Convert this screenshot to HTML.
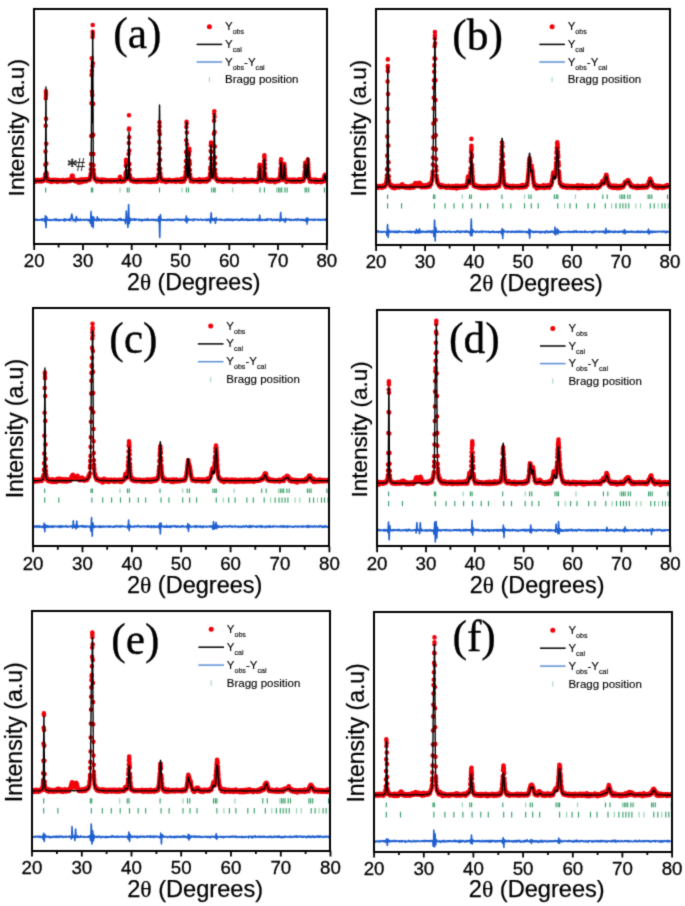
<!DOCTYPE html>
<html><head><meta charset="utf-8"><title>Rietveld refinement XRD patterns</title>
<style>
html,body{margin:0;padding:0;background:#fff;}
body{width:685px;height:906px;overflow:hidden;}
svg{display:block;}
text{font-family:"Liberation Sans",Arial,sans-serif;fill:#111;}
.pl{font-family:"Liberation Serif","Times New Roman",serif;fill:#000;}
.ast{font-family:"Liberation Serif","Times New Roman",serif;fill:#222;}
.th{font-family:"Liberation Serif","Times New Roman",serif;}
.tl,.xt,.yt{fill:#000;}
.tl{stroke:#000;stroke-width:0.3px;}
.xt,.yt{stroke:#000;stroke-width:0.25px;}
.pl{stroke:#000;stroke-width:0.3px;}
.lg{stroke:#000;stroke-width:0.12px;}
.lg{fill:#000;}
</style></head><body>
<svg width="685" height="906" viewBox="0 0 685 906">
<defs><filter id="sb" x="0" y="0" width="1" height="1" color-interpolation-filters="sRGB"><feConvolveMatrix order="3" kernelMatrix="0.025 0.1 0.025 0.1 0.5 0.1 0.025 0.1 0.025" edgeMode="duplicate" preserveAlpha="true"/></filter></defs>
<g filter="url(#sb)">
<rect width="685" height="906" fill="#fff"/>
<clipPath id="clipa"><rect x="34.2" y="8.9" width="292.6" height="235.2"/></clipPath>
<g clip-path="url(#clipa)">
<path d="M34.3 180.9h0m.1.6h0m.3-.9h0m.4.5h0m.5-1.1h0m.1 1.6h0m.2-.8h0m.5.3h0m.8-.7h0m.3.6h0m.3-1.1h0m.3.7h0m.5.7h0m.3-.8h0m.3.7h0m.6-.5h0m.6.6h0m.1-1.2h0m.6.7h0m.5.6h0m.4-.5h0m.3-1h0m.1 1h0m.3-1.3h0m.2 1.1h0m.4-.6h0m.5-.4h0m.1.7h0m.4-1.2h0m.2.7h0m.1-.7h0m.2-1.1h0m.3-1.1h0m.1-2.4h0m.2-9.9h0m.1-13.1h0m.2-25.9h0m.1-27.5h0m.2-5.2h0m.1 25.8h0m.2 24.9h0m.1 19.9h0m.1 9.3h0m.2 1.5h0m.1 2.6h0m.3 1.8h0m.2 1.2h0m.1.6h0m.2-2h0m.1.9h0m.2.9h0m.1.6h0m.3-1.1h0m.1.6h0m.6.2h0m.6-.7h0m.3 1.3h0m.2-.7h0m.1-.6h0m.1 1.4h0m.5-.6h0m.3-.8h0m.1 1.4h0m.2.6h0m.1-1.6h0m.3.7h0m.2-.7h0m.4.5h0m.6-.3h0m.3-.8h0m.3 1.4h0m.1-.7h0m.3.6h0m.6-.3h0m.6-.5h0m.4.7h0m.3-1.1h0m.2.9h0m.2.6h0m.3-.9h0m.3 1.3h0m.2-.6h0m.3.7h0m.1-1.4h0m.3.6h0m.6-.2h0m.1-.8h0m.2.7h0m.6.3h0m.6-.2h0m.5.1h0m.5-.8h0m.1 1.1h0m.2-.8h0m.6.5h0m.3-.7h0m.2 1.2h0m.2-.6h0m.4-.8h0m.2 1.6h0m.1-1.6h0m.2 1h0m.3-.9h0m.1.8h0m.6.3h0m.4-.5h0m.5.4h0m.1-.6h0m.5 1h0m.2-1h0m.2.6h0m.6-1.5h0m.1 1.2h0m.2-.6h0m.7.9h0m.6-.6h0m.1-.8h0m.2 1h0m.6.2h0m.1-.8h0m.7.8h0m.3-1h0m.6-.2h0m.2-1.4h0m.4-1h0m.2-1.6h0m.2.6h0m.2-.7h0m.3 1.5h0m.1-1.4h0m.2 1.9h0m.4 2.1h0m.3-.7h0m.2 1.2h0m.2-1h0m.2.8h0m.3.8h0m.6-.4h0m.1.8h0m.6-1.1h0m.3 1.3h0m.1-.6h0m.8-.5h0m.4 1h0m.2-.9h0m.5.3h0m.2-.6h0m.1.8h0m.2 1.6h0m.1-2.5h0m.2.8h0m.4-1h0m.3 1.1h0m.3.6h0m.1-1.2h0m.3 1.8h0m.2-1.8h0m.6.8h0m.3-.8h0m.3 1.7h0m.1-.7h0m.1-2h0m.2 1.3h0m.6 1h0m.3-.5h0m.6.1h0m.2-.8h0m.2.8h0m.3-.7h0m.6-1.4h0m.1 1.9h0m.3-.6h0m.2.6h0m.4-1.9h0m.1 1.2h0m.3.9h0m.5-1.5h0m.1-.6h0m.2 1.4h0m.4-.4h0m.3-.9h0m.1 1h0m.6-.6h0m.8-.8h0m.3 1h0m.1-1.5h0m.4-1.5h0m.2-.7h0m.3-1.2h0m.1-1.3h0m.2-4.3h0m.1-5h0m.2-10.4h0m.1-18h0m.2-32.8h0m.1-28.2h0m.2-16.6h0m.1 12.5h0m.1 20.9h0m.2 11.8h0m.1-8.6h0m.2-29h0m.1-28.9h0m.2-2.7h0m.1 28.8h0m.2 40.7h0m.1 31h0m.2 19.2h0m.1 11.1h0m.2 4.9h0m.1 3.4h0m.1 1h0m.2.8h0m.1 2.2h0m.3 1h0m.6.3h0m.2.9h0m.3-1.1h0m.1 1h0m.1-.7h0m.2 1h0m.1-.7h0m.3.9h0m.3-.9h0m.2 1.4h0m.1.8h0m.2-2h0m.1 1.9h0m.2-1.3h0m.5 1.1h0m.3-1h0m.6.9h0m.2-1.3h0m.1.7h0m.3.7h0m.3-.7h0m.7.8h0m.5-.6h0m.3-.8h0m.1.9h0m.3 1.2h0m.1-.8h0m.5-1.6h0m.1 1.6h0m.3-.7h0m.2.7h0m.3-1.1h0m.1 1.2h0m.4-.5h0m.3-.7h0m.2.8h0m.3-.6h0m.1 1.1h0m.2-.7h0m.1-.8h0m.2.9h0m.4-.5h0m.1 1.1h0m.2-.9h0m.6 1h0m.3-.8h0m.3.8h0m.3-.7h0m.5-.3h0m.3.6h0m.8.3h0m.1-.6h0m.6.5h0m.1-1h0m.2 1.3h0m.1-1h0m.5.6h0m.6-1h0m.3.5h0m.2.8h0m.3-.6h0m.5-.4h0m.3.7h0m.6-.9h0m.2.7h0m.2-.7h0m.3 1.1h0m.4-.5h0m.6.2h0m.5-.5h0m.2.6h0m.6-1.1h0m.3.9h0m.3-.7h0m.5.5h0m.4.9h0m.1-.9h0m.2.7h0m.3-1.2h0m.4.9h0m.2-1h0m.1 1.2h0m.3-2.2h0m.1 1.1h0m.3-2.3h0m.2.7h0m.1-1.7h0m.2 1.9h0m.3 1.4h0m.1-.9h0m.3 1.5h0m.2 1h0m.1-1.5h0m.1.8h0m.3-.6h0m.3 1h0m.2-1.5h0m.1.9h0m.3-1h0m.2 1.6h0m.3-1.4h0m.1 1.4h0m.2-.9h0m.2.7h0m.2-.7h0m.3.6h0m.4-1.8h0m.3 1.1h0m.2-1.4h0m.3-1.2h0m.1-.7h0m.1-3.1h0m.2-1.4h0m.1-7h0m.2-3.9h0m.1-2.1h0m.2 3.6h0m.1 2.2h0m.2 5.9h0m.1 3.3h0m.2 2.6h0m.1 1.1h0m.6.4h0m.1-.7h0m.2-.9h0m.1-.6h0m.2-1.7h0m.1-2.3h0m.2-9.2h0m.1-9.3h0m.2-11.1h0m.1-13.5h0m.2-1h0m.1 8.9h0m.1 13.2h0m.2 13.5h0m.1 5.7h0m.2 5.2h0m.1 1.4h0m.3.6h0m.2 2.6h0m.3-.8h0m.1 1.6h0m.2-1.4h0m.1 1.6h0m.3-.8h0m.3 1h0m.1-1h0m.2 1.1h0m.1-1.1h0m.2 1.1h0m.3-.6h0m.4-.7h0m.2.9h0m.4-.5h0m.1 1.6h0m.2-1.1h0m.3.9h0m.3-.8h0m.7.9h0m.3-.7h0m.6.4h0m.1-.6h0m.3 1.4h0m.2-1h0m.3.8h0m.1-1h0m.4-.4h0m.3.6h0m.3-.6h0m.5 1h0m.1-.9h0m.3 1.3h0m.2-1.2h0m.1.9h0m.3-.7h0m.1-.7h0m.2 1h0m.6.3h0m.3-1.1h0m.1 1.2h0m.2-.6h0m.4.8h0m.3-1.7h0m.1.9h0m.6-.8h0m.2 1.2h0m.1-.9h0m.6.8h0m.3-.7h0m.4.8h0m.5-.6h0m.4-.7h0m.1 1.6h0m.2-1.1h0m.3 1h0m.3-.6h0m.3-.8h0m.1.8h0m.5.6h0m.1-1.2h0m.3.8h0m.4-.6h0m.3-.6h0m.6 1.1h0m.3-1.1h0m.2 2.1h0m.1-1.6h0m.3 1h0m.3-1.1h0m.4 1.1h0m.2-.7h0m.4.7h0m.2-1.3h0m.4 1.8h0m.3-.6h0m.4-1.5h0m.2 1.1h0m.1-.8h0m.5.5h0m.5-.3h0m.2.8h0m.4-.8h0m.2-1h0m.1 1.2h0m.2 1.3h0m.1-.9h0m.7-.6h0m.6-.4h0m.2.7h0m.7 1.1h0m.2-1.4h0m.2.8h0m.2-1.2h0m.4.5h0m.2-1.1h0m.3-.9h0m.1-1.5h0m.3-2.6h0m.2-4.9h0m.1-5h0m.1-10.9h0m.2-11.4h0m.1-11.3h0m.2-8.4h0m.1 4.1h0m.2 7.6h0m.1 14.4h0m.2 11.5h0m.1 8.8h0m.2 4.5h0m.1 2.4h0m.2 1.5h0m.1.8h0m.1 1.3h0m.2-.7h0m.1 1h0m.6 1.6h0m.2-1.5h0m.1.6h0m.6.3h0m.3-.9h0m.1.8h0m.2-.6h0m.1.8h0m.2-.7h0m.3.6h0m.1.7h0m.3-.5h0m.3-.6h0m.6 1.1h0m.3-1.2h0m.1 1.9h0m.3-.8h0m.3.8h0m.2-1.2h0m.4-.7h0m.1.9h0m.6-.7h0m.2 1.1h0m.1-1.1h0m.2.9h0m.1-1.2h0m.2 1h0m.4-.5h0m.2-.8h0m.2 1.1h0m.3-.7h0m.5.6h0m.4.5h0m.5-.8h0m.5.8h0m.3-.6h0m.2.9h0m.6-.3h0m.1-1h0m.3 1.1h0m.1-.9h0m.3.6h0m.6-.3h0m.6.8h0m.3-1.1h0m.1 1h0m.2-.7h0m.3-.6h0m.1.7h0m.5-.9h0m.1 1.9h0m.2-1.1h0m.3.6h0m.1-.6h0m.3-.6h0m.1.8h0m.6-.8h0m.5 1h0m.4-1.3h0m.3.6h0m.4.5h0m.3-.8h0m.3.7h0m.5 1h0m.1-1.3h0m.6.4h0m.6-.3h0m.1-1h0m.2-.8h0m.1 2.9h0m.2-.8h0m.3-1.4h0m.2 1.6h0m.2-2.2h0m.1 1.2h0m.2.7h0m.4-.8h0m.2 1.4h0m.1-2h0m.3.5h0m.6-1.2h0m.1-.8h0m.2 1.3h0m.3-1.3h0m.1-2.9h0m.2-3.2h0m.1-4.6h0m.2-6.1h0m.1-9h0m.2-11.8h0m.1-13.4h0m.2-5.1h0m.1 1.6h0m.1 9.2h0m.2 11.8h0m.1 10.9h0m.2 9.2h0m.1 5.3h0m.2 3.5h0m.1 1.2h0m.2 1.7h0m.3-1.6h0m.1 1h0m.2-2.2h0m.1-2h0m.1-5.4h0m.2-5.7h0m.1-5.8h0m.2-4.7h0m.1-1h0m.2 2.5h0m.1 9.7h0m.2 2.9h0m.1 6.2h0m.2 4.4h0m.1 2.1h0m.2 1.4h0m.1.9h0m.1.8h0m.3 1.5h0m.2-2.1h0m.1.8h0m.6 1.1h0m.2-1.2h0m.3.9h0m.3.7h0m.2-.8h0m.6-.8h0m.2.8h0m.6.9h0m.4-1.2h0m.4.5h0m.8-.6h0m.4.6h0m.2-.7h0m.2 1h0m.3-.8h0m.5.7h0m.4-.9h0m.2 1.4h0m.4-.6h0m.1-.7h0m.3.7h0m.5-1.7h0m.1 1.4h0m.3.8h0m.3.6h0m.3-.6h0m.3-1.3h0m.1 1.1h0m.3-.7h0m.6.2h0m.6.3h0m.2-1.2h0m.1.8h0m.1-.7h0m.2.6h0m.6.2h0m.1.8h0m.2-1.3h0m.1.9h0m.2-1.2h0m.3.9h0m.5-.7h0m.5-.5h0m.1.9h0m.3.8h0m.2-1.2h0m.1 1.4h0m.2-1.2h0m.1 1.3h0m.1-.8h0m.6.4h0m.3-1h0m.3-1.3h0m.2 1.2h0m.6-.2h0m.5-1.3h0m.2 1.3h0m.1-1.5h0m.5-.4h0m.1-1.3h0m.2-1.5h0m.1-1.6h0m.2-4.3h0m.1-1.8h0m.1-9.1h0m.2-7.3h0m.1-5.7h0m.2-2.8h0m.1 1.1h0m.2 8.1h0m.1 7.4h0m.2 4.5h0m.1 6.2h0m.2 2.3h0m.1 2.9h0m.2 1.3h0m.1.6h0m.3-.7h0m.1.9h0m.2-1.5h0m.3-1.8h0m.1-3.8h0m.2-5.9h0m.1-5.8h0m.2-12.2h0m.1-12.4h0m.2-13.1h0m.1-7.2h0m.1-2.2h0m.2 5.4h0m.1 15.4h0m.2 14.4h0m.1 10.9h0m.2 6.1h0m.1 6.3h0m.2 3.9h0m.1 2.3h0m.2.7h0m.3 1.8h0m.3-.6h0m.1.9h0m.1.6h0m.5.7h0m.4-.9h0m.2 1.2h0m.3.9h0m.1-1.1h0m.3.9h0m.3-.5h0m.3-.6h0m.1.8h0m.2-.8h0m.6-.5h0m.1.6h0m.2.7h0m.5.2h0m.3-.8h0m.6-.3h0m.2.7h0m.3 1.2h0m.1-1.1h0m.4 1h0m.2-1.4h0m.4.4h0m.3.6h0m.2-1.2h0m.1.6h0m.2.9h0m.1-1.1h0m.4-1h0m.2 1.2h0m.1.7h0m.2-.8h0m.1-.7h0m.2 1h0m.6-.2h0m.3-.8h0m.1 1.4h0m.6-.6h0m.4-.9h0m.2.9h0m.4.5h0m.4-.8h0m.3.8h0m.5-.6h0m.6-.7h0m.1 1.3h0m.2-1.1h0m.2.6h0m.3-.6h0m.2 1.3h0m.6-.9h0m.1-1.2h0m.2 1.7h0m.4-.4h0m.4-.6h0m.3.5h0m.2 1.1h0m.1-1.1h0m.2 1.1h0m.1-.7h0m.2-.8h0m.1 1.8h0m.2-1.5h0m.1.7h0m.3-.5h0m.3.7h0m.3-1h0m.4 1h0m.2-.6h0m.3.9h0m.5-1.5h0m.2 1.3h0m.3-.6h0m.3-.7h0m.3.7h0m.6.4h0m.5-.5h0m.6.2h0m.5-.5h0m.4 1h0m.3-1.1h0m.1.9h0m.5-.6h0m.3.7h0m.3-1h0m.6.4h0m.2.9h0m.2-.9h0m.1.8h0m.3-.8h0m.2-.6h0m.1 1.2h0m.3.7h0m.3-.8h0m.3-.8h0m.1.6h0m.3.7h0m.3-2.3h0m.2 2.1h0m.1-1.1h0m.2.8h0m.1-.6h0m.3.6h0m.3-.8h0m.2 1.1h0m.2-.6h0m.5.9h0m.1-.8h0m.5-.6h0m.3.6h0m.3.5h0m.2-1.2h0m.2.8h0m.6-.8h0m.1 1.1h0m.2-.9h0m.1.6h0m.2-1h0m.1 1.1h0m.2-.7h0m.1.9h0m.4-1.1h0m.5.9h0m.7-.1h0m.6-1.2h0m.3.6h0m.4.8h0m.2-.7h0m.7.4h0m.6-.2h0m.3.8h0m.1-.9h0m.6-.2h0m.7.8h0m.2-.7h0m.1.6h0m.5-.9h0m.3 1.6h0m.1-1h0m.6-1.3h0m.3.7h0m.3-.9h0m.3-1.1h0m.1-.9h0m.2-2.2h0m.1-2.2h0m.2-1.4h0m.1-4.1h0m.2-1.6h0m.1-1h0m.3 2.9h0m.1 1.9h0m.2 2.8h0m.1 1.6h0m.2 2h0m.1 2.1h0m.2.7h0m.3.8h0m.4 1h0m.2-1.1h0m.5-.5h0m.2.9h0m.3-.7h0m.3-.8h0m.1-1.4h0m.3-3.8h0m.2-1.4h0m.1-4.7h0m.1-3.1h0m.2-3.1h0m.1-4.2h0m.2-1.4h0m.1 2.4h0m.2 2.5h0m.1 4.1h0m.2 4.1h0m.1 4.9h0m.2 1.9h0m.1 1.7h0m.3 2.1h0m.1-.7h0m.2 1.4h0m.1-.8h0m.2 2h0m.1-2h0m.2 1.8h0m.3-1.5h0m.1.9h0m.2.9h0m.3-1.6h0m.1.7h0m.6 1.3h0m.1-.9h0m.6.4h0m.2-.8h0m.1 1.2h0m.2-1.3h0m.3.8h0m.1.6h0m.1-1h0m.3.8h0m.6-.5h0m.6.7h0m.2-1.8h0m.2 1.7h0m.3-1h0m.3.9h0m.2-.9h0m.1.7h0m.5-.4h0m.1.6h0m.2-1.1h0m.2.8h0m.2-.9h0m.3.9h0m.6-.8h0m.1 2h0m.2-2h0m.5 1.2h0m.2-.7h0m.4.9h0m.2-.9h0m.1-.7h0m.2 1h0m.1-.6h0m.6.2h0m.3-.9h0m.1 1.3h0m.2-.6h0m.4-1.2h0m.3 1.7h0m.2-1.2h0m.3-.6h0m.5-.4h0m.2-1.1h0m.1-1.2h0m.2-1.2h0m.1-2.1h0m.2-3.2h0m.1-1.7h0m.2-4.6h0m.1-2.6h0m.2-1.8h0m.1 2.7h0m.2.6h0m.1 2.8h0m.1 3.9h0m.2 4.1h0m.1.9h0m.2 3.3h0m.4 1h0m.2 1.4h0m.1-1.6h0m.6-.9h0m.1-2.4h0m.2-1.5h0m.1-2.3h0m.2-1.9h0m.1-1.5h0m.2-3.8h0m.1 1.2h0m.3 3h0m.2 1.4h0m.1 2.8h0m.2 3h0m.1.7h0m.2 2.4h0m.2.8h0m.5.7h0m.1.7h0m.2 1.2h0m.1-2.3h0m.2.9h0m.3-.6h0m.1.7h0m.4.6h0m.2-1.7h0m.1 1.2h0m.3-.6h0m.2.8h0m.6-.9h0m.1 1h0m.3-.9h0m.4 1h0m.2-1.1h0m.1.6h0m.3.9h0m.2-1.3h0m.1 1h0m.2-1.3h0m.1 1h0m.4-.5h0m.2-.6h0m.3 1.6h0m.3-1.1h0m.1.9h0m.2-.8h0m.4.9h0m.3-1h0m.2.6h0m.2.9h0m.2-2.2h0m.1 1.2h0m.3-.8h0m.2 1h0m.4-.5h0m.5.5h0m.4-.9h0m.1 1.5h0m.5-1.2h0m.3 1.2h0m.3-1.3h0m.7 1h0m.3-.7h0m.1-.7h0m.3.8h0m.5.6h0m.3-1h0m.1-1h0m.1.8h0m.5.7h0m.4-.7h0m.2 1.7h0m.1-1h0m.5-.9h0m.1 1h0m.7.3h0m.2-.9h0m.4-.6h0m.5.9h0m.3-1.6h0m.1 1h0m.1.7h0m.2-2h0m.3.5h0m.1-1.3h0m.3-1h0m.2-2.5h0m.1-.7h0m.2-2.4h0m.1-4.1h0m.2-1.5h0m.1-1h0m.1-2h0m.2 1.3h0m.1 2.2h0m.2 1.7h0m.1 3.6h0m.2 1.7h0m.1.6h0m.2 2.2h0m.1.8h0m.3-1.9h0m.3-1.8h0m.1-3.6h0m.2-2.2h0m.1-3h0m.2-4h0m.1-.7h0m.3 2.9h0m.2 2h0m.1 3h0m.2 3.5h0m.1 2.6h0m.2 2.3h0m.1 1.5h0m.3 1h0m.1 1h0m.5 2h0m.1-.8h0m.8-1.2h0m.1 1h0m.3 1.2h0m.1-2.1h0m.2 1.8h0m.1-.8h0m.2.5h0m.1-.6h0m.3.8h0m.5-.6h0m.7.8h0m.1-1.3h0m.3.6h0m.2.9h0m.6-1.2h0m.3-.9h0m.1 1h0m.2.6h0m.1-1.1h0m.4.9h0m.3 1.2h0m.3-2h0m.3.8h0m.3-.9h0m.3.6h0m.4.5h0m.6.7h0m.2-1.5h0m.3.8h0m.1.6h0m.2-.8h0m.5-.4h0m.2.7h0m.6.2h0m.1-.9h0m.2.8h0m.1-1.3h0m.2 1.3h0m.1.9h0m.1-1.1h0m.6-.5h0m.6.2h0m.3-1h0m.2 2h0m.1-1.1h0m.2-1h0m.1 1.4h0m.1-.7h0m.5-1.2h0m.1-1.7h0m.2 1.1h0m.3-.9h0m.1-2.1h0m.5-.7h0m.1.6h0m.1 1.1h0m.3 2.6h0m.2-.9h0m.1 1.2h0m.5 1.2h0m.3.6h0m-280.7-89.9h0m.1 4h0m46.7-70.4h0m0 6.9h0m36.3 83.3h0" stroke="#f2000a" stroke-width="4.6" stroke-linecap="round" fill="none"/>
<path d="M34.2 180.9l.5 0 .6 0 .5 0 .5 0 .6 0 .5 0 .6 0 .5-.1.5 0 .6 0 .5 0 .5 0 .6 0 .5-.1.5 0 .6-.1.5-.1.6-.3.4-.4.2-.3.2-.4.1-.5.1-.4.1-.7.1-.3 0-.5.1-.6 0-.8.1-1.1 0-1.5.1-2.2 0-3 .1-4.2 0-5.6.1-7.2 0-9 .1-10.5 0-11.5.1-11.7 0-10.6.1-7.5 0-2.7.1 2.7 0 7.5.1 10.6 0 11.7 0 11.5.1 10.5 0 9 .1 7.2 0 5.6.1 4.2 0 3 .1 2.2 0 1.5.1 1.1 0 .8.1.6 0 .5.1.3.1.7.1.4.1.5.2.4.2.3.4.4.5.3.6.1.5.1.5 0 .6.1.5 0 .6 0 .5 0 .5 0 .6 0 .5 0 .5.1.6 0 .5 0 .5 0 .6 0 .5 0 .6 0 .5 0 .5 0 .6 0 .5 0 .5 0 .6 0 .5 0 .6 0 .5 0 .5 0 .6 0 .5 0 .5 0 .6 0 .5 0 .5 0 .6 0 .5 0 .6 0 .5 0 .5 0 .6 0 .5 0 .5-.1.6 0 .5-.2.5-.2.6.1.5.2.6.1.5 0 .5 0 .6 0 .5 0 .5 0 .6 0 .5 0 .5 0 .6 0 .5 0 .6 0 .5 0 .5 0 .6 0 .5 0 .5 0 .6 0 .5 0 .5-.1.6 0 .5 0 .6 0 .5-.1.5 0 .6-.1.5-.1.5-.2.6-.2.5-.3.4-.4.2-.4.2-.3.1-.4.2-.5.1-.4.1-.5.1-.5.1-.7 0-.5.1-.5 0-.6.1-.7 0-.8.1-1.2 0-1.4.1-1.9 0-2.4.1-3.3 0-4.2.1-5.5 0-6.7.1-8.3 0-9.7.1-11 0-11.9 0-12.3.1-11.8 0-10.1.1-7 0-2.9.1 1.7 0 5.8.1 8.7 0 10.1.1 10.3 0 9.4.1 7.7 0 5.5.1 2.8.1-3.3 0-6.1.1-8.9 0-11.2.1-13.1 0-13.8.1-13.4 0-11.5.1-7.6 0-2.5.1 3.4 0 8.7.1 12.5 0 14.7.1 15.4 0 15 .1 13.8 0 12.2.1 10.4 0 8.5.1 6.9 0 5.3.1 4.1 0 3.1.1 2.4 0 1.7 0 1.4.1 1.1 0 .9.1.7 0 .6.1.5 0 .4.1.4 0 .4.1.6.1.5.1.4.1.4.2.4.2.4.2.5.3.3.4.4.6.2.5.2.6.1.5.1.5.1.6 0 .5.1.5 0 .6 0 .5 0 .5.1.6 0 .5 0 .6 0 .5 0 .5 0 .6 0 .5 0 .5 0 .6 0 .5 0 .5 0 .6 0 .5 0 .6 0 .5 0 .5 0 .6 0 .5.1.5 0 .6 0 .5 0 .5 0 .6 0 .5-.1.6 0 .5 0 .5 0 .6 0 .5 0 .5 0 .6 0 .5 0 .5-.1.3-.4.2-.4.1-.4.1-.3.4.5.2.5.2.3.5.2.5.1.6-.1.5 0 .5 0 .6-.1.5-.1.6-.4.2-.4.1-.5.1-.7.1-.4 0-.6.1-.8 0-.8.1-1.1 0-1.2.1-1.4 0-1.5.1-1.6 0-1.5.1-1.5 0-1.1.1-.8.1.7.1 1.2 0 1.4.1 1.5 0 1.6.1 1.4 0 1.4.1 1.2 0 1 .1.9 0 .7.1.6 0 .4.1.6.2.4.5 0 .2-.4.2-.5.1-.5 0-.4.1-.5 0-.7.1-.8 0-1.1.1-1.3 0-1.8.1-2.1 0-2.6.1-3.1 0-3.5.1-4 0-4.3.1-4.5 0-4.5.1-4.1 0-3.3.1-2.2 0-.8.1.8 0 2.2 0 3.4.1 4.1 0 4.4.1 4.5 0 4.3.1 4 0 3.6.1 3.1 0 2.6.1 2.1 0 1.8.1 1.3 0 1.1.1.9 0 .6.1.5 0 .4.1.6.1.4.2.4.2.4.3.3.5.4.5.1.6.1.5.1.5 0 .6.1.5 0 .5 0 .6 0 .5 0 .6 0 .5 0 .5 0 .6 0 .5 0 .5 0 .6 0 .5.1.6 0 .5 0 .5 0 .6 0 .5 0 .5 0 .6 0 .5 0 .5 0 .6 0 .5-.1.6 0 .5 0 .5 0 .6 0 .5 0 .5 0 .6 0 .5 0 .5 0 .6 0 .5 0 .6 0 .5 0 .5-.1.6 0 .5 0 .5-.1.6-.1.5-.2.5-.2.5-.4.3-.4.2-.3.1-.4.2-.6.1-.5.1-.6 0-.5.1-.5 0-.7.1-.8 0-1.1.1-1.3 0-1.7 0-2.1.1-2.6 0-3.1.1-3.7 0-4.4.1-4.9 0-5.5.1-6.1 0-6.3.1-6.4 0-6.2.1-5.6 0-4.5.1-2.9 0-1 .1 1 0 2.9.1 4.5 0 5.6.1 6.2 0 6.4.1 6.3 0 6.1.1 5.5 0 4.9.1 4.4 0 3.7.1 3.1 0 2.6.1 2.1 0 1.7.1 1.3 0 1.1.1.8 0 .7.1.5 0 .5.1.3 0 .6.1.4.2.5.1.4.2.3.3.4.5.4.6.2.5.1.5.1.6.1.5 0 .5 0 .6.1.5 0 .5 0 .6 0 .5 0 .6 0 .5 0 .5 0 .6 0 .5 0 .5 0 .6 0 .5 0 .5 0 .6 0 .5 0 .6 0 .5 0 .5 0 .6 0 .5 0 .5 0 .6 0 .5 0 .5 0 .6 0 .5 0 .6-.1.5 0 .5 0 .6-.1.5 0 .5-.1.6-.2.5-.2.5-.4.3-.4.2-.4.1-.4.1-.3.1-.5.1-.6.1-.5 0-.5.1-.6 0-.9.1-1 0-1.2.1-1.6 0-1.8.1-2.2 0-2.6.1-3.1 0-3.4.1-3.8 0-4.1.1-4.5 0-4.5.1-4.6 0-4.3 0-3.8.1-3 0-1.9.1-.7 0 .7.1 1.9 0 3 .1 3.8 0 4.2.1 4.5 0 4.6.1 4.4 0 4.1.1 3.8 0 3.4.1 3 0 2.5.1 2.2 0 1.9.1 1.4 0 1.3.1.9 0 .8.1.6 0 .5.1.4.1.6.1.4.5-.6 0-.3 0-.5.1-.6 0-.7.1-.9 0-1.1.1-1.3 0-1.4.1-1.7 0-1.9.1-2.1 0-2.2.1-2.2 0-2.3.1-2.1 0-1.9.1-1.4 0-1 .2 1 0 1.6.1 1.9 0 2.1.1 2.3 0 2.3.1 2.3 0 2.1.1 1.9 0 1.8.1 1.5 0 1.3.1 1.2 0 .9.1.8 0 .7.1.5 0 .4.1.7.1.4.1.4.3.4.4.4.5.2.6.2.5.1.5 0 .6.1.5 0 .5 0 .6 0 .5.1.5 0 .6 0 .5 0 .6 0 .5 0 .5 0 .6 0 .5 0 .5 0 .6 0 .5 0 .5 0 .6 0 .5 0 .6-.1.5 0 .5 0 .6 0 .5 0 .5-.1.6-.1.5-.1.5-.1.6-.3.4-.3.2-.4.2-.5.1-.3.1-.5.1-.7.1-.5 0-.6.1-.8 0-.9 0-1 .1-1.3 0-1.4.1-1.7 0-1.9.1-2.1 0-2.3.1-2.5 0-2.6.1-2.6 0-2.6.1-2.4 0-2.1.1-1.7 0-1 .1-.4.1 1.4 0 1.6.1 2.1 0 2.4.1 2.5 0 2.6.1 2.5 0 2.5.1 2.3 0 2 .1 1.9 0 1.7.1 1.4 0 1.2.1 1 0 .8.1.7 0 .6.1.4 0 .4.1.5.1.4.6-.2.1-.4.1-.4.1-.6.1-.4 0-.5.1-.6 0-.7.1-.9 0-1.2.1-1.3 0-1.7.1-2 0-2.3.1-2.8 0-3.1.1-3.6 0-3.9.1-4.3 0-4.6.1-4.8 0-4.9.1-4.8 0-4.4 0-3.9.1-3 0-1.9.1-.7 0 .7.1 1.9 0 3.1.1 3.9 0 4.4.1 4.8 0 4.9.1 4.8 0 4.6.1 4.4 0 3.9.1 3.6 0 3.2.1 2.7 0 2.4.1 2 0 1.7.1 1.4 0 1.1.1 1 0 .7.1.7 0 .5.1.4 0 .4.1.5.1.4.2.5.1.4.2.3.3.4.4.4.6.2.5.2.5.1.6.1.5 0 .5.1.6 0 .5 0 .6.1.5 0 .5 0 .6 0 .5 0 .5 0 .6 0 .5 0 .5 0 .6 0 .5 0 .6 0 .5 0 .5.1.6 0 .5 0 .5 0 .6 0 .5 0 .5 0 .6 0 .5 0 .6 0 .5 0 .5 0 .6 0 .5 0 .5 0 .6 0 .5 0 .5 0 .6 0 .5 0 .6 0 .5 0 .5 0 .6 0 .5 0 .5 0 .6 0 .5 0 .6 0 .5 0 .5 0 .6 0 .5 0 .5 0 .6 0 .5 0 .5 0 .6 0 .5 0 .6 0 .5 0 .5 0 .6-.1.5 0 .5 0 .6 0 .5 0 .5 0 .6 0 .5 0 .6 0 .5-.1.5 0 .6-.1.5-.1.5-.3.3-.4.2-.5.1-.4.1-.6 0-.4.1-.4 0-.6.1-.5 0-.7.1-.7 0-.9.1-.8 0-.9.1-1 0-1 .1-1 0-.9.1-.8 0-.8 0-.5.1-.4.2.9 0 .7.1.9 0 .9.1 1 0 1 .1.9 0 .9.1.9 0 .8.1.7 0 .7.1.6 0 .5.1.4 0 .4.1.6.1.4.2.4.3.4.5.2.5-.1.6-.4.2-.4.2-.5.1-.6.1-.7 0-.5 0-.6.1-.7 0-.7.1-.9 0-1 .1-1.1 0-1.1.1-1.3 0-1.4.1-1.4 0-1.4.1-1.4 0-1.3.1-1.3 0-1 .1-.8 0-.5.2.5 0 .8.1 1 0 1.3.1 1.3 0 1.4.1 1.5 0 1.4.1 1.3 0 1.3.1 1.2 0 1.1.1.9 0 .9.1.8 0 .7.1.5 0 .5.1.5 0 .3.1.6.1.3.1.4.3.4.5.3.6.2.5.1.5.1.6 0 .5 0 .5.1.6 0 .5 0 .6 0 .5 0 .5 0 .6 0 .5 0 .5 0 .6 0 .5 0 .5 0 .6-.1.5 0 .6 0 .5-.1.5-.1.6-.1.5-.4.3-.3.1-.4.1-.4.1-.5.1-.7.1-.5 0-.5.1-.6 0-.7.1-.8 0-.8.1-1 0-1 .1-1.1 0-1.1.1-1.2 0-1.2.1-1.1 0-1.1.1-1 0-.9.1-.6 0-.5.2.4 0 .7.1.8 0 1 0 1.1.1 1.2 0 1.1.1 1.2 0 1.1.1 1.1 0 1 .1.9 0 .9.1.7 0 .7.1.6 0 .5.1.5 0 .3.1.6.1.4.2.4.5.2.3-.4.1-.6.1-.5.1-.4 0-.5.1-.4 0-.6.1-.7 0-.7.1-.7 0-.9.1-.9 0-.9.1-1 0-1 .1-.9 0-.9.1-.8 0-.7.1-.6.1-.4.1.5 0 .5.1.7 0 .8.1 1 0 .9.1 1 0 1 .1.9 0 1 .1.8 0 .8.1.7 0 .7.1.6 0 .5.1.4 0 .4.1.6.1.5.1.4.3.4.5.4.6.1.5.1.5.1.6 0 .5.1.5 0 .6 0 .5 0 .5 0 .6 0 .5 0 .6 0 .5 0 .5 0 .6 0 .5 0 .5 0 .6 0 .5 0 .5 0 .6 0 .5 0 .6 0 .5 0 .5 0 .6-.1.5 0 .5 0 .6-.1.5-.1.6-.1.5-.3.3-.4.2-.5.1-.4.1-.5.1-.8.1-.4 0-.5.1-.6 0-.6.1-.7 0-.8.1-.8 0-.9.1-.9 0-1 .1-1 0-1 .1-1 0-.9 0-.8.1-.7 0-.5.1-.5.1.4.1.5 0 .7.1.7 0 .9.1 1 0 .9.1 1 0 .9.1.9 0 .9.1.7 0 .8.1.6 0 .6.1.5 0 .4.1.4.1.6.1.4.3-.5.1-.5 0-.4.1-.5 0-.5 0-.7.1-.7 0-.8.1-1 0-1 .1-1.1 0-1.2.1-1.2 0-1.3.1-1.3 0-1.4.1-1.2 0-1.3.1-1 0-.9.1-.7 0-.5.2.5 0 .7.1 1 0 1.1.1 1.2 0 1.3.1 1.4 0 1.3.1 1.3 0 1.3.1 1.2 0 1.2.1 1 0 1 .1.8 0 .8.1.7 0 .6.1.5 0 .5.1.4 0 .6.1.5.2.4.2.4.3.3.6.3.5.2.5.1.6.1.5 0 .5 0 .6.1.5 0 .6 0 .5 0 .5 0 .6 0 .5 0 .5 0 .6 0 .5 0 .5 0 .6 0 .5 0 .6 0 .5 0 .5 0 .6 0 .5-.1.5-.1.5-.4.2-.4.1-.5.1-.4.1-.6.1-.6.1-.7.1-.6.1-.7.1-.5.4.5.1.7.1.6.1.7.1.6.1.6.1.4.1.3.1.4.3.4.5.3.1 0" stroke="#000" stroke-width="1.35" fill="none" stroke-linejoin="round"/>
<path d="M45.7 187.6V192.4M91.4 187.6V192.4M92.7 187.6V192.4M127.3 187.6V192.4M129.1 187.6V192.4M159.5 187.6V192.4M186.4 187.6V192.4M188.5 187.6V192.4M211.7 187.6V192.4M213.7 187.6V192.4M215.1 187.6V192.4M260 187.6V192.4M264.4 187.6V192.4M278.3 187.6V192.4M280 187.6V192.4M281.7 187.6V192.4M284.9 187.6V192.4M287.1 187.6V192.4M305.1 187.6V192.4M306.8 187.6V192.4M308.8 187.6V192.4M324.4 187.6V192.4" stroke="#2f9a62" stroke-width="1.1" fill="none"/>
<path d="M120 187.6V192.4M182 187.6V192.4M232.7 187.6V192.4M276.6 187.6V192.4" stroke="#8fd0ac" stroke-width="1.1" fill="none"/>
<path d="M34.2 219.7l.2.5.3-.9.2.6.3.2.2 0 .3-.7.2-.2.3 1.3.2-.9.2-.4.3.1.2.5.3.5.2-.5.3.5.2-.4.2.1.3.2.2-.5.3.3.2-.3.3-.1.2.5.3-.6.2.4.2-.4.3.3.2-.2.3.7.2-.4.3 0 .2.6.2-1.8.3.7.2-.7.3 1.1.2.2.3.1.2-.2.3-.4 0 1.1.1-.6 0-.2 0-.3.1.7 0-.2.1.1 0 .5.1.2 0-.2.1 1 0-.7.1.1 0 .7.1-.1 0-.1.1-.4 0-.1.1-.6 0-.9.1.4 0-1.3.1-.3 0-.2.1-.9 0 .6.1-2 0 .1.1.4 0 .8.1 0 0 .3.1 2.1 0 .5.1 1.6 0 1.9.1.7 0 1.3.1 1.3 0 .4.1.5 0-.6.1-.2 0-1.1 0-1.2.1.2 0-1.7.1-.9 0-1.9.1-.5 0-.9.1-1.1 0 .3.1-.9 0 .1.1-.5 0 1.1.1.1 0 .1.1-.2 0 .5.1.9 0-.3.1.4 0 .1.1-.4 0 1.2.1-1.4 0 .9.1-.1.2-.5.3.7.2.1.2-.2.3-.3.2.5.3.2.2-.3.3.6.2-.4.2 0 .3.3.2-.9.3.1.2.4.3 0 .2.4.3-.1.2-.4.2 0 .3-.2.2 0 .3-.1.2.6.3-.6.2.1.3.2.2-.3.2.1.3-.8.2 1.1.3-.3.2.2.3.1.2-.9.2 1.7.3-.9.2 0 .3-.8.2 1 .3-.1.2-.3.3.2.2.5.2-.7.3-.2.2.9.3-.4.2-.2.3 1 .2-.9.2-.1.3.2.2-.3.3.2.2 0 .3-.3.2.2.3.2.2 0 .2.1.3.1.2-.2.3.1.2-.4.3 0 .2.6.2-1.2.3.9.2 1.1.3-2 .2 1.3.3-1.3.2.9.3.5.2-.1.2-.9.3-.2.2 0 .3.8.2-.4.3.1.2.1.2.1.3 0 .2-.1.3-.7.2 1.2.3-1.7.2 1.6.3-.7.2.2.2 0 .3.3 0 .1.1-.1 0-.3.1.8 0-.6.1.8 0-.7.1-.3 0 .4.1.1 0-.9.1 0 0 .5.1-1.3 0-.2.1.1 0-.9.1-.9 0-.1.1.5 0-.3.1-.4 0-.5.1-.9 0 .4.1 0 0-1 .1.5 0-.6.1.1 0 .1 0-.6.1 1.3 0-.8.1.5 0 .1.1.7 0 .2.1.2 0 .9.1-.2 0 .1.1-.7 0 1.3.1.3 0 0 .1.3 0 .8.1.3 0 .5.1-.1 0-.6.1.5 0-.6.1.9 0-.1.1-.3 0 .2.1 0 0-.1.1.8 0 .7.1-.9 0 .1.1-.3 0-.2.1 1 0-1 .1.3 0-.2.2.3.3-.3.2.3.3-.8.2.5.1.6 0-.9.1.1 0 .9.1-.3 0 .3.1-1.2 0 1.1.1-.4 0 .1.1.9 0 .5.1-.9 0 .2.1.2 0 .1 0-.6.1 1.2 0-1 .1-.7 0-.5.1.7 0-.5.1-1.6 0-.1.1-.1 0-1.2.1 0 0 .7.1-.8 0 .3.1-.1 0 .5.1 1 0-.3.1.2 0 .5.1 1.2 0-.4.1-.2 0 .4.1.2 0-.1.1-.8 0 .9.1-.2 0 .4.1-.8 0 .9.1-.6 0-.5.1 1.2 0-.7.1.4 0-.3.1.5 0 0 0 .1.1-.2 0-.9.1-.1 0 .8.1-.5 0 .6.1-.1 0-.7.1.2 0-.1.1.1 0 .3.3.4.2.2.3-.9.2.2.3.8.2-.2.2-.3.3-1 .2.5.3.5.2-.3.3 1 .2-.8.2.1.3-.5.2 0 .3.1.2 0 .3.2.2.2.3 0 .2.3.2-.9.3.6.2 0 .3.5.2-.7.3.2.2-.4.2.5.3 0 .2-.5.3.1.2.2.3.2.2-.7.3.9.2-.5.2.9.3-.2.2-.8.3-.1.2 1.3.3-.7.2-.1.3-.4 0 .2.1.4 0 0 .1-.5 0 .9.1-.2 0-.3.1 1.1 0-.1.1.7 0-.1.1.8 0-.4.1 1.1 0-.6.1.7 0-1.2.1.6 0-.3.1-.8 0-.7.1-2 0-.1.1-1.2 0-2.4.1-1 0-.9.1-.6 0-.3.1-1.2 0 1.6.1.5 0 .8.1 2.2 0 1.1.1 2.4 0 1.5.1 1.2 0 2.1 0 .9.1.2 0 0 .1.4 0 .1.1-1 0-.1.1-1.6 0-1.1.1-1 0-1.5.1-.6 0-1 .1-1.4 0-.2.1.7 0-.6.1.1 0-.3.1.7 0 1.1.1.3 0 .5.1 1.6 0 .3.1.9 0 1.7.1-.1 0 2 .1.3 0 .9.1.5 0 .5.1-.2 0-.4.1-.9 0-.5.1-.9 0-1.6.1-1.1 0-1.5 0-1.1.1-.1 0-.9.1-.1 0-1.4.1 1.7 0-1.6.1.6 0 .6.1-.8 0 .6.1-.3 0 .5.1 0 0 1 .1.2 0-.1.1.7 0 .1.1-.5.2-.1.2 0 .3-.1.2.7.2-.4.3-.2 0 0 .1.3 0-.3.1.3 0-.1.1.6 0 0 .1-1 0 .6.1.5 0-.4.1.6 0-.1.1.1 0-.3.1.1 0 0 .1-1 0 0 .1-.3 0 .7.1-.9 0-.4.1-.5 0-.7.1-.4 0 .3.1-.7 0 .8.1-.6 0 .2.1.1 0 .4 0 .4.1 1 0 .6.1-1.1 0 .8.1.4 0-.5.1.2 0 .1.1-.7 0 1.2.1-.2 0 0 .1 0 0 .1.1.8 0-.8.1.2 0-.5.1.3 0-.2.1 0 0-.3.1.1 0 .5.1.1 0-.1.1-.5 0 .4.1-1.1 0 1.4.1-.4 0 .1.1.4 0-.7.1.6 0-.6.2.4.3-.4.2.3.3.5.2-.9.3.1.2.1.3.2.2 1 .2-1.3.3-.6.2.5.3-.3.2.4.3.2.2-.4.2.1.3-.4.2.8.3-.4.2.7.3 0 .2-.7.3.2.2.1.2.3.3-1 .2.7.3.8.2-.8.3.1.2-.1.3-.5.2.9.2-.3.3 0 .2.2.3 0 .2-1 .3.9.2-.4.2.3.3-.4.2 0 .3.7.2-.4.3-.1.2 0 .3.2.2-.1.2-.9.3.6.2.2.3.4.2.3.3-1 .2 1.2.2-.7.3.1.2-.4.3 0 .2.8.3-.7.2.1.3.5.2.2.2-1.3.3.6.2 0 .3.8.2.2.3-1 .2.2.2.2.3.1.2-.6.3.5.2-.6.3-.8.2.5.3.6.2.3.2-1.3.3.2.2.7.3-1.3.2 1.6.3.2.2-1.7.2 1.6.3-.4.2.6.3-.4.2-.2.3.1.2.3.3-.3.2 0 .2-.6.3.7.2-.1.3.7.2-.8.3 0 .2-.2.1.6 0-.3.1-.1 0 1 0 .2.1-.6 0 0 .1 1.2 0-.4.1 1.9 0-.7.1.8 0-.6.1.7 0 .4.1-.4 0-.8.1.6 0-1.5.1-1.4 0-1.3.1-1.1 0-.7.1-2.3 0-1 .1-1.5 0 0 .1-1.2 0 .2.1 0 0 .1.1 1.3 0 1.1.1.2 0 1.8.1 2.2 0-.7.1 1.1 0-.2.1 1.1 0-.2.1.8 0-.2.1-.4 0 1 0-.5.1-.3 0 .5.1-.3 0 .7.1.1 0 .2.1.9 0-.2.1 1.7 0-.4.1 2.4 0 .3.1.6 0 .5.1.9 0-.3.1-.4 0-.2.1-1.8 0-1.5.1-1.6 0-1.9.1-2.8 0-2.4.1-2.5 0-2.1.1-1.7 0-2.6.1-.7 0-.3.1.6 0 1.5.1 1 0 2.1.1 2.6 0 1.4.1 2.4 0 2.1.1 1.9 0 1.4 0 .6.1 1.5 0-.7.1.1 0 .3.1-.6 0-.8.1-.5 0-.3.1-.9 0-.2.1-1.1 0 .1.1-.9 0 .1.1-.2 0 1 .1-.7 0 .5.1-.4 0 .5.1.1 0-.1.1.8 0-.9.1 1 0 .9.1-1.4 0 .4.1-.6.2.6.2-.7.2 1 .3-.5.2-.5.3.2.2-.1.3.5.2.5.3-.5.2-.3.2.1.3.4.2-1.1.3 1.3.2-.1.3-1.2.2 1.5.2-1.1.3.5.2.6.3-1.1.2-.1.3.3.2 0 .3.4.2-.2.2 0 .3 0 .2.1.3-.2.2.4.3-.1.2-.4.2 1.2.3-1.3.2.8.3-.6.2.5.3 0 .2.2.3.2.2-.9.2 1.5.3-1 .2-.5.3-.2.2 1.5.3-.3.2-.7.2.3.3.3.2-.5.3-.2.2.1.3.4.2-.4.3-.5.2.8.2-1 .3.4.2.8.3-.4.2 0 .3 0 .2.4.3-.5.2-.8.2.9.3-1.3.2.4.3 1.5.2-.2.3-.7.2.2.2.1.3.3.2-.7.3 0 .2.1.3.3.2 0 .3-.2.2.4.2-.7.3.4.2-.3.3-.1.2.9.3-.6.2-.3.2.4.3-.4.2.7.3.1.2 0 .3-.8.2.4.3.8.2-.9.2.6.3.2.2-1.2.3 1 .2-.2.3.1.2.3.2-.5.3-.1.2.2.3-.4.1.3.1-1 0 1.6.1-.9 0 .4.1 0 0 0 .1.1 0 .1.1-.6 0 .6.1.8 0-.8.1.1 0 1.4.1-.4 0 0 .1-.7 0-.2.1-.1 0-.4.1-.7 0-1.1 0-.3.1-.8 0 .7.1-1.2 0-.1.1.1 0 .2.1.9 0 .5.1 1.1 0 3.2.1 1.3 0 2.5.1 2.5 0 2.7.1 2.5 0 2.2.1.4 0 1 .1-.7 0-.4.1-2.7 0-1.7.1-2.3 0-3.4.1-2 0-2.3.1-2.5 0-1.6.1-.9 0-1.4.1-1 0-.2.1.2 0 .6.1.2 0 .6.1 1 0-.6 0 .7.1.2 0 1.7.1-.9 0 1.1.1.5 0-.7.1.3.1.3.3.4.2-.9.3.7.2.2.3-.2.2 0 .2.4.3-.4.2-.1.3-.1.2.4.3-.4.2.4.3-.3.2.5.2-.8.3.3.2.1.3.1.2.3.3-.3.2.2.2.4.3-.5.2-.7.3-.2.2.9.3-.4.2.2.3-.2.2.6.2 0 .3-1 .2.6.3-.2.2-.4.3.8.2-.4.2.3.3.8.2-.5.3-.1.2-.6.3-.3.2 1 .3-.6.2.1.2-.1.3.1.2 1 .3-1.1.2 0 .3.2.2 0 .2-.6.3-.2.2.5.3.1.2-.2.3-.1.2 0 .3.2.2.1.2-.6.3.5.2.3.3-.2.2-.5.3.4.2.2.2.3.3-1 .2 1 .3-.5.2.3.3.2.2-.7.3.1.2.2.2.4.3-.5.2-.4.3.3.2.4.3.3.2-.6.3.1.2 0 .2 0 .3-.3.2.2.3.3.2-.1.3 0 .2-.4.2.2.3-.1 0 .7.1.2 0-.4.1.6 0-.7.1.1 0-.3.1.8 0-.1.1.4 0 .4.1-.1 0-.2.1.5 0 0 .1-.1 0 .1.1-.6 0-.4.1.3 0-.8.1-1 0-.9.1-.5 0-.2.1-.3 0 .2.1-1.3 0 .1.1 0 0 .5 0 .4.1.4 0 1.6.1.5 0 1.2.1.1 0 .9.1.7 0-.7.1.4 0 .9.1-.4 0-1 .1 0 0-.5.1-.2 0 .4.1-1.2 0 .7.1-1.2 0-.4.1.8 0-.4.1.1 0 .2.1-.3 0 .1.1-1 0 .4.1.6 0 0 .1.3 0-.4.1.7 0 .3.1-.5 0 .1.1-.1 0 .2.2-.3.3-.3.2.3.3 0 .2-.7.3.7.2-.1.3.1.2-.3.2.4.3.1.2-.6.3.4.2.2.3 0 .2-.6.2-.1.3.4.2-.4.3 1.4.2-1.3.3 0 .2.6.3-.5.2-.7.2.8.3-.3.2.2.3-.4.2.2.3.3.2.1.2-.4.3.1.2 0 .3.3.2-.1.3-.4.2.7.3-.5.2.4.2-.5.3.5.2-.2.3.1.2.2.3 0 .2-.2.3 0 .2-.5.2.4.3-.8.2 0 .3.8.2 0 .3.7.2-.4.2.2.3-.5.2.3.3.2.2-.2.3-.1.2-.1.3-.4.2 0 .2-.2.3.7.2-.2.3-.2.2.4.3-.3.2.6.2.3.3-.5.2-.5.3-.3.2 1.4.3-.6.2-.7.3.9.2-1.1.2.5.3.1.2-.1.3-.3.2 1.4.3-1 0 .3.1-.1 0-.6.1.6 0 .4.1.5 0-.2.1.6 0 .1 0 .7.1-.8 0 1.6.1-.2 0 .2.1-.9 0 .5.1.3 0 .2.1-1.9 0-.9.1-.5 0-1.2.1-1.5 0-1 .1-1.2 0-.6.1-.7 0-.1.1-.6 0 0 .1.3 0 .9.1.1 0 2.2.1.1 0 1.3.1-.1 0 1.3.1.2 0 .1.1 0 0 .1.1 1.2 0-.2.1-.4 0 .1.1-.4 0-.4 0 0 .1.5 0 .1.1-.4 0 .8.1-.1 0-.1.1-.8 0 .6.1.1 0-.5.1-.4 0 1.7.1-.6 0-.4.1.8 0-.2.1-.2 0-.1.1.2 0 .3.1-.6.2-.1.1.3 0-1.3.1 1.1 0-.2.1.2 0-.1.1.2 0-.1.1 0 0-.1.1.3 0-.4.1.6 0-1.1 0 .8.1.1 0-.7.1.3 0 .7.1-.6 0-.3.1-.8 0 1.3.1-.1 0 .3.1.6 0-.8.1 0 0-.2.1.3 0 .2.1.5 0 .1.1-.2 0 .4.1 1.2 0-.6.1 1 0 .6.1-.2 0-.1.1.3 0-.6.1-.4 0-.5.1.1 0-.6.1-.1 0-1.2.1-.3 0-.4.1 0 0-.6.1.5 0-.3 0-.5.1-.7 0 .5.1 1.4 0-.4.1.2 0-.1.1.4 0-.8.1 0 0 .2.1.8 0 .2.1 0 0-.3.3-.4.2.8.3-.4.2.1.3 0 .2-.2.2-.1.3.1.2-.3.3.6.2-.2.3.5.2-1.1.2 1.2.3-.5.2-.1.3-.2.2 0 .3-.3.2 1 .3-.5.2.4.2 0 .3-.5.2.1.3 0 .2.5.3-.3.2 0 .2.2.3-.3.2.8.3-1.2.2.9.3.1.2-1.1.3.8.2-.2.2.2.3-.8.2.6.3-.5.2.3.3.7.2-.7.2-.8.3.3.2.1.3.9.2-.7.3-.3.2 1 .3-.3.2 0 .2-.4.3.9.2-.6.3-.8.2.3.3.2.2.2.2.4.3-.6.2.1.3 1.1.2-.9.3-.2.2.2.3-.5.2.7.2.2.3-.6.2.6.3-.5.2.2.3-.4.2 0 .3-.3.2.7.2-.2.3 0 .2-.4.3 0 .2.2.3.5.2-.1.2-.4.3.4.2.6.3-.7.2.8.3-.6.2.3.3-.7.2.7.2-1 .3.6.2-.2.3-.7.2.3.3 1 .2-.3.2.3.3-.4.2-1.3.3 1.3.2-.3.3 0 .2 0 .3-.1.2-.1.2.9.3-.3.2-.5.3.1.2.6.3-.2.2-.1.2-.6.3.3.2-.3.3-.3.2 1.2.3-.5.2-.1.3-.2.2.7.2.5.3-.6.2.2.3-.9.2.6.3 0 .2.5.2-.6.3-.4.2.4.3-.2.2.8.3-.3.2-.2.3 0 .2.2.2-.5.3-.2.2-.4.3 1.3.2-.3.3.1.2-.3.3.7.2-1.1.2.9.3-.8.2.1.3-.3.2.5.3-.1.2.3.2-.4.3-.4.2.8.3.3.2-.2.3-.3.2.2.3-.9.2.6.2.6.3-.3 0-.5.1.7 0-.4.1.4 0-.8.1.4 0 .4.1.1 0 .2.1-.1 0 0 .1.4 0 .2.1-.9 0 .5.1 0 0 0 .1.1 0-1.2.1.3 0-1.3.1-.1 0-.5.1-.4 0-.7.1-.5 0-.3 0-.2.1-.7 0 .2.1.6 0 .8.1.6 0 1.2.1-.6 0 .1.1.8 0 .5.1 0 0-.3.1.5 0 .1.1-.4 0 .1.1.9 0-1.3.1 1 0-.2.1.6 0-.3.1-.6 0 .9.1-.7 0 1 .1-.1 0-.7.1.3 0-.2.1-.5 0 .8.1-.2 0 .1.1.1 0 .2.1-.2 0-.4.1 0 0 .2 0-.3.1 0 .2.8.3-.5.2.5.3-1 .2.3.3-.2.2 0 .2.1.3 0 .2-.1.3.9.2-.4.3-.6.2.1.3.5.2-.1.2-.4.3.6.2-1 .3.4.2.9.3-1.7.2.9.2.5.3-.5.2-.2.3-.1.2-.4.3.3.2.5.3-.2.2.2.2-.1.3.2.2-.8.3.6.2 0 .3 0 .2-.3.2-.5.3 1.1.2.1.3.6.2-.6.3.3.2-.4.3-.4.2.4.2-.7.3.6.2-.1.3-.4.2.9.3-.1.2-.2.3.1.2.4.2-.8.3-.4.2.1.3.7.2-.2.3-.7.2 1.1.2-.4.3.5.2-.2.3-.6.2.2.3-.3.2 0 .3.2 0 .3.1.4 0-.9 0 .7.1-.2 0 0 .1.7 0-.5.1.9 0-.5.1 0 0 .8.1-.8 0 .2.1.4 0-.1.1-.4 0-1 .1-.3 0 .1.1-.8 0-1.5.1-.5 0-1 .1-.7 0-1.6.1.2 0-1.2.1.5 0-.1.1-.3 0 1 .1 1 0 1.2.1 0 0 1.2.1 1.1 0 .6.1-.2 0 .4.1.8 0-.4 0 .6.1.3 0-.3.1-1.1 0 1.6.1 0 0 .1.1-.2 0-1.1.1 1.3 0-.4.1.2 0-.4.1-.1 0 0 .1.7 0-.5.1-.2 0-.4.1.7 0-.2.1.1 0 .3.1-.1 0-.3.1.1 0 0 .1.2.2 0 .3-.2 0-.4.1.7 0 0 0-.8.1.6 0-.3.1-.8 0 .9.1.4 0-.7.1 0 0 .7.1-.8 0 0 .1.3 0 .4.1 0 0-.5.1.1 0 .1.1-.1 0-.2.1-.1 0 .7.1-.4 0 1.3.1-.9 0-.5.1.3 0 .2.1.1 0 .2.1.1 0 0 .1.5 0 .9.1-.8 0 .2.1.6 0 .4.1-.2 0 .1.1-.6 0-.3 0 .1.1-.3 0 .1.1-.3 0-1.7.1.8 0-.8.1-.7 0 .8.1-.3 0-.1.1-.4 0 .2.1.3 0-.4.1.7 0 .2.1-.1 0 .3.1-.1 0-.4.1.1 0 .5.1.4 0-.4.1-.2.2.3.3-.8.2.3.2.3.3.1.2-.1.3 0 .2-.4.3.3.2.3.2-.8.3.2.2.4.3.7.2-.3.3.3.2-.1.3-.7.2.2.2-.5.3 1 .2-.2.3-.1.2.1.3-.1.2-.1.3 0 .2.4.2-.8.3-.1.2.4.3.5.2-.4.3-.2.2.4.2-.3.3-.8.2.4.3-.4.2.7.3-.1.2.4.3.6.2-1 .2.2.3-.2.2-.9.3.8.2 0 .3.4.2-.4.2-.2.3.7.2-.2.3-.4.2.1.3.2.2.4.3.3.2-1.1.2 1 .3-.5.2.1.3.3.2-.8.3.7.2-.8.2.3.3-.1.2 1 .3 0 .2-.4.3-.1.2-.4.3.9.2-.1 0-.2.1-.4 0-.1.1.2 0 .6.1-.9 0 .5.1.7 0-.2.1.5 0-.4.1.1 0 .4.1-.2 0-.1.1-.4 0-.5.1 1 0-.9.1-.4 0 .4.1-1 0-.5.1 0 0-.1.1-.1 0-.1.1.1 0-.4.1.4 0 .1.1.2 0 .9.1.6 0 1.3.1.2 0 .2.1 1.1 0 .1 0 1.1.1-1.2 0 .4.1-.3 0 0 .1-.6 0-1.2.1-.7 0 .2.1 0 0-.5.1-1.2 0 0 .1-.8 0-.4.1 1 0-.2.1-.3 0 .1.1.6 0 0 .1-.1 0 .4.1 0 0 0 .1-.1 0 .8.1-.5 0-.3.1 1.2 0-.2.3-.3.2-.2.2.1.3-.6.2.5.3.1.2-.2.3.3.2-.5.3.4.2-.7.2.6.3-.2.2-.3.3.4.2.1.3-.2.2.6.2-.7.3.7.2-.1.3-.5.2.8.3-1.1.2.7.3-.2.2.3.2-.9.3.1.2.2.3.3.2 0 .3 0 .2-.1.2-.2.3-.2.2.3.3.4.2.2.3-.6.2.6.3-.9.2.8.2-.7.3.5.2-.5.3 0 .2.2.3.8.2-.9.2.5.3-.1.2 0 .3 0 .2.2.3-.8.2.5.3.1.2-.3.2.3.3-.5.2.7.3-.6.2.2.3.4.2.1.2-.6.3 0 .2.6.3-1.5.2 1.6.3 0 .2-.9.3.9.2-.4" stroke="#1f5fcf" stroke-width="1.5" fill="none" stroke-linejoin="round"/>
</g>
<rect x="34" y="9" width="293" height="235" fill="none" stroke="#000" stroke-width="2"/>
<path d="M34.2 244.1V249.9M58.6 244.1V247.4M83 244.1V249.9M107.4 244.1V247.4M131.7 244.1V249.9M156.1 244.1V247.4M180.5 244.1V249.9M204.9 244.1V247.4M229.3 244.1V249.9M253.7 244.1V247.4M278 244.1V249.9M302.4 244.1V247.4M326.8 244.1V249.9" stroke="#000" stroke-width="1.8" fill="none"/>
<text x="34.2" y="267.1" text-anchor="middle" class="tl" style="font-size:18.7px">20</text>
<text x="83" y="267.1" text-anchor="middle" class="tl" style="font-size:18.7px">30</text>
<text x="131.7" y="267.1" text-anchor="middle" class="tl" style="font-size:18.7px">40</text>
<text x="180.5" y="267.1" text-anchor="middle" class="tl" style="font-size:18.7px">50</text>
<text x="229.3" y="267.1" text-anchor="middle" class="tl" style="font-size:18.7px">60</text>
<text x="278" y="267.1" text-anchor="middle" class="tl" style="font-size:18.7px">70</text>
<text x="326.8" y="267.1" text-anchor="middle" class="tl" style="font-size:18.7px">80</text>
<text x="127" y="290" class="xt" style="font-size:23.2px">2<tspan class="th">θ</tspan> (Degrees)</text>
<text transform="translate(24.3 127.7) rotate(-90)" text-anchor="middle" class="yt" style="font-size:22.7px">Intensity (a.u)</text>
<text x="113.3" y="48.3" class="pl" style="font-size:43.5px">(a)</text>
<circle cx="209.4" cy="26.8" r="2.5" fill="#f2000a"/>
<path d="M196.6 44.4H222.2" stroke="#000" stroke-width="1.5"/>
<path d="M196.6 62H222.2" stroke="#5b8fd6" stroke-width="1.5"/>
<path d="M209.4 77V82.2" stroke="#8fd0ac" stroke-width="0.9"/>
<text x="225" y="30.3" class="lg" style="font-size:11.5px">Y<tspan style="font-size:7.1px" dy="4">obs</tspan></text>
<text x="225" y="47.9" class="lg" style="font-size:11.5px">Y<tspan style="font-size:7.1px" dy="4">cal</tspan></text>
<text x="225" y="65.5" class="lg" style="font-size:11.5px">Y<tspan style="font-size:7.1px" dy="4">obs</tspan><tspan dy="-4">-Y</tspan><tspan style="font-size:7.1px" dy="4">cal</tspan></text>
<text x="225" y="83.1" class="lg" style="font-size:11.5px">Bragg position</text>
<text x="66.9" y="172.8" class="ast" style="font-size:21px;stroke:#222;stroke-width:0.5px">*</text><text x="76.1" y="171" class="ast" style="font-size:18.3px">#</text>
<clipPath id="clipb"><rect x="376.1" y="8.9" width="293.8" height="236.2"/></clipPath>
<g clip-path="url(#clipb)">
<path d="M376.2 187h0m.5.8h0m.2-1.4h0m.4.5h0m.6-.9h0m.2 1h0m.3.8h0m.4-.9h0m.6-.2h0m.7-.2h0m.2.8h0m.1-1.2h0m.2 1.2h0m.1-.7h0m.6.1h0m.6 1h0m.1-.7h0m.8 0h0m.3-1.4h0m.1.8h0m.6.6h0m.1-.9h0m.2.9h0m.6-.3h0m.3-.7h0m.4-1.2h0m.2-.6h0m.2.6h0m.3-2.1h0m.2-.9h0m.3-1h0m.1-2h0m.2-3.2h0m.1-6.4h0m.2-13.5h0m.1-19.1h0m.2-27.7h0m.1-27.3h0m.2-15.6h0m.1 5.2h0m.2 22.9h0m.1 27.6h0m.1 23.9h0m.2 16.6h0m.1 7.6h0m.2 6.5h0m.1 3.9h0m.2 1.7h0m.3 2.2h0m.4.8h0m.2.6h0m.1-1.1h0m.2 1.7h0m.3-.8h0m.2-.5h0m.2.9h0m.6.6h0m.3.7h0m.3-.6h0m.3 1.3h0m.1-1.3h0m.3-.6h0m.1 1.6h0m.5-.7h0m.4.5h0m.2-.9h0m.3.7h0m.3 1.2h0m.1-1.7h0m.5-.5h0m.2 1.7h0m.2-.9h0m.3-.6h0m.1 1h0m.5-.5h0m.6.5h0m.1-1.4h0m.3.9h0m.6.7h0m.6-.4h0m.1-.8h0m.3 1.2h0m.2-1.2h0m.1.5h0m.3-.5h0m.4.4h0m.3-1.1h0m.3.8h0m.8-.1h0m.1-1h0m.5-1h0m.2 2.7h0m.2-1.8h0m.4 1.8h0m.2-.8h0m.6 1h0m.3-.6h0m.3.7h0m.1-.6h0m.6.8h0m.1-.6h0m.3-.8h0m.3 1.7h0m.2-1.4h0m.1.8h0m.6-.6h0m.5.5h0m.5.6h0m.3-1.1h0m.5.6h0m.1.7h0m.2-1h0m.6-.2h0m.1 1.1h0m.1-.6h0m.3.8h0m.2-1.7h0m.1 1.1h0m.5-.6h0m.4.6h0m.2-1.6h0m.1.9h0m.5-.7h0m.1.8h0m.4.8h0m.2-.7h0m.1-1.1h0m.2.9h0m.4.8h0m.2-.8h0m.1.9h0m.3-1h0m.2-1.1h0m.2-.6h0m.2 1.2h0m.1-.8h0m.5-2h0m.1 1.4h0m.5-1.5h0m.3.7h0m.1-.6h0m.5 2.9h0m.1-1.9h0m.4.9h0m.2.9h0m.4-.7h0m.3-.6h0m.2-.7h0m.1 2.1h0m.2-1.8h0m.1.8h0m.2-1.1h0m.4-1.2h0m.1.8h0m.3.7h0m.6.2h0m.2-1h0m.1 1.1h0m.2 1.6h0m.1-.7h0m.2.6h0m.3-.5h0m.1 1.7h0m.1-.9h0m.2.7h0m.3-.8h0m.1-1.1h0m.2 1.4h0m.1-.9h0m.3 1.6h0m.5-.7h0m.7.4h0m.1-1.7h0m.2 1.8h0m.1-.8h0m.2.8h0m.3-1h0m.1.9h0m.3-.8h0m.5-.9h0m.1.9h0m.4-.6h0m.2.6h0m.1 1h0m.3-.9h0m.6-.4h0m.3.6h0m.3-1.8h0m.2 1.9h0m.4-.7h0m.3.9h0m.1-2.8h0m.2 2.6h0m.1-.9h0m.2-1.3h0m.1-.6h0m.2 1.7h0m.1-.9h0m.2 1.1h0m.1-.6h0m.5-.6h0m.4-.6h0m.4-2.3h0m.5-1.1h0m.1-1.9h0m.3-1.6h0m.2-2.6h0m.1-2.5h0m.2-7.3h0m.1-7h0m.2-9.4h0m.1-11.2h0m.1-13.4h0m.2-15.1h0m.1-10.8h0m.2-9.9h0m.1-7.6h0m.2-8.5h0m.1-6.3h0m.2-7h0m.1-12.1h0m.2-7.9h0m.1-2.9h0m.2 7.9h0m.1 15.3h0m.2 21.7h0m.1 19.7h0m.1 19.9h0m.2 15.3h0m.1 14.1h0m.2 9.7h0m.1 7.4h0m.2 3.9h0m.1 5.5h0m.3 2.9h0m.3 2.1h0m.2 1.7h0m.1-1.3h0m.2 1.4h0m.3.7h0m.4.6h0m.6 1.5h0m.1-.9h0m.2 1h0m.3-.8h0m.1 1.3h0m.2-1.1h0m.1 1h0m.3-.6h0m.4 1.9h0m.2-1.5h0m.3.8h0m.4-.9h0m.2-.7h0m.1.9h0m.8 1h0m.4-.7h0m.4.6h0m.8-.7h0m.3.9h0m.1-1h0m.2.6h0m.5-.5h0m.5.9h0m.4.7h0m.2-.6h0m.3-.6h0m.4 1.1h0m.3-.9h0m.6.8h0m.3-.7h0m.3-.9h0m.1 1.3h0m.5-.4h0m.6.8h0m.4-.5h0m.6.7h0m.1-.9h0m.6-.1h0m.2.8h0m.1-.6h0m.6-1h0m.1 1.4h0m.2.6h0m.1-1.2h0m.2.9h0m.3-1.1h0m.1.7h0m.2-.8h0m.3 1.1h0m.3-1.2h0m.1 1.3h0m.2-1.3h0m.4.5h0m.3-.7h0m.1 1.7h0m.2-1.4h0m.3-.7h0m.1 1.2h0m.2.6h0m.3.8h0m.1-.7h0m.3-.7h0m.1.7h0m.2-.7h0m.6 1h0m.1-1.1h0m.3-1.1h0m.2 1.8h0m.4-.5h0m.3-.8h0m.2.9h0m.2-.8h0m.5.9h0m.3-1h0m.4 1.3h0m.2-1h0m.6.4h0m.3-.7h0m.5.2h0m.3-.6h0m.3.6h0m.5-.5h0m.1.8h0m.3.7h0m.2-1.1h0m.2-.6h0m.2 1.1h0m.3-.7h0m.1.6h0m.5-.6h0m.4-.4h0m.2.6h0m.3-.9h0m.1.7h0m.2.8h0m.1-2.3h0m.1 1h0m.3-1.4h0m.3-1.6h0m.3-2.5h0m.3-2.9h0m.2 1h0m.3-2h0m.1 1h0m.2 1.8h0m.5 2.7h0m.2 1.5h0m.1-1.7h0m.5-1.8h0m.1-1.5h0m.2-2.2h0m.1-3.7h0m.3-4h0m.2-6.8h0m.1-3h0m.2-6.7h0m.1-2.5h0m.3-2h0m.1 2.1h0m.2 5.3h0m.1 2h0m.2 8.3h0m.1 3.3h0m.2 3.4h0m.1 3.6h0m.2 1.4h0m.1 2.2h0m.2 2.9h0m.1 1.3h0m.3.8h0m.3 1.7h0m.1-1.5h0m.2.6h0m.6.5h0m.1 1.2h0m.5-1.2h0m.1.6h0m.6.8h0m.1-1.3h0m.2.8h0m.3.7h0m.6-.6h0m.6 1h0m.3-.8h0m.2.9h0m.3-.5h0m.3-.9h0m.3 1.1h0m.5-.5h0m.1.8h0m.5-.9h0m.3.5h0m.2-.6h0m.5 1.7h0m.1-1.2h0m.6.4h0m.5.7h0m.1-.6h0m.3-.7h0m.7-.1h0m.5.4h0m.1 1.2h0m.2-1.6h0m.3.8h0m.7-.9h0m.4.7h0m.2-.7h0m.6.2h0m.3 1.4h0m.1-1.2h0m.3-.6h0m.2 1h0m.1-1.2h0m.2 1.5h0m.1-.7h0m.1-.8h0m.2.9h0m.4-.9h0m.2.9h0m.4-.7h0m.3 1.6h0m.2-.8h0m.1-1h0m.2.9h0m.4-.8h0m.1 1.1h0m.2-.7h0m.4-.5h0m.3 1.1h0m.2-1.2h0m.1.9h0m.6.3h0m.4-.8h0m.3.8h0m.2-.8h0m.1.9h0m.3-1h0m.2.7h0m.1-.7h0m.2.6h0m.1-.6h0m.6 1.4h0m.1-.6h0m.2-1.3h0m.1 1h0m.3.9h0m.2-1.2h0m.6-.3h0m.6.5h0m.3-.7h0m.5-1.1h0m.2 1h0m.1.7h0m.2-.9h0m.4-.6h0m.3.7h0m.2-1h0m.1 1.4h0m.2-1.1h0m.1-.6h0m.2-.7h0m.2-2.2h0m.2 1h0m.3-2h0m.1-2.5h0m.2-1.2h0m.1-2.5h0m.2-3.7h0m.1-3.1h0m.2-3.3h0m.1-4.8h0m.2-5.2h0m.1-3.8h0m.2-3.6h0m.1-4.4h0m.3.6h0m.3 3.4h0m.1 7.4h0m.2 2.6h0m.1 5.6h0m.2 2.5h0m.1 5.6h0m.2 2.4h0m.1 1.8h0m.2 3.1h0m.1 2.9h0m.2 2.1h0m.5 1.9h0m.2.7h0m.4.5h0m.5-1h0m.1.9h0m.2 1.4h0m.1-1.1h0m.2 1.5h0m.1-1.1h0m.6-.4h0m.1.6h0m.3.7h0m.2-1h0m.6.3h0m.6.5h0m.1-1.1h0m.2.7h0m.4-.5h0m.3 1.5h0m.1-.8h0m.2.8h0m.1-1h0m.2.8h0m.1-1.3h0m.2.6h0m.3 1.1h0m.1-.7h0m.4-.4h0m.2.8h0m.6-.9h0m.1 1.4h0m.2-1h0m.4-1h0m.5.9h0m.1.6h0m.2-.7h0m.5-.3h0m.5.4h0m.6-.2h0m.4.7h0m.3-1.2h0m.2.6h0m.2.6h0m.5-.5h0m.4.6h0m.6-1h0m.6.7h0m.1-1h0m.3.6h0m.5 1h0m.1-.9h0m.5-.7h0m.3 1.3h0m.4-.5h0m.4-1.2h0m.2 1.3h0m.6-1.3h0m.1 1.4h0m.3-2h0m.2 1.2h0m.3 1.2h0m.1-1.4h0m.3 1.2h0m.3-1h0m.6.6h0m.1-1h0m.2.7h0m.6-.4h0m.4.4h0m.2-.7h0m.1 1.1h0m.3-1.7h0m.3-.5h0m.1 1h0m.3-1.1h0m.2-.8h0m.3 1.2h0m.1-.8h0m.2-1.5h0m.1-1.7h0m.2-.6h0m.1-1.9h0m.1-2h0m.2-1.5h0m.1-.7h0m.2-2.4h0m.1-2.5h0m.2-3.6h0m.1-2.7h0m.3-2.8h0m.3-2.2h0m.2 1.8h0m.3.6h0m.1 1.5h0m.2 4h0m.2.6h0m.2 1.5h0m.1-1h0m.2 3.6h0m.3-2.1h0m.3-3h0m.1 3.3h0m.2-.6h0m.3 1.1h0m.4 2.1h0m.1 2h0m.2 2.5h0m.1.7h0m.2.9h0m.1 2.1h0m.3 3.3h0m.3-.6h0m.2 1.3h0m.1 1.1h0m.3 1.3h0m.2-2h0m.1 2.1h0m.2-.8h0m.1.6h0m.1.6h0m.2-1.6h0m.3.6h0m.1-.6h0m.3 1.1h0m.2.6h0m.1-.9h0m.2.6h0m.1 1.9h0m.2-1.9h0m.6-.2h0m.4.7h0m.4-1h0m.6.7h0m.5 1.1h0m.1-1h0m.3-.7h0m.1 1.1h0m.5-1h0m.1 1.1h0m.2-1h0m.4.4h0m.6.7h0m.3-.6h0m.4-.5h0m.3.5h0m.5.5h0m.1-1.9h0m.2.8h0m.7 1.7h0m.2-2h0m.1.7h0m.4-.6h0m.2 1.2h0m.1-1.6h0m.3.9h0m.3.7h0m.2-.8h0m.1 1.2h0m.2-1.1h0m.1.9h0m.2-.7h0m.5-.6h0m.5-.8h0m.1 1.4h0m.3-1h0m.2.9h0m.3-1.4h0m.3 1.4h0m.4 1.1h0m.1-1.5h0m.2-.6h0m.3 1.2h0m.1-1.3h0m.5-.4h0m.7.2h0m.2-1.2h0m.1-.8h0m.3-1.7h0m.1 1.4h0m.2-.9h0m.1-.8h0m.2-2.1h0m.3-1.2h0m.1-1.9h0m.2-1.2h0m.3-.9h0m.1-1.5h0m.2 1h0m.1.8h0m.2-1.5h0m.4 2.1h0m.1-.6h0m.2.8h0m.4 1.6h0m.2-1.8h0m.3-3.1h0m.1 2.6h0m.2-2.9h0m.1-2.8h0m.2-3.2h0m.1-2.5h0m.2-4.2h0m.1-1h0m.1-4.7h0m.2-1.9h0m.1-3h0m.2-1.2h0m.1-3.6h0m.2-1h0m.4 2.1h0m.2 3.1h0m.1 3.9h0m.2 3h0m.1 2.4h0m.2 5h0m.1 1.7h0m.2 2h0m.1 5.8h0m.1 1.1h0m.2 1.8h0m.1 1.3h0m.2 2.3h0m.1 3h0m.3 2.4h0m.2-.9h0m.1 1.4h0m.6.5h0m.4 1h0m.2.6h0m.4-.9h0m.2 1.3h0m.3-1.2h0m.1.8h0m.3-.8h0m.2 1.9h0m.3-.7h0m.1.7h0m.2-1.1h0m.2 1.1h0m.2-.9h0m.4.7h0m.3-.9h0m.3.6h0m.2.8h0m.1-1h0m.5.9h0m.1-1.4h0m.1.7h0m.2.8h0m.1-.7h0m.5-.6h0m.1 1.8h0m.2-.8h0m.6-.4h0m.4-.7h0m.2 1.6h0m.1-1.3h0m.4 1h0m.5-.6h0m.6.8h0m.4-1.3h0m.2.9h0m.1-.7h0m.6.9h0m.3.6h0m.1-1.4h0m.3.6h0m.5-1h0m.1.8h0m.6-.3h0m.3 1.2h0m.6-1.3h0m.1.9h0m.5-.5h0m.7.1h0m.6-.2h0m.4.9h0m.2-.8h0m.1-1.1h0m.2 1.5h0m.3-.7h0m.3 1.4h0m.1-1.7h0m.3.7h0m.1-1.5h0m.2 1.3h0m.1.7h0m.5-.6h0m.3 1.5h0m.1-1.2h0m.3-.8h0m.2.8h0m.4-1.2h0m.2.9h0m.1.9h0m.3-1.1h0m.1.8h0m.2-1.4h0m.1 1.2h0m.3-.5h0m.6 1.1h0m.3-.6h0m.6-1.7h0m.1 1.2h0m.6.6h0m.2-.6h0m.1.7h0m.8-.2h0m.4-.9h0m.1.7h0m.6.4h0m.5-.7h0m.3.6h0m.3-1.2h0m.1 1.8h0m.3-1.6h0m.1 1.2h0m.2-.7h0m.7.2h0m.2-.6h0m.7.2h0m.2 1.1h0m.1-1.5h0m.3.7h0m.6-.5h0m.3 1h0m.3-.6h0m.4.4h0m.2-.7h0m.1 1.1h0m.6-.2h0m.1-1.9h0m.2 1.2h0m.1 1.1h0m.2-.7h0m.7-.6h0m.2.7h0m.6-.7h0m.1.6h0m.3-.9h0m.3.6h0m.3.5h0m.1-.5h0m.8-.1h0m.4.9h0m.3-.9h0m.1-.7h0m.3 1.1h0m.2-1.4h0m.1 2.3h0m.2-1.3h0m.4-.8h0m.2.8h0m.4-.7h0m.2.9h0m.4-.8h0m.3-.9h0m.3 1.1h0m.6-1.2h0m.3-1.1h0m.6.3h0m.1-.8h0m.4.5h0m.3-2.6h0m.2 2.4h0m.1-1.6h0m.2-.7h0m.1.9h0m.2 1h0m.1-2.5h0m.2 2.8h0m.1-.7h0m.3-1.1h0m.4 1.2h0m.2-1.7h0m.3-.8h0m.1-1.3h0m.2 1.3h0m.3-.8h0m.1-2.4h0m.5-1.1h0m.3 1h0m.1-2.5h0m.1 1.2h0m.2-1h0m.1 2.1h0m.2-.9h0m.3 2.2h0m.3.6h0m.1.9h0m.3 1.9h0m.3 2.1h0m.2-1.1h0m.1 1.9h0m.3-1.1h0m.1 2.2h0m.2-1.8h0m.1 1.7h0m.2-1.2h0m.1 1.4h0m.5-.9h0m.1.8h0m.2 1.1h0m.3-.6h0m.4 1h0m.1-.8h0m.2.6h0m.1-1.3h0m.3 1.6h0m.2-1.2h0m.3.7h0m.6.7h0m.1-.7h0m.6.9h0m.1-1.1h0m.2-1.2h0m.1 1.4h0m.3.9h0m.2-1.2h0m.4 1.2h0m.2-1.1h0m.1.8h0m.5-1.1h0m.4.5h0m.3.5h0m.1-.8h0m.3-.9h0m.2.6h0m.1 1.8h0m.2-1.5h0m.1-.6h0m.2.8h0m.6-.2h0m.1.7h0m.1-1.1h0m.2.7h0m.3-.5h0m.1 1.6h0m.2-1.2h0m.6-.8h0m.1 1.1h0m.2.8h0m.1-.9h0m.3-.7h0m.1.9h0m.2-.8h0m.4 1.3h0m.2-1.3h0m.1-.7h0m.2 1.1h0m.6.5h0m.4-1.1h0m.2-.6h0m.1 1.6h0m.1-1.4h0m.2 1.1h0m.3-1.6h0m.3.6h0m.3-1.2h0m.4-.9h0m.2.6h0m.1-.7h0m.2-1.3h0m.1 1.3h0m.1-.8h0m.3-1.2h0m.2 1.2h0m.3-.6h0m.4.6h0m.2-1.1h0m.3-.6h0m.1.7h0m.2-.7h0m.3.9h0m.1-1.1h0m.1-.6h0m.6 1.8h0m.3-1.8h0m.2 2.1h0m.1-.8h0m.2.7h0m.3.8h0m.3.9h0m.3-1.6h0m.1 1.7h0m.3.7h0m.4.6h0m.2-.9h0m.1.8h0m.2 1.1h0m.1-.8h0m.3.6h0m.3.5h0m.6-.3h0m.4.6h0m.3-1.1h0m.3 1h0m.3-1h0m.2 1.3h0m.3-1.1h0m.5.6h0m.6.6h0m.6-.3h0m.6.9h0m.3-1.1h0m.4.5h0m.2-1.5h0m.1 1.1h0m.2-.8h0m.1 1.4h0m.2-1.4h0m.1 1.2h0m.2-.6h0m.3.9h0m.1-.8h0m.5-.6h0m.2 1.1h0m.5-.9h0m.1 1.2h0m.2-1.1h0m.1 1.2h0m.2-.8h0m.3-.8h0m.1.8h0m.5.5h0m.5-1.2h0m.2.6h0m.4-.4h0m.2 1.2h0m.3-1.9h0m.1 1h0m.2-.7h0m.1 1.4h0m.2-1.1h0m.1.8h0m.3-.8h0m.3 1h0m.1-.9h0m.3 1h0m.2-.7h0m.3-.6h0m.1.8h0m.2-.7h0m.6-.6h0m.1.7h0m.4 1.1h0m.2-.6h0m.1-.6h0m.2-1.5h0m.1 1.2h0m.3-.6h0m.2.8h0m.1-1.7h0m.3.6h0m.3-1.2h0m.2 1.1h0m.1-2h0m.1-1.4h0m.2.8h0m.1.7h0m.2-1.6h0m.1 1.2h0m.2-1.8h0m.1 1.4h0m.2-3.4h0m.1 3.4h0m.2-3.5h0m.1 1.6h0m.2-.8h0m.1 1.3h0m.5 1.1h0m.1.6h0m.1-.6h0m.2 1.6h0m.1-1.8h0m.2.9h0m.3 1.7h0m.1.6h0m.2-.6h0m.4 1.5h0m.7.3h0m.3-1.1h0m.2 1h0m.1.8h0m.2-.9h0m.1 1.3h0m.3-1.2h0m.3 1.3h0m.2-1.6h0m.4 1h0m.6-.7h0m.1 1.4h0m.2-.7h0m.3 1h0m.1-.9h0m.5 1h0m.1-1h0m.3-1.2h0m.2.7h0m.1 1.6h0m.3-1.2h0m.3-.6h0m.6.7h0m.3-.6h0m.6.5h0m.3-.7h0m.1.7h0m.4.6h0m.2-.6h0m.1.8h0m.6-.1h0m.3-.6h0m.3 1.1h0m.2-1h0m.5-.4h0m.2.8h0m.6-1.2h0m.3.6h0m.3-.7h0m.3 1.4h0m.1-1h0m.2.7h0m.1-.7h0m.4.7h0m.2-.8h0m.1-.8h0m.8.7h0m.1-1.1h0m.2 1.2h0m.1-1.3h0m.3 1.2h0m.3-.9h0m.6.4h0m.6.2h0m.1-.8h0m.2 1.6h0m.3-.5h0m.1-.9h0m-282-126h0m.1 8.1h0m-.1 3.4h0m47.1-38.9h0m0 3.5h0m36.5 103.4h0m0 7h0" stroke="#f2000a" stroke-width="4.6" stroke-linecap="round" fill="none"/>
<path d="M376.1 187l.5 0 .6 0 .5 0 .6 0 .5 0 .5 0 .6 0 .5 0 .5-.1.6 0 .5 0 .6-.1.5 0 .5-.1.6-.2.5-.2.6-.3.3-.4.2-.4.2-.4.2-.4.1-.5.1-.5.1-.5.1-.7.1-.5 0-.5.1-.6 0-.7.1-.9 0-1.2.1-1.5 0-1.9.1-2.4 0-3 .1-3.8 0-4.7.1-5.7 0-6.7.1-7.8 0-8.9.1-9.7 0-10.3.1-10.7 0-10.3.1-9.4 0-7.6.1-5 0-1.8.1 1.8 0 5 0 7.6.1 9.4 0 10.3.1 10.7 0 10.3.1 9.7 0 8.9.1 7.8 0 6.7.1 5.7 0 4.7.1 3.8 0 3 .1 2.4 0 1.9.1 1.5 0 1.2.1.9 0 .7.1.6 0 .5.1.5 0 .4.1.6.1.5.1.4.2.5.1.3.2.4.3.4.3.3.6.4.5.2.6.1.5.1.5 0 .6.1.5 0 .6 0 .5 0 .5.1.6 0 .5 0 .5 0 .6 0 .5 0 .6 0 .5 0 .5 0 .6 0 .5 0 .6 0 .5 0 .5 0 .6 0 .5 0 .6 0 .5 0 .5 0 .6 0 .5 0 .5 0 .6 0 .5 0 .6 0 .5 0 .5 0 .6 0 .5 0 .6 0 .5 0 .5 0 .6 0 .5 0 .5 0 .6-.1.5-.1.6 0 .5 0 .5.1.6 0 .5 0 .6 0 .5-.1.5 0 .6 0 .5.1.5 0 .6 0 .5 0 .6-.1.5 0 .5 0 .6 0 .5-.1.6 0 .5-.1.5 0 .6-.1.5-.1.6-.1.5-.1.5-.2.6-.3.5-.4.4-.4.3-.4.2-.4.2-.4.2-.4.1-.4.2-.5.1-.4.1-.5.1-.5.1-.6 0-.4.1-.4 0-.5.1-.5 0-.6.1-.7 0-.9.1-.9 0-1.1.1-1.2 0-1.4.1-1.7 0-1.9.1-2.1 0-2.4 0-2.8.1-3 0-3.4.1-3.7 0-4.1.1-4.4 0-4.6.1-4.9 0-5.2.1-5.2 0-5.4.1-5.3 0-5.1.1-4.9 0-4.5.1-4 0-3.4.1-2.7 0-2.1.1-1.5 0-1 .1-.7 0-.6.1-.7 0-1 .1-1.2 0-1.8.1-2.3 0-2.8.1-3.3 0-3.8.1-4.2 0-4.4.1-4.4 0-4.3.1-3.7 0-3.1.1-2 0-.8.1.6 0 2.1.1 3.6 0 4.9.1 6 0 7 .1 7.6 0 8 0 8.3.1 8.2 0 8.1.1 7.9 0 7.4.1 7.1 0 6.6.1 6 0 5.5.1 5 0 4.5.1 3.9 0 3.5.1 3.1 0 2.7.1 2.3 0 2 .1 1.7 0 1.5.1 1.2 0 1.1.1 1 0 .8.1.7 0 .6.1.6 0 .4.1.5 0 .4.1.3.1.7.1.5.1.5.1.4.1.3.1.5.2.4.1.5.2.3.3.4.3.4.4.3.5.4.6.3.5.2.5.1.6.1.5.1.5.1.6 0 .5.1.6 0 .5.1.5 0 .6 0 .5 0 .6.1.5 0 .5 0 .6 0 .5 0 .5 0 .6 0 .5 0 .6 0 .5.1.5 0 .6 0 .5 0 .6 0 .5 0 .5 0 .6 0 .5 0 .6 0 .5 0 .5 0 .6 0 .5 0 .5 0 .6-.1.5 0 .6 0 .5 0 .5 0 .6 0 .5 0 .6-.1.5 0 .5-.1.6-.1.5-.1.5-.3.4-.3.2-.4.1-.5.1-.4.1-.4.1-.5.1-.6.1-.6.1-.7.1-.7.1-.7.1-.5.1-.5.5.5 0 .5.1.6.1.5.1.6.1.5.1.4.2.5.5-.2.1-.4.1-.7.1-.3 0-.5.1-.5 0-.5.1-.6 0-.7.1-.8 0-.9.1-.9 0-1 .1-1.1 0-1.2.1-1.3 0-1.3.1-1.5 0-1.4.1-1.6 0-1.6.1-1.6 0-1.6 0-1.6.1-1.5 0-1.5.1-1.4 0-1.2.1-1.1 0-.9.1-.7 0-.4.2.4 0 .7.1.9 0 1.1.1 1.3 0 1.4.1 1.4 0 1.6.1 1.6 0 1.6.1 1.7 0 1.5.1 1.6 0 1.5.1 1.4 0 1.4.1 1.3 0 1.2.1 1.1 0 1 .1 1 0 .8.1.8 0 .8.1.6 0 .6.1.5 0 .5.1.4 0 .3.1.7.1.4.1.4.1.4.2.4.3.4.5.3.5.3.6.2.5.1.5.1.6.1.5 0 .5 0 .6.1.5 0 .6 0 .5 0 .5 0 .6 0 .5 0 .6.1.5 0 .5 0 .6 0 .5 0 .6 0 .5 0 .5 0 .6 0 .5 0 .5 0 .6 0 .5-.1.6 0 .5 0 .5 0 .6 0 .5 0 .6 0 .5 0 .5-.1.6 0 .5 0 .5 0 .6-.1.5-.1.6 0 .5-.1.5-.2.6-.2.5-.2.5-.4.3-.4.3-.4.2-.5.1-.5.1-.4.1-.5.1-.6.1-.3 0-.4.1-.5 0-.5.1-.5 0-.6.1-.7 0-.7.1-.8 0-.8.1-.9 0-1 .1-1.1 0-1.2.1-1.2 0-1.4.1-1.4 0-1.5.1-1.5 0-1.7.1-1.7 0-1.7.1-1.8 0-1.9.1-1.8 0-1.9.1-1.8 0-1.9.1-1.7 0-1.7 0-1.6.1-1.4 0-1.3.1-1.1 0-.9.1-.7 0-.4.2.4 0 .7.1.9 0 1.1.1 1.3 0 1.4.1 1.6 0 1.7.1 1.7 0 1.9.1 1.8 0 1.9.1 1.8 0 1.9.1 1.8 0 1.7.1 1.7 0 1.7.1 1.5 0 1.5.1 1.4 0 1.3.1 1.3 0 1.2.1 1 0 1.1.1.9 0 .8.1.8 0 .7.1.7 0 .6.1.5 0 .5.1.5 0 .4.1.3 0 .6.1.5.1.4.2.5.1.4.2.3.3.4.4.4.6.3.5.2.5.2.6.1.5.1.6.1.5 0 .5.1.6 0 .5 0 .5 0 .6 0 .5.1.6 0 .5 0 .5 0 .6 0 .5 0 .6 0 .5 0 .5 0 .6 0 .5 0 .5 0 .6 0 .5-.1.6 0 .5 0 .5 0 .6-.1.5 0 .6 0 .5-.1.5-.1.6-.1.5-.1.6-.2.5-.2.5-.4.4-.4.2-.4.2-.4.1-.5.1-.3.1-.5.1-.6.1-.6 0-.4.1-.4 0-.4.1-.5 0-.5.1-.6 0-.6.1-.6 0-.7.1-.7 0-.7.1-.8 0-.9.1-.9 0-.9.1-1 0-.9.1-1.1 0-1 .1-1.1 0-1.1.1-1.1 0-1.2.1-1.1 0-1.1.1-1.1 0-1 .1-1.1 0-.9.1-.9 0-.8.1-.7 0-.7.1-.5 0-.3.1-.4.2.5 0 .4.1.5 0 .6.1.7 0 .8.1.8 0 .9.1.9 0 .9 0 1 .1.9 0 1 .1.9 0 .9.1.8 0 .9.1.7 0 .8.1.6 0 .6.1.6 0 .5.1.4 0 .4.1.6.2.4.3-.4.1-.4.1-.4.1-.4.1-.4.4.5.1.6 0 .4.1.4 0 .5.1.4 0 .5 0 .5.1.5 0 .6.1.5 0 .5.1.5 0 .5.1.6 0 .5.1.4 0 .5.1.5 0 .4.1.4 0 .4.1.4 0 .3.1.7.1.6.1.5.1.5.1.3.2.5.1.4.2.3.3.4.5.4.5.2.6.2.5.1.5.1.6 0 .5.1.6 0 .5 0 .5.1.6 0 .5 0 .6 0 .5 0 .5 0 .6 0 .5 0 .6 0 .5 0 .5 0 .6 0 .5-.1.5 0 .6 0 .5-.1.6-.1.5 0 .5-.1.6-.2.5-.2.5-.4.2-.4.2-.5.2-.4.1-.4.1-.4.1-.4.1-.5.1-.5.1-.6.1-.6.1-.6.1-.7.1-.6.1-.7.1-.7.1-.6.1-.6.1-.5.1-.4.2-.4.3.6.1.4.1.4.1.5.1.5.1.5.1.4.1.4.2.5.5-.3.1-.4.1-.7.1-.4 0-.4.1-.5 0-.5.1-.5 0-.6.1-.7 0-.7.1-.7 0-.8.1-.9 0-.8.1-1 0-.9 0-1 .1-1 0-1.1.1-1.1 0-1.1.1-1.1 0-1.2.1-1.1 0-1.2.1-1.1 0-1.1.1-1.1 0-1.1.1-1 0-1 .1-.9 0-.9.1-.7 0-.7.1-.5 0-.5.1-.5.2.6.1.5 0 .5.1.7 0 .8.1.8 0 1 .1 1 0 1 .1 1.1 0 1.1.1 1.2 0 1.1.1 1.2 0 1.2.1 1.2 0 1.1.1 1.2 0 1.1.1 1.1 0 1 0 1.1.1 1 0 .9.1 1 0 .9.1.8 0 .8.1.8 0 .7.1.7 0 .6.1.6 0 .6.1.5 0 .5.1.5 0 .4.1.4 0 .4.1.7.1.6.1.4.1.5.1.3.2.4.2.5.2.4.4.4.4.3.6.3.5.2.6.2.5.1.5.1.6 0 .5.1.5 0 .6.1.5 0 .6 0 .5.1.5 0 .6 0 .5 0 .6 0 .5 0 .5 0 .6 0 .5.1.6 0 .5 0 .5 0 .6 0 .5 0 .5 0 .6 0 .5 0 .6 0 .5 0 .5 0 .6 0 .5 0 .6 0 .5 0 .5 0 .6 0 .5 0 .5 0 .6 0 .5 0 .6 0 .5 0 .5 0 .6 0 .5 0 .6 0 .5 0 .5 0 .6 0 .5 0 .5 0 .6 0 .5 0 .6 0 .5 0 .5 0 .6 0 .5 0 .6 0 .5 0 .5 0 .6-.1.5 0 .6 0 .5 0 .5-.1.6 0 .5-.1.5 0 .6-.2.5-.4.4-.3.2-.4.3-.4.2-.4.1-.4.2-.5.2-.4.2-.3.4-.4.5.3.3.4.3.3.5.2.4-.4.2-.5.1-.4.1-.4.1-.4.1-.4.1-.4.1-.5.1-.5.1-.5.1-.5.1-.5.1-.5.1-.5.1-.4.1-.5.2-.4.4.5.2.5.1.4.1.5.1.5.1.5.1.6.1.5.1.6.1.5.1.5.1.5.1.4.1.4.1.4.1.4.1.5.1.4.2.3.2.4.2.4.4.4.6.2.5.2.5.1.6 0 .5.1.6 0 .5 0 .5.1.6 0 .5 0 .6 0 .5 0 .5 0 .6 0 .5 0 .5 0 .6 0 .5 0 .6 0 .5 0 .5-.1.6 0 .5-.1.6 0 .5-.2.5-.3.4-.3.3-.4.3-.4.2-.4.2-.4.2-.4.1-.4.2-.5.2-.3.3-.4.5-.4.5-.1.6-.2.4-.4.5-.1.4.4.2.4.1.3.2.4.1.4.2.4.1.4.1.4.2.4.2.4.3.4.3.4.4.4.5.3.5.2.6.1.5 0 .6 0 .5.1.5 0 .6 0 .5 0 .6 0 .5.1.5 0 .6 0 .5 0 .6 0 .5 0 .5 0 .6 0 .5 0 .5 0 .6-.1.5 0 .6 0 .5 0 .5 0 .6-.1.5 0 .6-.1.5-.1.5-.3.5-.3.3-.4.2-.3.2-.4.2-.5.1-.3.2-.4.1-.4.2-.5.1-.4.2-.5.1-.4.2-.5.1-.3.2-.4.6 0 .2.4.1.3.2.5.1.4.2.5.1.4.2.5.1.4.2.4.1.3.2.5.2.4.3.3.3.4.4.4.5.2.6.1.5.1.6 0 .5.1.5 0 .6 0 .5.1.5 0 .6 0 .5 0 .6 0 .5 0 .5 0 .6 0 .5 0 .6 0 .5 0 .5 0 .6 0 .5-.1.5 0 .6-.2.5-.1.6-.3.5-.1.5-.1.6.1.5.2.6.2.2.1" stroke="#000" stroke-width="1.35" fill="none" stroke-linejoin="round"/>
<path d="M387.6 194.4V198.9M433.5 194.4V198.9M434.9 194.4V198.9M469.6 194.4V198.9M471.3 194.4V198.9M501.9 194.4V198.9M528.9 194.4V198.9M531.1 194.4V198.9M554.3 194.4V198.9M556.3 194.4V198.9M557.8 194.4V198.9M602.8 194.4V198.9M607.2 194.4V198.9M621.2 194.4V198.9M622.9 194.4V198.9M624.6 194.4V198.9M627.8 194.4V198.9M630 194.4V198.9M648.1 194.4V198.9M649.8 194.4V198.9M651.8 194.4V198.9M667.5 194.4V198.9" stroke="#2f9a62" stroke-width="1.1" fill="none"/>
<path d="M462.3 194.4V198.9M524.5 194.4V198.9M575.4 194.4V198.9M619.5 194.4V198.9" stroke="#8fd0ac" stroke-width="1.1" fill="none"/>
<path d="M387.6 203.3V208.4M401.6 203.3V208.4M434.4 203.3V208.4M445.1 203.3V208.4M454 203.3V208.4M462.8 203.3V208.4M471.8 203.3V208.4M480.4 203.3V208.4M487.7 203.3V208.4M502.9 203.3V208.4M510.8 203.3V208.4M524.5 203.3V208.4M531.3 203.3V208.4M538.2 203.3V208.4M557.8 203.3V208.4M570 203.3V208.4M576.4 203.3V208.4M588.1 203.3V208.4M594.5 203.3V208.4M605.3 203.3V208.4M616 203.3V208.4M620 203.3V208.4M622.9 203.3V208.4M625.8 203.3V208.4M628.8 203.3V208.4M650.3 203.3V208.4M654.2 203.3V208.4M662.1 203.3V208.4M665 203.3V208.4" stroke="#2f9a62" stroke-width="1.1" fill="none"/>
<path d="M564.6 203.3V208.4M611.6 203.3V208.4M635.9 203.3V208.4M640.5 203.3V208.4M658.1 203.3V208.4M668.2 203.3V208.4" stroke="#8fd0ac" stroke-width="1.1" fill="none"/>
<path d="M376.1 231.5l.2.7.3-1.2.2 0 .3.6.2.4.3.1.2.1.3-1.4.2.7.2-.1.3 0 .2.7.3-.1.2-.5.3.4.2 0 .3.4.2-.7.3.4.2-.5.2.5.3-.2.2.1.3-.1.2.6.3-.9.2-.1.3.2.2.4.2.1.3-.3.2-.3.3.2.2-.2.3.5.2-.2.3.1.2-.1.2.1.3.4.2-.6.1.3 0 .1.1-.4 0 1.1.1-.4 0-.4.1 1.1 0 .2.1.4 0 .1.1.4 0 .5.1-.3 0 .8.1 0 0 .1.1-.8 0-.2.1-1.5 0-.7.1-.4 0-.8.1-1.4 0-2.1.1-.9 0-.8.1 0 0-1.2.1.3 0 .4.1.7 0 .8.1 1.4 0 1.7.1 1.3 0 1.5 0 1.8.1 1.5 0 1.4.1-.7 0 .9.1-.1 0-.7.1-.2 0-.8.1-.9 0-.7.1-.3 0-1.4.1-.4 0-.4.1-.7 0-.4.1-.4 0 .3.1.8 0-1.2.1 1.1 0-.6.1.2 0 .8.1 0 0 .2.1-.2 0 .5.1-.6 0 .5.1.2 0-.4.1-.3.2 1 .3-.7.2-.3.2.6.3.3.2-.3.3-.7.2.5.3.1.2.1.3-.8.2.1.2.6.3-.1.2.2.3.2.2-.9.3 0 .2.3.3.8.2-.7.3.5.2-1.3.2 1 .3.3.2.1.3-.8.2 1.1.3-1.1.2.9.3.1.2-.7.2-.5.3 1.4.2-.7.3-.7.2.7.3-.6.2.5.3-.5.2-.5.2 1.2.3-.6.2.2.3.1.2-.1.3-.2.2.4.3.1.2-.1.3-.2.2.1.2.6.3-.1.2-.6.3.4.2 0 .3 0 .2-.3.3.2.2-.3.2.4.3-.1.2.1.3 0 .2 0 .3-.6.2-.1.3.5.2-.2.2.4.3-.5.2.1.3-.4.2.5.3-.1.2.6.3-.4.2.5.3-.9.2-.3.2 1.1.3-.3.2.5.3-.9.2-.4.3 1.3.2-.5.3-.4.2 1.1.2-.8.3-.4.2.5.3-.3.2-.2.3.5.2-.1.3-.1.2 0 .2-.5.3.8.2.5.3-.6.2.4.1.3 0-.9.1-.1 0-.1.1.2 0 .6.1-.3 0 .6.1-.6 0 1.1.1-.7 0 .2.1.2 0-.1.1.1 0 .2.1-.4 0 0 .1-.7 0-.3.1-.6 0 .5.1-1.1 0 .1.1-.5 0-.4.1-.4 0 .2 0-.1.1.5 0-.6.1.2 0-.1.1 1.7 0-.8.1.9 0 .2.1-.5 0 .4.1.6 0-.2.1-.4 0 .6.1.5 0-.4.1.1 0 .2.1.4 0-.8.1-.3 0 .2.1-.1 0-.4.1.5 0-.3.1.8 0-.5.1-1 0 .6.1.6 0-.4.1-.1 0 .1.1 0 0 .6.1-.4 0-.1.1.8 0-.7.1.7 0-.4.1.3 0 .1.1-.2 0 .2 0 .8.1-1.2 0 1.1.1-.7 0 0 .1-1.2 0 .3.1-.8 0 .4.1-1.4 0 .3.1-1 0 .6.1-.7 0-.3.1.1 0 .5.1 1.1 0-.8.1.6 0 .5.1.4 0 .3.1.7 0-.6.1-.4 0 .9.1-.4 0 .1.1.1 0 .6.1-.1 0-.5.1-.2 0 .4.1-.5 0-.4.1.4 0 .7.1-.7 0 .1.1.8 0 0 .1 0 0-.9.1.5 0 .3.1-.1 0-.6 0 .1.1-.2 0 .1.1.3 0 0 .1-.5.2.7.3-.2.2.4.3-.7.2.3.3-1 .2 1.2.3-.1.2.1.2-.3.3 0 .2 0 .3.5.2-.9.3.4.2.2.3-.3.2-.3.2.3.3.2.2.5.3-.8.2-.7.3 1.3.2-.4.3.2.2-.2.2 0 .3-.8.2 1 .3-.6.2.7.3-1.1.2 1.3.3-.6.2-.8.3.9.2 0 .2 0 .3-.5.2 1.4.3-1.1.2.6.3-1.4.2 1.2.3 0 .2-.2.2.5.1-.7 0 .5.1-.1 0 .3.1-.3 0 .9.1.3 0 .3.1.5 0 .3.1.4 0 .7.1.6 0-.5.1.5 0 .4.1-.9 0-1.4.1-.2 0-2.5.1-.9 0-1.2.1-2 0-2 .1-2.3 0-1.8.1-.3 0-.8.1.4 0-.3.1.9 0 1.9.1 1.6 0 3 .1 2.7 0 2.5.1 3.1 0 2 .1.8 0 1 .1 1.2 0 0 .1-1.4 0-.7 0-1.2.1-1.5 0-1.2.1-1.7 0-.6.1-1.3 0-2 .1-.4 0-.7.1.4 0-1.1.1.6 0 .5.1-.6 0 1 .1.3 0 .9.1-.5 0 .8.1-.2 0 1.2.1-.8 0 .9.1-.6 0 .4.1 0 .2.4.3.2.2.3.3 0 .2-.5.2-.4.3.9.2-1 .3.5.2-.3.3.1.2.3.3-.5.2.4.2 0 .3.4.2.1.3-.2.2-.3.3.7.2-.3.3-.9.2.6.2.1.3-.5.2.4.3-.2.2-.2.3.3.2-.2.3-.3.2.5.3-.7.2 1.2.2-.6.3.1.2.4.3 0 .2-.5.3.2.2.3.3.2.2-.9.2.4.3-.5.2.1.3.3.2-.1.3-.3.2 0 .3.4.2-.6.3.7.2-.6.2 1.1.3-.5.2.2.3-.5.2.6.3-.2.2.1.3-.3.2.2.2-.2.3.2.2-.3.3 0 .2.2.3-.1.2 0 .3-.3.2.2.2.5.3-.4.2.1.3-.3.2.8.3-.7.2.3.3-.2.2.5.3-1.1.2-.2.2.7.3-.9.2.7.3 0 .2.2.3.3.2-.8.3.8.2.3.2.1.3-1.1.2.3.3 1 .2-1.2.3.9.2-.4.3.1.2-.9.2.1.3.2.2.6.3.1.2-.6.3.4.2 0 .3-.5.2 0 .3-.4.2.3.2.1.3.9.2-.2.3-.4.2.2.3-.5.2-.6.3 1.1.2.1.2-.6.3.8.2 0 .3-.1.2-1.1.3.8.2.2.3-.6.2.1.2.6.3.5.2-.5.3-.2.2-.3.3-.2 0 .1.1.5 0-.2.1.9 0-.9.1.3 0 .7.1.5 0 .4.1 0 0 .6.1 1.1 0-.2.1.2 0 .4.1-.3 0-.7.1-.1 0-2.2.1-.6 0-1.9 0-1.1.1-2.6 0-1.2.1-2.2 0-.4.1-2.2 0 0 .1-1.4 0 .4.1 1.3 0 .5.1 2.1 0 2.9.1 1.8 0 1.4.1 2.3 0 1.2.1 1.1 0 .2.1 1.3 0-.5.1.8 0-1.4.1 1 0-1.8.1-.9 0-.5.1 0 0-.6.1-.8 0 .2.1.2 0-.9.1.1 0 .1.1.1 0-.9.1 1.5 0-.4.1.3 0 .6.1-1.3 0 1.5.1-.1 0 .6.1-.4 0 .4 0-.1.1-.9.2.5.3-.3.2.3.3-.3.2-.3.3.6.2-.1.3.3.2.5.2-.8.3 0 .2.6.3-.1.2-1 .3.6.2-.6.3.3.2.1.3.1.2 0 .2.2.3 0 .2.5.3-.3.2-.7.3.9.2-.4.3-.6.2.1.2.4.3 0 .2.1.3-.7.2.5.3.9.2-1.5.3.1.2.6.2.1.3-.4.2.3.3-.1.2-.3.3.4.2-.2.3.3.2.1.3-.6.2.3.2-.3.3.2.2.2.3.3.2-.6.3.5.2-.3.3 0 .2 0 .2-.2.3.4.2-.6.3.7.2-.4.3.8.2-.8.3.3.2.2.2 0 .3.3.2 0 .3-.7.2-.1.3.8.2-.4.3-.2.2 0 .3.3.2 0 .2-1.1.3.5.2.1.3-.2.2.9.3 0 .2-.5.3.6.2-.7.2.7.3-.3.2-.2.3.2.2-.4.3.6.2-.6.3.4.2-.6.2.1.3.3.2 0 .3.5.2-.6.3.2.2 0 .3.7.2-.8.3-.5.2-.1.2.4.3.2.2-.5.3 0 .2.1.1.3 0 .3.1-.5 0 0 .1.9 0 .3.1-.4 0-.3.1.1 0 .7.1-.8 0 .2.1 1.1 0-.8.1.2 0 1.1.1-1.2 0 .5.1-.9 0-.7 0 .1.1-.7 0-.1.1-1.4 0 .3.1-.5 0 0 .1-.4 0-.4.1 1.2 0 .3.1.7 0 .8.1.9 0 .8.1.7 0 1.2.1 1.6 0-.1.1 1.2 0 .8.1-.8 0 .8.1-2.1 0 .1.1-1.9 0 0 .1-.4 0-1.6.1-1.2 0-.5.1.2 0-.3.1-.4 0-.5.1-.2 0 .1.1.1 0-.1.1 1.3 0 .3.1.2 0 .3.1-.8 0-.4.1.9 0-.1 0-.4.1.7 0-.3.3.4.2-.1.3-.5.2.3.3-.2.2.4.3-.2.2-.3.3.5.2-.3.2.1.3.1.2.8.3-.7.2-.2.3-.2.2-.4.3.6.2 0 .2-.2.3.5.2-.1.3.1.2-.4.3.7.2-.3.3-.5.2.3.2.4.3-.7.2.8.3-.7.2-.6.3 1 .2-.4.3.2.2-.1.3.5.2-.4.2.3.3-.7.2.4.3-.3.2.2.3.9.2-1.2.3.5.2-.3.2.3.3-.5.2.1.3-.4.2 1.1.3-.4.2 0 .3-.6.2 1.1.2-.1.3-.6.2.3.3-.3.2.5.3-1.2.2.9.3 0 .2.3.3-.8.2.2.2-.2.3.8.2-.2.3.3.2-.1.3-.1.2-.7.3.4.2.6.2-.4.3-.5.2.1.3.1.2.1.3.1.2 0 .3.2.2.2.2-.2.3-.6.2 1.2.3-.9.2-.2.3.7.2.1.3-.3.2.3.3-.5 0 0 0-.4.1.9 0-.3.1.6 0-.6.1.6 0-.2.1.7 0-.5.1.8 0-.8.1.3 0 0 .1.6 0-1.2.1.2 0 .3.1-.4 0-.3.1-.2 0-.7.1 0 0-.2.1-1.3 0 .5.1-1 0-.3.1.5 0 .2.1.6 0 .1.1 1.1 0 .8.1 1.6 0 .6.1.7 0 .8.1 1.1 0 1.2.1-1.3 0 .4.1.4 0-.7.1-1.1 0-.8.1-1 0-.9.1-.5 0-.3 0-.6.1-1.2 0 .2.1-.3 0 .6.1-1 0 .1.1 0 0 2.1.1-.6 0-.6.1.6 0-.9.1.7 0 1 .1-.9 0-.4.1.3 0 0 .1.2.2 0 .3-.1.2-.4.3.6.2 0 .2-.6.3.8.2-.3.3.8.2-.5.3-.5.2 0 .3 1 .2-.2.3-.3.2.1.2-.8.3 1 .2-.5.3 0 .2.4.3-.2.2-.8.3.9.2-.3.2.5.3-.4.2.2.3-.6.2 0 .3-.1.2.6.3-.5.2.2.2 1 .3-.4.2.6.3-1.3.2 0 .3.2.2.4.3-.6.2 1.1.3-1.1.2.9.2-1 .3.1.2.5.3-.2.2-.1.3-.1.2.3.3-.3.2.9.2-.4.3-.1.2-.6.3 1.5.2-1 .3-.4.2-.1.3-.6.2.7.2-.6.3.3.2 1.1.3-.7.2-.2.3 1 .2-.9.3 1 .2-.9.3.3.2-.3.2-.1.3.3.2.5.3-.5.2-.5.3-.3.2 1.2.3-.8.2-.1.2.6.3 0 .2.1.3-.5.2-.5.3.9.2-.2.3 0 .2-.3.1.6 0-.2.1.1 0 .5 0-.5.1 0 0 .2.1-.3 0 .7.1.7 0 .2.1-.4 0-.1.1.8 0-.2.1 0 0 .3.1-1 0 .2.1-.8 0-.4.1-1.2 0-.3.1-.5 0-.8.1-.4 0-.6.1.6 0-1.6.1 1.4 0 0 .1.1 0 .9.1.4 0 1.7.1.8 0 .6.1 1.2 0-.8.1.5 0 .5.1.5 0-.3.1-.8 0 .1.1-.1 0-1.3.1.4 0-.1.1-.2 0-.2.1-.7 0-.8 0 .4.1.2 0 .4.1.6 0-.1.1.2 0 .5.1-1.2 0 .7.1 0 0 .1.1 0 0-.8.1-1.2 0 .2.1-1 0 .1.1-.8 0-.3.1.2 0-.4.1.4 0 .2.1.6 0 0 .1.4 0 .3.1 1.5 0 .6.1-.2 0 0 .1 1.3 0-.2.1.3 0-.4.1.4 0-.6.1-.5 0 .1.1-1.1 0 .1.1-.2 0-.4.1.1 0-.5.1-.6 0 1.4 0-.7.1-.1 0-.4.1.7 0 0 .1-.4 0 1.1.1 0 0-1 .1 1.1 0-.6.1.7 0-.1.1.2 0-.2.3.4.2-.7.3 0 .2 0 .3-.1.2 1.1.2-.8.3.4.2-.4.3-.1.2.4.3-.6.2.5.3.2.2-.4.3 0 .2-.2.2.4.3.1.2 0 .3-.5.2.1.3-.3.2.5.3.1.2-.2.2-.1.3.2.2-.1.3.1.2-.5.3 0 .2.1.3-.1.2.4.2.7.3-.8.2-.6.3.3.2-.1.3.6.2-.1.3.6.2-.7.3-.1.2.6.2-.9.3.4.2.5.3-.4.2.1.3-.6.2-.2.3.5.2.5.2-.6.3-.2.2-.2.3 1.3.2-1.3.3.4.2-.3.3.8.2-1 .2.1.3.7.2-.7.3.8.2.3.3-.5.2-1 .3.7.2.2.3.6.2.1.2-.2.3-.4.2-.1.3.1.2-.2.3 0 .2 0 .3.2.2.5.2-1 .3 1.2.2-.4.3.1.2-.4.3 0 .2.5.3-.7.2-.2.2.4.3-.2.2.7.3-.4.2.1.3-.2.2 0 .3.5.2-.4.3.5.2-1.3.2.9.3.2.2-.4.3-.7.2.7.3-.1.2.6.3 0 .2 0 .2-.4.3.1.2-.1.3.4.2-.4.3.2.2.1.3-.3.2.1.2-.4.3-.2.2.2.3 0 .2-.3.3.6.2.3.3 0 .2.3.3-.7.2 1 .2-1.1.3.3.2.4.3-1.2.2.8.3 0 .2.7.3-1.1.2.3.2-1 .3 1 .2-.7.3.2.2.7.3-.5.2-.3.3.8.2-.2.3-.2.2-.5.2.3.3-.2.2.4.3 0 .2.1.3-.3.2.2.3.5.2-.6.2.6.3-.1.2 0 .3-1 .2 1 .3-.2.2.1.3-.3.2 0 .2-.3.3-.1.2.6.3-.5.2.2.3.6.2.1.3-.6.2-.7.3.9.2.3.2-.4.3-.1.2-.3.1.5 0 1 .1-.8 0-.3.1-.2 0 .6.1-.6 0 .5.1.2 0 .2.1.4 0-.1.1-.3 0-.3.1.9 0-1.2.1.3 0 1.2.1-1.4 0 .6.1-1.3 0 0 .1-.3 0-.3.1-1 0-.7.1.1 0-.8 0-.1.1 1.1 0-.6.1 1.1 0 .3.1-.4 0 .5.1.4 0 .8.1-.1 0 .6.1-.3 0 .5.1-.4 0 .6.1-.1 0 .2.1-.2 0-1 .1 1.4 0-.7.1-.6 0 .3.1-.1 0 .6.1-.4 0 .2.1.3 0-1 .1.1 0 .6.1-.7 0 1 .1-.8 0 0 .1.7 0 .4.1-.7 0-.2.1-.3 0 .4.1-.1.2-.2.2.2.3.6.2-.3.3-1.1.2 1.7.3-.2.2-1 .3 1 .2-1 .3.7.2-.1.2-.5.3.6.2-.1.3 0 .2-.6.3.8.2-.4.3.7.2-.2.2-.1.3-.7.2 1.2.3-.6.2-.2.3-.2.2.2.3.5.2-1.3.2 1 .3-.7.2.2.3.5.2 0 .3-.3.2.3.3.4.2-.5.3-.5.2.3.2 0 .3.7.2-.7.3-.5.2.1.3 1 .2-.3.3-.6.2-.1.2.8.3-.8.2.4.3.4.2 0 .3-.7.2.6.3-.8.2.7.2-.3.3-.6.2 1.3.1-.6 0 .3.1-.3 0 1.3.1-.5 0-.6.1.9 0-.3.1.4 0-1.4.1 1.1 0-.5.1.5 0-.1.1.3 0-1 .1.6 0-.6.1.8 0-.5.1-.2 0-.1.1-.4 0-.9.1 0 0-1 .1.3 0 0 .1 0 0 .3.1.1 0 1 .1.1 0 .1.1.3 0 .4 0 1.1.1-.4 0 1 .1-.6 0 .5.1-.5 0 .6.1-.3 0-.5.1-.7 0-.7.1.6 0 .3.1-1 0 .3.1-.6 0 .6.1-.7 0 .8.1-.9 0 .3.1.8 0-.5.1 0 0-.1.1.3 0-.5.1 0 0 1 .1-.5 0 .1.1-.1 0 0 .1.5.2-.4.3-.1.2-.2.2.3.3.4.2-.7.3 0 .2.7.3-.4.2.4.3-.9.2.1.2-.1.3.6.2-.8.3.8.2-.2.3.2.2.2.3 0 .2-1.3.3 1.2.2.2.2-.6.3.4.2 0 .3 0 .2-.7.3 1 .2-1.1.3.8.2 0 .2 0 .3-.1.2.5.3-.3.2-.1.3.3.2-1.1.3.4.2-.3.2 0 .3.9.2-.4.3.6.2-.4.3-1.4.2 1 .3 0 .2-.1.3.9.2-.9.2.7.3-.5.2 0 .3-.2.2.9.3-.7.2-.4.3.5.2-.7.2 1.1.3-1 .2.2.3.4.2-.5.3 1 .2-.6.3.1.2-.1.2 0 .3.1.2.7.3-.9.2-.3.3.9.2-.1.3-.6.2 0 .3.7.2-.4.2-.1.3 0 .2-.2.1.5 0-.8.1.1 0-.2.1.5 0-.2.1.6 0-.3.1.3 0 .5.1-.2 0-.2.1.1 0 0 .1.3 0 0 .1.4 0-.4.1-.3 0-.6.1.1 0-.8.1-.7 0 .7.1-.2 0-1.9.1 1.5 0-1.1.1.2 0 .7 0-.1.1.4 0-.1.1 1.4 0-.1.1.5 0 1.1.1-.2 0 .5.1.3 0-.2.1-.6 0 .7.1-.7 0 .6.1-.4 0-1.9.1 1.7 0-1.5.1.4 0-.2.1-.3 0 0 .1.4 0-.5.1-.2 0 .2.1-.1 0 .1.1.1 0 0 .1.5 0-.6.1-.1 0 1 .1-.6 0 .7.1-.5 0-.4.1.5.2.6.2-1 .3.1.2-.4.3.7.2-.2.3 1 .2-1.8.3 1.1.2-.2.3.2.2-.3.2.2.3-.3.2 0 .3.5.2-1.3.3 1.4.2-.7.3.2.2.5.2 0 .3-.3.2-.2.3-.5.2.6.3-.2.2-.1.3-.2.2.4.2.2.3-.4.2-.4.3.8.2-.6.3.1.2.1.3 0 .2-.3.3.1.2.3.2-.1.3.2.2.3.3.1.2-.9.3.2.2.1.3 0 .2.3.2-.1.3-.8.2.1.3.7.2.4.3 0 .2-.3.3 0 .2-.7.2-.1.3.6.2 1.2.3-.7.2-.6.3-.1.2 0 .3 0 .2.8.3-1 .2.7.2-.5.3.4.2.3.3-.4.2 0 .3-.3.2 0 .3.9.2-.9" stroke="#1f5fcf" stroke-width="1.5" fill="none" stroke-linejoin="round"/>
</g>
<rect x="376" y="9" width="294" height="236" fill="none" stroke="#000" stroke-width="2"/>
<path d="M376.1 245.1V250.9M400.6 245.1V248.4M425.1 245.1V250.9M449.6 245.1V248.4M474 245.1V250.9M498.5 245.1V248.4M523 245.1V250.9M547.5 245.1V248.4M572 245.1V250.9M596.5 245.1V248.4M620.9 245.1V250.9M645.4 245.1V248.4M669.9 245.1V250.9" stroke="#000" stroke-width="1.8" fill="none"/>
<text x="376.1" y="268.2" text-anchor="middle" class="tl" style="font-size:18.7px">20</text>
<text x="425.1" y="268.2" text-anchor="middle" class="tl" style="font-size:18.7px">30</text>
<text x="474" y="268.2" text-anchor="middle" class="tl" style="font-size:18.7px">40</text>
<text x="523" y="268.2" text-anchor="middle" class="tl" style="font-size:18.7px">50</text>
<text x="572" y="268.2" text-anchor="middle" class="tl" style="font-size:18.7px">60</text>
<text x="620.9" y="268.2" text-anchor="middle" class="tl" style="font-size:18.7px">70</text>
<text x="669.9" y="268.2" text-anchor="middle" class="tl" style="font-size:18.7px">80</text>
<text x="469.3" y="290.8" class="xt" style="font-size:23.2px">2<tspan class="th">θ</tspan> (Degrees)</text>
<text transform="translate(365.7 128.1) rotate(-90)" text-anchor="middle" class="yt" style="font-size:22.6px">Intensity (a.u)</text>
<text x="452.3" y="50.1" class="pl" style="font-size:43.5px">(b)</text>
<circle cx="552.1" cy="26.8" r="2.5" fill="#f2000a"/>
<path d="M539.3 44.4H564.9" stroke="#000" stroke-width="1.5"/>
<path d="M539.3 62H564.9" stroke="#5b8fd6" stroke-width="1.5"/>
<path d="M552.1 77V82.2" stroke="#8fd0ac" stroke-width="0.9"/>
<text x="567.7" y="30.3" class="lg" style="font-size:11.5px">Y<tspan style="font-size:7.1px" dy="4">obs</tspan></text>
<text x="567.7" y="47.9" class="lg" style="font-size:11.5px">Y<tspan style="font-size:7.1px" dy="4">cal</tspan></text>
<text x="567.7" y="65.5" class="lg" style="font-size:11.5px">Y<tspan style="font-size:7.1px" dy="4">obs</tspan><tspan dy="-4">-Y</tspan><tspan style="font-size:7.1px" dy="4">cal</tspan></text>
<text x="567.7" y="83.1" class="lg" style="font-size:11.5px">Bragg position</text>
<clipPath id="clipc"><rect x="33.1" y="308" width="296.3" height="238.5"/></clipPath>
<g clip-path="url(#clipc)">
<path d="M33.2 481.6h0m.1-2.4h0m.2 2h0m.5.4h0m.2-.9h0m.6-.2h0m.3.5h0m.3-.6h0m.3-.6h0m.1 1.7h0m.2-.9h0m.1.7h0m.6-.5h0m.3-.6h0m.2 1.1h0m.1-1.4h0m.2.9h0m.5-.6h0m.3.9h0m.3-.7h0m.5-.6h0m.4 1.1h0m.6-.9h0m.2.6h0m.6-.4h0m.1.6h0m.5-.6h0m.1.7h0m.1-1.2h0m.6-.6h0m.5.5h0m.1-.7h0m.2-2.4h0m.1.7h0m.2-.7h0m.1-.9h0m.3-.7h0m.2-5h0m.1-6.7h0m.2-9.6h0m.1-17.9h0m.2-22.9h0m.1-24.8h0m.2-14.3h0m.1 4.6h0m.2 17.8h0m.1 24.8h0m.2 23.6h0m.1 14.4h0m.1 7.6h0m.2 4.4h0m.1 3.3h0m.2.8h0m.1 1.6h0m.2 2h0m.3.5h0m.4.9h0m.2-1.4h0m.1.7h0m.3.6h0m.2.8h0m.3-1.6h0m.1.8h0m.5 1.4h0m.1-1.6h0m.2.7h0m.7 0h0m.1.6h0m.2-1.1h0m.4 1.3h0m.2-.9h0m.4 1.5h0m.2-1.3h0m.6-.3h0m.4-.8h0m.2 2.5h0m.1-.9h0m.3-.5h0m.3.6h0m.4-1.2h0m.2.9h0m.1.8h0m.2-1.1h0m.4.7h0m.3-.6h0m.6-.3h0m.6.2h0m.2 1.5h0m.1-1.1h0m.3.8h0m.2-1.6h0m.1-1.1h0m.5 1.3h0m.2-1.5h0m.2 1.8h0m.1-1.5h0m.2.8h0m.6-.4h0m.1-.8h0m.2.8h0m.4 1.4h0m.2-.9h0m.6-1.1h0m.3 1.7h0m.4-.7h0m.3 1.4h0m.2-.8h0m.1-.7h0m.3 1.4h0m.1-1.3h0m.2-.7h0m.3.6h0m.1 1.2h0m.3-.8h0m.6.1h0m.5 1.2h0m.1-2.1h0m.2 1.3h0m.6.1h0m.6-.9h0m.1 1.2h0m.1-.6h0m.3.9h0m.5-2h0m.1.7h0m.2 1h0m.1-1.1h0m.3 1.4h0m.3-1.3h0m.2.7h0m.6-.2h0m.1-.9h0m.2.9h0m.6-.6h0m.1.7h0m.6-.6h0m.6.5h0m.1-2.1h0m.2 1.1h0m.1-1.2h0m.2.7h0m.6-.6h0m.1-2.4h0m.2.7h0m.1 1.5h0m.3-1.6h0m.2-1.4h0m.1 2.5h0m.2-3.1h0m.1 1.7h0m.5-.4h0m.1.8h0m.1 1.3h0m.2-.8h0m.3.9h0m.6.8h0m.3-1.2h0m.1.8h0m.5-1.8h0m.3.9h0m.3-.6h0m.6.5h0m.1-.8h0m.5-1h0m.1 1.6h0m.3.6h0m.1.6h0m.3-.7h0m.2.9h0m.3.5h0m.4.8h0m.6-1.2h0m.3 1.4h0m.2-1.6h0m.1.7h0m.3.9h0m.3-1.2h0m.3-1.2h0m.2 2h0m.4-2h0m.1 1.6h0m.3-1.7h0m.2 1.1h0m.3 1h0m.3-.7h0m.1.6h0m.3-.6h0m.3.5h0m.3 1h0m.2-1.3h0m.1 1.2h0m.2-.7h0m.3-.7h0m.4 1h0m.4-.4h0m.5-.6h0m.4 1.1h0m.2-1.2h0m.4.6h0m.3-.6h0m.2-1.3h0m.3.6h0m.4-1.9h0m.2.8h0m.1-1.4h0m.5.7h0m.1-1.6h0m.2-.9h0m.4-.9h0m.1-5.5h0m.2-2.1h0m.1-4.7h0m.2-4.8h0m.1-9.2h0m.2-9.7h0m.1-15.5h0m.2-13.3h0m.1-14.8h0m.2-12.9h0m.1-7.8h0m.2-6.5h0m.1-1.1h0m.2-7.6h0m.1-9.8h0m.2-9.4h0m.1-6h0m.2-4.6h0m.1 7.9h0m.2 15.2h0m.1 20.9h0m.2 21.2h0m.1 19.2h0m.2 16.7h0m.1 12.2h0m.1 11.8h0m.2 7.3h0m.1 4.4h0m.2 3.5h0m.1 1.3h0m.2 4.4h0m.1-1h0m.3 1.6h0m.2.9h0m.1 1.2h0m.2-1.8h0m.1 2.4h0m.5 1.2h0m.3-.7h0m.3 2h0m.4-.8h0m.2.7h0m.3-.7h0m.2.8h0m.3.5h0m.2-.9h0m.1 1.1h0m.2-.9h0m.1 1h0m.3-1h0m.6 1h0m.2-.9h0m.4 1.5h0m.3-1.3h0m.3.5h0m.6-.6h0m.4.7h0m.2-.7h0m.1.7h0m.5-.6h0m.1 2.7h0m.2-1.5h0m.4-.7h0m.6.5h0m.3-1.9h0m.2 1.3h0m.1.6h0m.5.5h0m.1-.7h0m.2.8h0m.1-.9h0m.4-1h0m.2.8h0m.4-.5h0m.2 1.1h0m.4-.7h0m.2 1.2h0m.3-.7h0m.4.7h0m.3-.8h0m.3-.9h0m.2 2.3h0m.1-2h0m.2 1h0m.4-.8h0m.4.6h0m.3-1h0m.2.6h0m.6.6h0m.3-1.1h0m.1.9h0m.6-1h0m.2 1.1h0m.6-.7h0m.1 1h0m.2-.7h0m.6.5h0m.1-.8h0m.3.6h0m.1.9h0m.2-.8h0m.1-1h0m.2.8h0m.3-1h0m.1.6h0m.3.5h0m.6-.4h0m.5.9h0m.1-1h0m.3 1.1h0m.3-1h0m.6.6h0m.4-.7h0m.2-.6h0m.1.7h0m.2.8h0m.3-1h0m.4.5h0m.2.9h0m.4-.7h0m.3-1h0m.2.6h0m.6-.3h0m.3 1.8h0m.1-2h0m.2 1h0m.2-.7h0m.6.4h0m.5-.8h0m.6.7h0m.1-1h0m.5-1.1h0m.1.9h0m.3-.9h0m.3.7h0m.2-1.1h0m.1-1h0m.2-1h0m.1-1.5h0m.3-.9h0m.6 2.4h0m.1-1.4h0m.2 1.5h0m.1.9h0m.3-.8h0m.3 1.3h0m.2-1.7h0m.1-1.8h0m.2-.8h0m.1-2.8h0m.2-4.2h0m.1-1.5h0m.2-3.2h0m.1-4.3h0m.2-5.8h0m.1-5.8h0m.2-.9h0m.1-3.5h0m.2.6h0m.1 2.1h0m.2 2.5h0m.1 3.9h0m.1 4h0m.2 4.8h0m.1 4.6h0m.2 3.1h0m.1 3.7h0m.3 3.1h0m.2 2.1h0m.3 1.4h0m.3 1.6h0m.1.9h0m.2-1.4h0m.1 1.5h0m.2-1.4h0m.1 1.1h0m.2-1.2h0m.1 1.6h0m.5.6h0m.3-.5h0m.7 1h0m.3-.6h0m.3-.9h0m.1.9h0m.2-1h0m.3 1.2h0m.6-.2h0m.3.8h0m.3-1.5h0m.1.8h0m.2.6h0m.1-.8h0m.5-.4h0m.1.7h0m.4-.8h0m.3.7h0m.5-.5h0m.1.9h0m.6-.4h0m.5-.6h0m.1.6h0m.3-.8h0m.2 1.2h0m.1-.7h0m.5.5h0m.4.7h0m.2-.8h0m.5-.6h0m.2.6h0m.6.9h0m.1-1h0m.3.7h0m.3-1.1h0m.2.9h0m.1-1h0m.2.6h0m.1 1.2h0m.3-.8h0m.3-.8h0m.3.7h0m.2-.8h0m.1.7h0m.6-.3h0m.4-.8h0m.2.6h0m.1.9h0m.5-1.7h0m.1 1.8h0m.3-.7h0m.5-.5h0m.3 1.1h0m.1-1.7h0m.2 1.4h0m.4.6h0m.5-.4h0m.4-.5h0m.4-.8h0m.3 1.9h0m.2-.8h0m.3-.6h0m.1-.6h0m.2.6h0m.6.2h0m.1-.9h0m.2 1.7h0m.3-.8h0m.4.6h0m.3-1.2h0m.3-.7h0m.1 1.3h0m.3.5h0m.2-.6h0m.3-.6h0m.1.8h0m.3-.7h0m.3.9h0m.2-1.9h0m.1 1.6h0m.2-.9h0m.1.8h0m.2-.7h0m.1.7h0m.2-.6h0m.4-1.1h0m.2 1h0m.4-.4h0m.3-1.2h0m.1.8h0m.2-.7h0m.1-.7h0m.3-1.9h0m.3-1.2h0m.2-2.7h0m.1-1.3h0m.2-1.6h0m.1-2.3h0m.2-4.9h0m.1-1.4h0m.2-4.6h0m.1-2.8h0m.2-3.5h0m.1-.7h0m.2-2.4h0m.1 1.2h0m.2 1.5h0m.1 2.8h0m.2 1.2h0m.1 5.1h0m.2 2.6h0m.1 4.6h0m.2 1.2h0m.1 2.4h0m.1 2.6h0m.2 1.6h0m.1 1.6h0m.3.7h0m.2 1.2h0m.1 1.1h0m.2 1.1h0m.6.6h0m.1 1.7h0m.2-.7h0m.3-1.4h0m.1.8h0m.3.5h0m.2.9h0m.1-1.1h0m.2-1.1h0m.1 1.1h0m.2-.8h0m.1 1.4h0m.4-1.2h0m.2.8h0m.1.7h0m.2-1.1h0m.3.7h0m.7-.4h0m.6.5h0m.6-.6h0m.3.6h0m.6-.7h0m.2.8h0m.4.4h0m.4-1h0m.6-.2h0m.2 1h0m.1-1.1h0m.2 1.2h0m.3.9h0m.1-.8h0m.3-.8h0m.3.8h0m.2-1.2h0m.1 1.3h0m.2-.7h0m.1-.9h0m.2 1.9h0m.1-1.5h0m.2 1.9h0m.1-2h0m.3.8h0m.3-.9h0m.1.9h0m.5-.9h0m.3.8h0m.6-.2h0m.1.9h0m.2-1.1h0m.3-.7h0m.1 2h0m.2-.7h0m.1-1.1h0m.2 1.2h0m.6.1h0m.1-.8h0m.4.4h0m.3.7h0m.2-.8h0m.7.6h0m.2-.7h0m.4.8h0m.2-1.2h0m.4.5h0m.5-.5h0m.1.9h0m.2-1.1h0m.3.7h0m.4-.5h0m.3.6h0m.3-.8h0m.3.7h0m.6-.2h0m.1-.6h0m.3 1h0m.2-.8h0m.3.5h0m.1-.7h0m.5.4h0m.1-1.1h0m.6-1.8h0m.1 1.4h0m.2-1.5h0m.3-.8h0m.1-.6h0m.2-1.4h0m.1-1.4h0m.3-1.7h0m.2-.9h0m.1-2h0m.2-2.7h0m.4-2.7h0m.2-1.6h0m.1-1h0m.2 1.1h0m.1-1h0m.2 2.8h0m.4 1.7h0m.2-.8h0m.3 1.7h0m.1 2h0m.1-1.4h0m.2 2.2h0m.1-1.7h0m.2 2.5h0m.1 1.4h0m.2 2.1h0m.1-1.9h0m.2 2.4h0m.3 2.1h0m.3 1.3h0m.3.7h0m.1 1h0m.2 1.1h0m.4-.5h0m.2 1.3h0m.1-1.9h0m.3.8h0m.2.8h0m.7-.3h0m.3.6h0m.1-.7h0m.2.7h0m.6-.4h0m.1.7h0m.3-.7h0m.3 1.2h0m.2-.7h0m.4-.6h0m.3.6h0m.3.5h0m.2-.7h0m.4.4h0m.1-1.2h0m.2 1.1h0m.3-.7h0m.1.8h0m.3-.7h0m.2.6h0m.3-1.2h0m.1.8h0m.2.7h0m.1-.7h0m.6.7h0m.2-.8h0m.3.6h0m.6-.5h0m.5-.6h0m.2.7h0m.4 1.2h0m.2-.6h0m.1-1h0m.5.9h0m.3-.6h0m.3.7h0m.3-1.3h0m.6 1.3h0m.1-.8h0m.5.4h0m.4.5h0m.1-1.2h0m.2 1.4h0m.3-1.2h0m.3.6h0m.4-.8h0m.2 1.5h0m.1-1.4h0m.2-1.3h0m.1 1.8h0m.3.6h0m.3.7h0m.2-2.1h0m.3-.6h0m.1 1.8h0m.2-1.3h0m.1-.8h0m.3.8h0m.4-1h0m.5-.4h0m.3-.8h0m.1-.6h0m.3-1.4h0m.3-.9h0m.2-1.6h0m.3-1.3h0m.3-1.4h0m.3-.8h0m.1-.8h0m.2.6h0m.1-.7h0m.3 1.7h0m.2-1.6h0m.1 1.9h0m.2 1.6h0m.1-.6h0m.1-1.6h0m.2 1.1h0m.1-1.1h0m.2-1.9h0m.1-.7h0m.2-2h0m.1-1.6h0m.2-1.5h0m.1-4.2h0m.3-1.5h0m.2-4.6h0m.1-3h0m.2-1.3h0m.3-1.9h0m.1 1.2h0m.2 2.7h0m.1-1.4h0m.2 3h0m.1 1.7h0m.2 2.9h0m.1 3.1h0m.2 1.8h0m.1 3.7h0m.2 2h0m.1 3h0m.1 1.4h0m.2 1.3h0m.1 2.3h0m.3 1.4h0m.3 2h0m.2-.9h0m.1 1.6h0m.2-.8h0m.1.9h0m.6.9h0m.8.6h0m.4-.6h0m.2.8h0m.1.8h0m.2-1.1h0m.5-.3h0m.3 1.1h0m.5-.4h0m.6.4h0m.4 1.4h0m.2-1.7h0m.6.1h0m.4-.6h0m.2.8h0m.5-.2h0m.3-1h0m.2 1.7h0m.1-1.1h0m.2.7h0m.4-.9h0m.2 1h0m.1-.8h0m.3.8h0m.3-1.1h0m.3 1.1h0m.2-.7h0m.1.9h0m.2-1.2h0m.6 1.5h0m.3-.9h0m.2.7h0m.2-.6h0m.3.8h0m.1-1.4h0m.2.8h0m.4.8h0m.3-1.3h0m.2.9h0m.3-1.1h0m.4-.5h0m.2 1.3h0m.4-.6h0m.3 1h0m.3-.7h0m.4.7h0m.2-.6h0m.1 1.1h0m.3-.8h0m.2-1.1h0m.1.7h0m.2.7h0m.1-.9h0m.5 1.6h0m.1-1.5h0m.2-.7h0m.1 1h0m.8-.3h0m.1.7h0m.5-.8h0m.1 1h0m.3-.9h0m.6.6h0m.6-.5h0m.3 1h0m.1-.9h0m.2-.7h0m.1.7h0m.6-.5h0m.2.7h0m.4-.5h0m.5 1.1h0m.1-1.7h0m.2 1.4h0m.4-.7h0m.4 1.2h0m.2-1.1h0m.6-.3h0m.3.6h0m.3-.6h0m.3 1h0m.1-.9h0m.5-.5h0m.1.7h0m.3 1h0m.2-1.8h0m.1.6h0m.5-.7h0m.1 1.3h0m.3-.7h0m.4.5h0m.6.4h0m.2-.8h0m.1 1h0m.2-.7h0m.6.1h0m.1-1.2h0m.2.6h0m.1.9h0m.2-.9h0m.6 1.2h0m.1-.6h0m.4-.9h0m.2 1h0m.6-.4h0m.6.2h0m.1.6h0m.2-1.1h0m.1.7h0m.2-.8h0m.3.9h0m.3-.6h0m.3.8h0m.1-.7h0m.5 1.3h0m.3-.9h0m.1.8h0m.1-.8h0m.5.4h0m.1-1.2h0m.2 1.1h0m.7-1.4h0m.2.8h0m.6-.6h0m.4.5h0m.8.5h0m.1-.6h0m.2-.7h0m.4.7h0m.6-.5h0m.1.7h0m.2-1.2h0m.1 1.3h0m.3-1h0m.5-.4h0m.1.6h0m.2.6h0m.1-1.1h0m.5-.7h0m.1 1.4h0m.2-1.4h0m.6 1h0m.1-.6h0m.1-.6h0m.3-.8h0m.3 1.6h0m.3-1.3h0m.2.8h0m.6-2.7h0m.1 1.1h0m.2-1.1h0m.1.7h0m.2-1.4h0m.4-1.7h0m.5.7h0m.1-1.1h0m.2 1.8h0m.1 1.1h0m.2-1.3h0m.1.9h0m.1-1.9h0m.2 1.4h0m.1 1.8h0m.3.8h0m.2.8h0m.6.4h0m.1-1.1h0m.2 2.3h0m.1-1.9h0m.3 1.5h0m.2.6h0m.4-.5h0m.3.6h0m.2-.8h0m.1.7h0m.5-1.1h0m.1 1h0m.1-1h0m.2 1.5h0m.1-.6h0m.2.7h0m.3-1.1h0m.1 1.1h0m.5-1.1h0m.6.8h0m.6.3h0m.1-1h0m.2 1h0m.3-.9h0m.4 1.1h0m.3-1h0m.3.6h0m.4.7h0m.2-1.3h0m.1.9h0m.5-.8h0m.4.6h0m.2-.7h0m.7.4h0m.5.5h0m.4-.9h0m.3.9h0m.4-.9h0m.6-.3h0m.2.6h0m.7 1.1h0m.5-.9h0m.4-.8h0m.2 1h0m.4-.8h0m.6.5h0m.3-.8h0m.6-.5h0m.1.7h0m.2-.6h0m.1 1.1h0m.5.5h0m.1-2.5h0m.5-.7h0m.1 1h0m.6-.7h0m.6.4h0m.2-.9h0m.4.7h0m.1-.7h0m.3-.5h0m.2-1h0m.1.9h0m.2-1.2h0m.1 1.4h0m.2-.8h0m.1 1.8h0m.2-1.2h0m.7-.3h0m.2 1.4h0m.1-.7h0m.2 2.2h0m.1-1.3h0m.2.6h0m.3.6h0m.1.9h0m.2-.6h0m.4 1.1h0m.3-1.7h0m.1 1h0m.5.5h0m.4.7h0m.2-1.8h0m.1.9h0m.6.5h0m.5-1.2h0m.1.9h0m.2-.7h0m.1.9h0m.2.6h0m.1-.9h0m.4.7h0m.5-.9h0m.4 1.4h0m.2-1.7h0m.1 1h0m.5-1h0m.3.6h0m.6-.5h0m.1 1.1h0m.2-.9h0m.1 2.1h0m.2-1.9h0m.6.6h0m.2-.8h0m.5.5h0m.6-.2h0m.3.6h0m.1-.6h0m.2.6h0m.1-.7h0m.3.7h0m.2-1h0m.7.3h0m.2.8h0m.1-.9h0m.2.9h0m.3-1.2h0m.1 1h0m.6-.4h0m.3-.6h0m.3.8h0m.1-.6h0m.2 1.1h0m.1-1.1h0m.5 1h0m.4-1.4h0m.2 1.3h0m.3-1h0m.6.7h0m.1-1h0m.2.6h0m.1-.8h0m.1-.9h0m.2 1.3h0m.1.8h0m.3-1.3h0m.2.9h0m.3-.7h0m.4-.8h0m.5-1h0m.1.6h0m.3-1.4h0m.5-1.5h0m.1.7h0m.5-.7h0m.1 1.4h0m.2-1.5h0m.1.6h0m.1.6h0m.2.9h0m.1-2h0m.3.8h0m.2.8h0m.1 1h0m.5 1.1h0m.1-.9h0m.3 1.8h0m.3-1.2h0m.3 1.3h0m.2-1.2h0m.3 1.3h0m.3.6h0m.1-1.4h0m.2.8h0m.1-1.9h0m.2 1.3h0m.1 2h0m.1-.7h0m.3-1.2h0m.3 1.1h0m.2-.7h0m.4.5h0m.2-.7h0m.3 1.5h0m.1-1.6h0m.2 1h0m.1-.9h0m.6.4h0m.6-.3h0m.3.6h0m.3-1h0m.1.8h0m.2-1h0m.3 1.7h0m.3-.9h0m.3.8h0m.4-1h0m.5-.8h0m.1.8h0m.6-.2h0m.3.5h0m.3.6h0m.3-1.2h0m.2 1.1h0m.4-.8h0m.1.8h0m.2-.8h0m.1.8h0m.3-.6h0m.3-.6h0m.2 1.2h0m.1-1h0m.3.7h0m.5-.8h0m.4 1.1h0m.6-.4h0m.7-.3h0m.2.5h0m.6.2h0m.4-.9h0m.2.7h0m.1-1h0m.2.8h0m.4-.5h0m.3.7h0m.2-1.1h0m.1.8h0m.6-.4h0m-284.4-107.7h0m.1 4.3h0m47.5-53.1h0m0 5.8h0m36.6 113.9h0" stroke="#f2000a" stroke-width="4.6" stroke-linecap="round" fill="none"/>
<path d="M33.1 480.7l.5 0 .6 0 .5 0 .6 0 .5 0 .6 0 .5 0 .5 0 .6-.1.5 0 .6 0 .5-.1.6 0 .5-.1.5-.1.6-.2.5-.4.4-.4.3-.3.2-.5.1-.4.2-.5.1-.5.1-.6 0-.3.1-.4 0-.5.1-.6 0-.7.1-.8 0-1.1.1-1.4 0-1.8.1-2.2 0-2.9.1-3.5 0-4.4.1-5.4 0-6.3.1-7.3 0-8.2.1-9.1 0-9.8.1-9.9 0-9.7.1-8.8 0-7.2.1-4.7 0-1.6.1 1.6 0 4.7.1 7.2 0 8.8 0 9.7.1 9.9 0 9.8.1 9.1 0 8.2.1 7.3 0 6.3.1 5.4 0 4.4.1 3.5 0 2.9.1 2.2 0 1.8.1 1.4 0 1.1.1.8 0 .7.1.6 0 .5.1.4 0 .3.1.6.1.5.1.4.2.4.1.4.2.3.3.4.5.4.5.2.6.2.5.1.5.1.6 0 .5.1.6 0 .5 0 .6.1.5 0 .5 0 .6 0 .5 0 .6 0 .5 0 .6 0 .5 0 .5 0 .6 0 .5 0 .6 0 .5 0 .6 0 .5 0 .5 0 .6 0 .5 0 .6 0 .5 0 .6 0 .5 0 .6 0 .5 0 .5 0 .6 0 .5 0 .6 0 .5 0 .6 0 .5 0 .5 0 .6 0 .5 0 .6-.1.5 0 .6-.1.5 0 .5.1.6 0 .5 0 .6 0 .5 0 .6-.1.5 0 .5 0 .6.1.5 0 .6 0 .5 0 .6-.1.5 0 .5 0 .6 0 .5-.1.6 0 .5-.1.6 0 .5-.1.6-.1.5-.1.5-.2.6-.2.5-.3.5-.3.4-.4.3-.4.3-.4.2-.4.1-.4.1-.4.2-.5.1-.4.1-.4.1-.6.1-.6 0-.3.1-.4 0-.5.1-.5 0-.5.1-.7 0-.7.1-.9 0-1 .1-1.1 0-1.4.1-1.5 0-1.8.1-2 0-2.3.1-2.6 0-3 .1-3.3 0-3.6.1-4 0-4.3.1-4.7 0-5 .1-5.3 0-5.4.1-5.6 0-5.6.1-5.6 0-5.4.1-5.1 0-4.5.1-4 0-3.2.1-2.5 0-1.7.1-1 0-.4.3-1.1.1-1.4 0-2.1.1-2.7 0-3.3.1-3.8 0-4.2.1-4.4 0-4.6.1-4.3 0-3.9.1-3.2 0-2.1.1-.9 0 .5.1 2 0 3.5.1 4.9 0 6 .1 7 0 7.6.1 8 0 8.2.1 8.3 0 8.1.1 7.9 0 7.5 0 7.1.1 6.6 0 6.1.1 5.6 0 5 .1 4.5 0 4 .1 3.5 0 3.1.1 2.7 0 2.3.1 2 0 1.8.1 1.5 0 1.2.1 1.1 0 1 .1.8 0 .7.1.7 0 .5.1.5 0 .5.1.4 0 .3.1.7.1.5.1.5.1.4.1.4.2.4.1.4.2.4.2.4.2.4.3.4.4.4.5.3.5.3.6.2.5.2.6.1.5.1.6.1.5 0 .5.1.6 0 .5.1.6 0 .5 0 .6 0 .5.1.6 0 .5 0 .5 0 .6 0 .5 0 .6 0 .5 0 .6 0 .5.1.5 0 .6 0 .5 0 .6 0 .5 0 .6 0 .5 0 .5 0 .6 0 .5 0 .6 0 .5 0 .6 0 .5 0 .5 0 .6 0 .5-.1.6 0 .5 0 .6 0 .5 0 .5 0 .6-.1.5 0 .6-.1.5-.1.6-.3.3-.4.2-.4.1-.4.2-.6.1-.3.1-.5 0-.4.1-.4.1-.3.2-.4.4.5.2.5.1.4.2.5.2.4.5-.1.2-.4.1-.4.1-.5.1-.7 0-.4.1-.5 0-.5.1-.6 0-.7.1-.7 0-.8.1-.9 0-1 .1-1 0-1.2.1-1.2 0-1.2.1-1.4 0-1.4.1-1.4 0-1.5.1-1.5 0-1.6.1-1.5 0-1.4.1-1.4 0-1.3.1-1.2 0-1 .1-.9 0-.6.1-.4.1.4 0 .6.1.9 0 1 .1 1.2 0 1.3.1 1.4 0 1.5.1 1.5 0 1.5.1 1.5 0 1.5.1 1.5 0 1.4.1 1.3 0 1.3.1 1.2 0 1.2.1 1 0 1 .1.9 0 .8.1.7 0 .7.1.6 0 .6.1.5 0 .4.1.4.1.6.1.5.1.4.1.5.2.4.3.3.5.4.5.3.6.1.5.1.5.1.6.1.5 0 .6.1.5 0 .6 0 .5 0 .5 0 .6 0 .5.1.6 0 .5 0 .6 0 .5 0 .5 0 .6 0 .5 0 .6 0 .5 0 .6 0 .5 0 .5 0 .6 0 .5 0 .6 0 .5 0 .6 0 .5 0 .5-.1.6 0 .5 0 .6 0 .5 0 .6 0 .5-.1.6 0 .5 0 .5-.1.6-.1.5 0 .6-.2.5-.2.6-.2.4-.4.3-.4.3-.4.1-.4.2-.5.1-.4.1-.6.1-.7 0-.3.1-.5 0-.5.1-.5 0-.6.1-.6 0-.7.1-.7 0-.8.1-.9 0-.9.1-1 0-1.1.1-1.1 0-1.2.1-1.2 0-1.3.1-1.4 0-1.4.1-1.4 0-1.5.1-1.5 0-1.5.1-1.4 0-1.5.1-1.4 0-1.3.1-1.3 0-1.2.1-1 0-.9.1-.7 0-.5.1-.4.1.4.1.5 0 .7.1.9 0 1 .1 1.2 0 1.3.1 1.3 0 1.4.1 1.5 0 1.4.1 1.5 0 1.5.1 1.5 0 1.4.1 1.4 0 1.4 0 1.3.1 1.2 0 1.2.1 1.1 0 1.1.1 1 0 .9.1.9 0 .8.1.7 0 .7.1.6 0 .6.1.5 0 .5.1.4 0 .4.1.4.1.6.1.5.1.4.1.4.2.5.3.4.3.3.6.4.5.2.6.2.5.1.5.1.6 0 .5.1.6 0 .5 0 .6.1.5 0 .5 0 .6 0 .5 0 .6 0 .5 0 .6 0 .5 0 .5 0 .6 0 .5 0 .6 0 .5 0 .6 0 .5 0 .5 0 .6 0 .5 0 .6 0 .5 0 .6 0 .5-.1.6 0 .5 0 .5-.1.6-.1.5-.1.6-.1.5-.2.6-.3.3-.3.3-.4.2-.5.1-.5.1-.3.1-.5.1-.5.1-.7.1-.3 0-.4.1-.4 0-.4.1-.5 0-.5.1-.5 0-.5.1-.6 0-.6.1-.6 0-.7.1-.6 0-.7.1-.7 0-.7.1-.8 0-.7.1-.7 0-.7.1-.7 0-.7.1-.7 0-.6.1-.6 0-.6.1-.5 0-.4.1-.4.1-.5.3.4.1.7 0 .3.1.5 0 .4.1.5 0 .5.1.4 0 .5.1.5 0 .4.1.4 0 .5.1.3 0 .4.1.6.1.6.1.4.1.4.1.4.2.4.1.5.1.4.1.5.1.6.1.6.1.7.1.4 0 .3.1.4 0 .3.1.4 0 .3.1.7.1.7.1.6.1.6.1.5.1.5.1.4.1.4.2.5.1.3.2.4.3.4.5.4.6.2.5.1.5.1.6.1.5 0 .6.1.5 0 .6 0 .5 0 .5.1.6 0 .5 0 .6 0 .5 0 .6 0 .5 0 .5 0 .6 0 .5 0 .6 0 .5-.1.6 0 .5 0 .5 0 .6-.1.5 0 .6-.1.5 0 .6-.1.5-.2.5-.2.5-.4.3-.4.2-.4.1-.4.2-.4.1-.4.1-.3.1-.5.1-.4.1-.5.1-.6.1-.5.1-.6.1-.5.1-.6.1-.5.1-.5.1-.4.1-.5.6.4.1.5.1.4.1.4.1.3.1.5.2.4.5-.5.1-.5.1-.6.1-.4 0-.4.1-.4 0-.5.1-.5 0-.6.1-.6 0-.6.1-.7 0-.7.1-.7 0-.8.1-.8 0-.9.1-.8 0-.9.1-.9 0-.9.1-1 0-.9.1-1 0-.9.1-.9 0-.9.1-.9 0-.8.1-.8 0-.8.1-.7 0-.6.1-.5 0-.5.1-.3.1-.5.2.5 0 .4.1.4 0 .6.1.6 0 .7.1.8 0 .8.1.9 0 .9.1.9 0 1 .1.9 0 1 .1 1 0 .9.1 1 0 .9.1.9 0 .9.1.9 0 .9.1.8 0 .8 0 .7.1.8 0 .7.1.6 0 .7.1.6 0 .5.1.6 0 .5.1.4 0 .5.1.4 0 .4.1.3.1.7.1.5.1.5.1.4.1.5.2.4.2.3.2.4.4.4.6.3.5.2.6.2.5.1.5.1.6.1.5 0 .6.1.5 0 .6 0 .5.1.5 0 .6 0 .5 0 .6 0 .5 0 .6.1.5 0 .5 0 .6 0 .5 0 .6 0 .5 0 .6 0 .5 0 .5 0 .6 0 .5 0 .6 0 .5 0 .6 0 .5 0 .5 0 .6 0 .5 0 .6 0 .5 0 .6 0 .5 0 .6 0 .5 0 .5 0 .6 0 .5 0 .6 0 .5 0 .6 0 .5 0 .5 0 .6 0 .5 0 .6 0 .5 0 .6 0 .5 0 .5 0 .6 0 .5 0 .6 0 .5 0 .6 0 .5 0 .5 0 .6 0 .5 0 .6 0 .5 0 .6 0 .5-.1.5 0 .6 0 .5-.1.6-.2.5-.3.5-.4.4-.4.5-.3.5-.1.5.3.6.1.5-.3.3-.4.2-.4.2-.4.1-.4.2-.4.1-.4.2-.5.1-.3.2-.5.3-.4.5.4.2.5.1.4.2.5.1.4.2.4.1.5.2.3.1.4.2.4.3.4.3.4.4.3.6.3.5.1.5 0 .6.1.5 0 .6 0 .5.1.6 0 .5 0 .5 0 .6 0 .5 0 .6 0 .5 0 .6 0 .5 0 .6 0 .5 0 .5 0 .6 0 .5 0 .6 0 .5 0 .6-.1.5 0 .5-.1.6-.1.5-.3.6-.4.4-.4.5-.3.5-.3.5-.2.6-.4.4-.3.6-.3.5.3.3.3.3.4.2.4.3.4.3.3.4.4.5.3.6.2.5.1.6 0 .5 0 .6.1.5 0 .5 0 .6 0 .5 0 .6 0 .5 0 .6 0 .5 0 .5 0 .6 0 .5 0 .6 0 .5 0 .6 0 .5 0 .5 0 .6 0 .5 0 .6 0 .5 0 .6-.1.5 0 .6 0 .5-.1.5-.1.6-.3.4-.4.4-.4.3-.4.2-.4.3-.4.2-.4.3-.4.3-.4.5 0 .4.4.2.4.3.5.2.4.3.4.3.4.3.4.5.4.6.2.5.1.5.1.6 0 .5.1.6 0 .5 0 .6 0 .5 0 .5 0 .6 0 .5 0 .6 0 .5.1.6 0 .5 0 .5 0 .6 0 .5 0 .6 0 .5 0 .6 0 .5 0 .5 0 .6 0 .5 0 .6 0 .5 0 .6 0 .5 0 .6 0 .1 0" stroke="#000" stroke-width="1.35" fill="none" stroke-linejoin="round"/>
<path d="M44.7 488.4V493.1M91 488.4V493.1M92.4 488.4V493.1M127.4 488.4V493.1M129.2 488.4V493.1M160 488.4V493.1M187.2 488.4V493.1M189.4 488.4V493.1M212.9 488.4V493.1M214.8 488.4V493.1M216.3 488.4V493.1M261.7 488.4V493.1M266.2 488.4V493.1M280.3 488.4V493.1M282 488.4V493.1M283.7 488.4V493.1M286.9 488.4V493.1M289.2 488.4V493.1M307.4 488.4V493.1M309.2 488.4V493.1M311.1 488.4V493.1M326.9 488.4V493.1" stroke="#2f9a62" stroke-width="1.1" fill="none"/>
<path d="M120 488.4V493.1M182.7 488.4V493.1M234.1 488.4V493.1M278.5 488.4V493.1" stroke="#8fd0ac" stroke-width="1.1" fill="none"/>
<path d="M44.7 497.5V502.8M58.8 497.5V502.8M91.9 497.5V502.8M102.7 497.5V502.8M111.6 497.5V502.8M120.5 497.5V502.8M129.6 497.5V502.8M138.3 497.5V502.8M145.7 497.5V502.8M161 497.5V502.8M168.9 497.5V502.8M182.7 497.5V502.8M189.6 497.5V502.8M196.6 497.5V502.8M216.3 497.5V502.8M228.7 497.5V502.8M235.1 497.5V502.8M246.9 497.5V502.8M253.3 497.5V502.8M264.2 497.5V502.8M275.1 497.5V502.8M279 497.5V502.8M282 497.5V502.8M285 497.5V502.8M287.9 497.5V502.8M309.6 497.5V502.8M313.6 497.5V502.8M321.5 497.5V502.8M324.5 497.5V502.8" stroke="#2f9a62" stroke-width="1.1" fill="none"/>
<path d="M223.2 497.5V502.8M270.6 497.5V502.8M295.1 497.5V502.8M299.8 497.5V502.8M317.5 497.5V502.8M327.7 497.5V502.8" stroke="#8fd0ac" stroke-width="1.1" fill="none"/>
<path d="M33.1 526.9l.2-.7.3.5.2-.1.3-.3.2-.2.3.3.2.7.3-.3.2-.5.3.5.2.4.3.2.2-1.6.3 1 .2 0 .3-.6.2-.4.2 1.2.3-.7.2-.4.3.2.2.7.3.6.2-.5.3-.7.2.8.3-1.2.2 1.1.3 0 .2.3.3-.3.2.1.2-.5.3-.1.2.1.3.8.2-1 .3.2.2-.2.1.5 0-.1.1.7 0 .1.1-.4 0-.1.1-.3 0-.4.1.7 0 .1.1-.4 0 .7.1.3 0-.7.1.7 0-.2.1-.5 0 .1.1 0 0-.7.1-.3 0 .2.1-.7 0-.5.1-.8 0 .1.1.1 0-1.1.1-.3 0 .6.1.6 0 .3.1.4 0 2.2.1.1 0 .8.1 0 0 2.4.1-.4 0 1.6.1-.2 0-.1.1-.5 0 0 .1-1.2 0-.3.1-1.1 0-.6 0 .1.1-.8 0-1.3.1-.4 0 .1.1-.3 0 .2.1-.4 0-.2.1.9 0-.3.1.6 0-.5.1 1.2 0-.4.1.1 0 .2.1-.8 0 1 .1-.5 0-.2.1.6.2.6.3-1 .2.9.3-1.5.2 1 .3-.3.2.3.3.8.2-.6.3-.9.2 1.2.2-1 .3.2.2-.2.3.5.2-.1.3.7.2-.6.3.2.2-.4.3.6.2-.9.3-.2.2 1 .3-.1.2-.3.3.9.2-1.3.2 1 .3 0 .2-1.1.3.7.2.1.3-.3.2 0 .3 0 .2-.3.3-.2.2.8.3-.2.2-.1.3.2.2-.5.3.1.2.5.2-.3.3.2.2.3.3.2.2-1.1.3.2.2-.4.3.3.2.5.3-.4.2 1.1.3-1.1.2-.5.3.4.2 1.2.2-1.2.3.3.2-.3.3-.1.2.9.3-1 .2-.2.3.4.2 0 .3.5.2-.1.3.4.2-.6.3.3.2 0 .3.2.2-.9.2.4.3-1 .2.8.3-.2.2.2.3.9.2-.2.3-1 .2 1.3.3-.2.2-.4.3-.1.2 0 .3 0 .2.3.2-.4.3.5.2-.5.3-.2.2.2.3.2.2.1.3-.2.2-.6.3.1.2-.2.3.6 0 .4.1-.2 0 0 .1-.1 0 .1.1 0 0 .8.1-.8 0 .4.1.7 0-.1.1.6 0-.3.1.4 0-.1.1-.7 0 .5.1 0 0-1.2.1-.3 0-.4.1-.3 0-1.3.1 0 0-1.8 0 .2.1-1.6 0 0 .1-.5 0 .8.1.2 0-.5.1.3 0 2.5.1-.3 0 .1.1.8 0 .6.1 1.1 0-.2.1 0 0-.2.1.7 0-1 .1 1.2 0 0 .1-.6 0-.4.1.4 0 .2.1.8 0-.1.1-1 0 0 .1-.2 0 .7.1-.4 0 .5.1-.3 0-.2.1-.2 0-.2.1.8 0-.7.1.8 0-1 .1-.3 0 1 .1-.2 0 .6.1-.4 0 0 .1.5 0-.6.1.6 0 .9.1-.7 0-.3.1.6 0-.1.1.5 0 1 .1-.9 0 0 .1.7 0-.5.1-.1 0-.5.1-.2 0-.1.1-1 0-1.2.1-.7 0-1.1.1-.8 0 .1.1-.7 0-.4.1-.1 0-.4.1.5 0 .7.1 1.1 0 .1.1.6 0 .2 0 1.3.1-.1 0 .5.1.3 0-.3.1.6 0 .4.1-.8 0 .2.1-.1 0 .4.1.8 0-.7.1.3 0-.4.1-.2 0 .1.1.1 0-.2.1.1 0 .1.1-.3 0 .8.1-.4 0-.2.1-.2 0 .4.1-.5 0-.2.1.4 0 .6.1-.6 0 .2.1-.5.2.6.3-.4.2 0 .3-.1.2.3.3-.4.2.3.3 0 .2-.3.2-.4.3 1 .2-.7.3-.3.2.8.3 0 .2.5.3 0 .2-1.4.3.7.2.3.3-.6.2 1 .3-.3.2-.5.3.1.2.3.2.8.3-.1.2-1.4.3.9.2-.9.3.6.2-.4.3.3.2-.1.3.4.2-.5.3.6.2-.3.3-.3.2.9.3-.5.2-.2.2.2.3.2.2-.3.1-.1 0 .2.1-.1 0 .2.1 1 0 0 .1.6 0-.3.1 0 0 1.1.1.9 0 0 .1.7 0-.2.1.6 0-.6.1-.3 0-.5.1-1.4 0-1.3.1-1.2 0-.8.1-1.9 0-.9.1-1.6 0-1 .1-1.3 0-.1.1-.2 0-.6.1 2.3 0 1.3.1 1.3 0 1.8.1 2 0 3 .1 1.7 0 1.8.1 1.5 0 .7.1 1.5 0-.7.1-.2 0-.9.1-1.1 0-1.7.1-1 0-2.1.1-.3 0-2.7.1-.1 0-.3.1-1.9 0 .6.1 0 0-1 .1 1 0-.6.1.8 0 .2.1.1 0 .4 0 .5.1-.1 0 .9.1.2 0 .5.1-.2 0-.2.1 0 .2 1.1.3-1.6.2.1.3 1.4.2-.5.3-.3.2.1.3.2.2-1 .3.5.2.4.3 0 .2.2.3-.4.2-.2.2-.1.3.5.2-.3.3.2.2.4.3-.1.2-1 .3 1 .2-.9.3-.2.2 1.5.3-.7.2-.4.3.1.2.5.2.4.3-.2.2-.6.3-.4.2.4.3.5.2-.3.3-.7.2.6.3.2.2-.6.3.7.2.2.3-.2.2-.7.3.2.2.1.2-.1.3.5.2-.3.3-.1.2.2.3-.3.2-.4.3.6.2-.2.3.4.2-.2.3-.2.2.6.3-.5.2-.5.3 1.2.2-.2.2-.5.3-.6.2.2.3.8.2-.4.3-.1.2.3.3-.4.2 0 .3.7.2-.3.3.1.2 0 .3.2.2-.1.2-.7.3.3.2.7.3-.6.2.6.3-.8.2-.4.3.6.2-.3.3 0 .2 0 .3-.6.2 1.1.3-.3.2-.3.3-.3.2.9.2-.2.3.2.2-.1.3.1.2-.3.3-.5.2.6.3.3.2-.9.3.4.2.7.3-1 .2 1 .3-.9.2-.3.2.4.3 0 .2.6.3-1.2.2.4.3 0 .2 0 .3.4.2-.2.3.2.2-.1.3.5.2-.7.3.3.2.3.3-.1.2-.2.2.3.3-.1.2 0 .3-.2.2.4.3 0 .2-.6.3.4 0 0 .1.1 0-.5.1-.1 0 .4.1.6 0-.7.1.9 0-.3.1.2 0 .2.1-.1 0 .1.1.4 0 .3.1-.6 0-.1.1-.8 0-.1.1-.1 0-.6.1-1.2 0-.7.1-1 0-.9.1-.2 0-.9.1.4 0-1.5.1.4 0 .7.1 1.3 0 .9.1.9 0 .2.1 2.5 0 .3.1 2.1 0 .3.1.1 0 .5 0 .7.1-.9 0-.7.1-1 0 .4.1-.8 0 .3.1-.9 0-.1.1-1 0-.4.1.5 0-.6.1-.3 0 .3.1.4 0-.5.1 1.1 0-.5.1-.5 0 .1.1.5 0 0 .1 0 0 .2.1.2 0-.2.1-.1 0-.6.3 1.4.2-.6.3.2.2-.1.3.4.2-.5.3.5.2-.7.3.1.2.3.2 0 .3.3.2-.7.3.4.2-.4.3-.4.2 1 .3-.4.2-.4.3.1.2.5.3-.2.2 0 .3.3.2-.3.3-.7.2 1 .2-.5.3.1.2-.9.3-.3.2 1.3.3-.2.2.2.3.1.2.2.3.2.2 0 .3-.9.2.1.3.3.2.6.2-.2.3-.6.2-.3.3.6.2-.2.3.4.2 0 .3-.2.2-.4.3-.2.2.4.3.3.2-.2.3.3.2-.5.3.6.2-.3.2-.2.3-.2.2.3.3 0 .2.6.3-.6.2.3.3-1.1.2 1.2.3-.4.2-.4.3-.5.2.6.3 1 .2-.4.3 0 .2-.5.2.5.3 0 .2-.2.3-.5.2.2.3.1.2 1.3.3-2 .2 1.5.3-.1.2-.5.3.2.2-.1.3 0 .2-.4.2-.6.3 1.9.2-.4.3-1.2.2 1 .3-.7.2.4.3-.6.2 0 .3 1.1.2-.9.3.2.2.3.3.3.2-.8.3.4.2.1.2-.5.3 0 .2.4.3-.2 0 .7.1-1.4 0 1 .1-.2 0-.4.1.6 0-.4.1.5 0 .8.1-.6 0 .7.1.1 0-.2.1.2 0 .2.1-.1 0-.5.1-.1 0 .1.1-1.1 0-.5.1 0 0-.4.1-1.6 0 .4.1.1 0-.5.1-.6 0 .4.1-.5 0 1.4.1.7 0 1.2.1.7 0 1.6.1.8 0 1.9.1.9 0-.1.1.7 0 1.1.1 0 0-.3.1-1.5 0-.7.1-1.3 0-1.3.1-1 0-.5.1-1.7 0 .1.1-2 0-.1.1 0 0-.2.1-.2 0-.5.1.8 0 1 0 .1.1.4 0 .3.1.1 0 .3.1 0 0 .9.1-.3 0 .1.1-.1 0-.1.3-.5.2.6.3-.3.2.1.3.3.2.4.3-.9.2.4.3.7.2-1.2.3.7.2-.4.3.5.2.3.2-.6.3.4.2-.3.3.7.2-2.1.3 1 .2.3.3.1.2.6.3-.2.2-.6.3-.4.2 1 .3-.4.2-.2.3.5.2.3.2-.5.3.4.2-1.3.3 1.1.2.6.3-.5.2-.7.3-.2.2.6.3-.5.2.1.3-.5.2.3.3.7.2-.6.2 0 .3-.2.2.5.3.2.2-.1.3-1.2.2 1.1.3-.4.2.4.3-.4.2.9.3.3.2-.4.3.3.2-.6.3-.2.2-.7.2.6.3 0 .2.8.3-1 .2.4.3.3.2-.3.3 0 .2.4.3-.7.2.3.3.1.2.6.3-.1.2-.4.3.2.2-1.2.2.9.3-.3.2-.4.3.9.2-.5.3-.1.2-.4.3.8.2.4.3-.4.2.2.3.1.2-.4.3-.2.2 0 .2.1.3-.1.2.2.3-.2.2.6.1-.7 0 1 .1-.8 0 0 .1.5 0-.5.1-.4 0 1.2.1.3 0-1.2.1 1.1 0-.4.1.2 0 .8.1-1.2 0 .3.1.6 0-.6.1-.1 0-.7.1-.4 0-.3.1 0 0-.7.1 0 0 .6.1-2 0 .7.1-.1 0-.1.1.8 0 .1.1.5 0 1.4.1 1.5 0 .1.1 1.2 0 .3.1.6 0 .1.1.7 0 .2.1-1.2 0-.5.1.3 0-1.1.1-1.1 0 .3.1-1 0-.6.1-.3 0-.6.1 1.1 0-2.1.1.5 0 .4.1 0 0-.5 0 .4.1.3 0 .7.1.2 0 .1.1-.5 0 .6.1-.3 0-.3.1 0 0 .5.1-.2.2-.3.3-.2.2 0 .3 1 .2-.7.3.2.2.5.3 0 .2-.2.3-.2.2-.4.3.2.2.1.2.2.3-.5.2.5.3.1.2-.2.3-.7.2-.2.3 1 .2-1 .3.8.2 1 .3-1.1.2-.5.3.9.2-.6.3.2.2-.7.2.4.3.8.2-.6.3-.2.2.3.3.1.2.3.3-.1.2.1.3-.9.2.4.3-.7.2 1.4.3-.8.2 0 .3.9.2-.4.2-.4.3 0 .2-.1.3.5.2.9.3-1.8.2 1.2.3-.1.2-.7.3.3.2 0 .3-.4.2.1.3.8.2-.4.2-.3.3-.2.2.3.3 0 .2.3.3.3.2-.6.3-.3.2.5.3-.1.2-.3.3.5.2-.3.3.2.2-.2.3.2.2.1.2-.7.3.8.2-.4.3-.6.2.5.3.6.2.1.3-.8.2.3.3-.6.2.7.1-1 0 .2.1.9 0 .1.1-.3 0 .6.1.6 0-.5.1.6 0-.3.1.1 0 1.5.1-.5 0-.1.1-.5 0 .8.1-.1 0-.2.1-1.1 0-.1.1-1.1 0-1.1.1-.5 0-1 0-.8.1-.6 0 .1.1-.6 0-.4.1.4 0 .5.1.6 0 .9.1.5 0 1.8.1-.1 0 1.1.1.4 0 1 .1.3 0 .5.1-.6 0 .5.1-1 0 .8.1-1.1 0 .3.1-.3 0-1.4.1.9 0-1 .1-1.2 0 .9.1-.1 0 .7.1-1.4 0-.3.1 1.4 0 .1.1.1 0 .7.1 1 0-.5.1.5 0-.6.1-.3 0 .2.1.7 0-.6.1-.6 0-1 .1-.3 0-.5.1-1.5 0-.1.1.4 0-1.7.1.4 0-.4.1.2 0 .9.1-.3 0 1.3.1.3 0 1.2.1-.1 0 1.4.1.1 0 .2.1.2 0-.3.1 1.2 0-.8.1.7 0 .2.1-1.9 0 .5.1-.6 0 .1.1-.1 0-.9.1.8 0-.6.1.7 0-.7 0 .1.1-.1 0 1.2.1-1.3 0-.7.1 1.4 0-.3.1.3 0 .2.1.2 0-.5.1.1 0 .2.1.2 0-1.2.3 1.4.2-1.2.3.5.2.4.3-.7.2 0 .3.8.2 0 .3-1.2.2.6.3.2.2.4.3-.4.2.2.2-.2.3.1.2.8.3-.8.2-.1.3-.8.2.2.3-.2.2.6.3-.1.2-.2.3.6.2-.9.3.7.2-.2.2-.2.3-.1.2.2.3.5.2.1.3-1 .2.6.3-.3.2.7.3.1.2-.1.3-.2.2.1.3-1 .2.9.3-.1.2-.2.2-.2.3-.2.2.2.3.1.2-.9.3 1.1.2.1.3.6.2 0 .3-.5.2-.2.3 0 .2.4.3 0 .2-1 .2.9.3-.5.2.2.3-.1.2.3.3-.6.2.4.3-.6.2 1 .3 0 .2-.5.3.1.2-.2.3.5.2-.1.3-.4.2.1.2.2.3-.4.2.4.3.1.2.8.3-.8.2-.4.3.7.2-.3.3-.3.2.5.3-.6.2.8.3-.3.2-.4.3.1.2.9.2-1 .3 0 .2.4.3-.2.2-.1.3.3.2-1.1.3.9.2.5.3 0 .2-.9.3.3.2.4.3-.5.2.3.2 0 .3-.9.2 1 .3-.3.2 0 .3-.1.2-.7.3.8.2.4.3.2.2-.5.3-.1.2-.1.3.6.2.4.3-.9.2-1 .2 1.1.3.5.2-1.1.3.2.2-.3.3.7.2.9.3-.6.2-1 .3.1.2.7.3-.3.2-.6.3.8.2-.4.2.5.3 0 .2-.1.3-.5.2.1.3.2.2-.1.3.6.2.1.3-.4.2.3.3.2.2-1 .3.2.2 1 .3-.9.2-.1.2.2.3.2.2-.8.3.6.2.4.3-.6.2 0 .3.6.2-.7.3-.2.2.4.3.4.2-.4.3-1 .2.8.3.4.2.6.2-.7.3 1 .2-1.4.3.2.2.2.3.3.2-.4.3.4.2-.4.3.3.2 0 .3-.1.2 0 .3-.2.2-.2.2 1.5.3-1.6.2 1 .3-.2.2-.4.3 0 .2-.3.3.4.2-.5.3.4.2.8.3-.3.2-1 .3.6.2-.2.3-.4.2 1 .2-1.2.3.9.2.6.3-.1.2-1.2.3.4.2.1.3 0 .2.4.3-.1.2.5.3-1 .2.4.3.3.2-.3.2-.9.3.8.2 0 .3 0 .2-.4.3.6.2-.2.3-.4.2.5.3-.2.2-.2.3 0 .2-.2.3.4.2-.2.3.7.2-.5.2.3.3-.6.2.1.3.2.2.3.3.1.2-.3.3 0 .2.1.3.1.2.1.3-1.1.2 1.1.3-.4.2.1.3-.4.2.6.2.2.3 0 .2-.7.3-.4.2 1.1.3-.6.2-.6.3 1.1.2-1.2.3 1.2.2-.6.3 1 .2-.8.3-.2.2.3.2-.4.3.1.2.4.3-.2.2-.5.3.3.2.9.3-1.2.2.7.3.8.2-1.3.3.6.2-.3.3-.4.2.7.3 0 .2-.3.2-.3.3.7.2-.2.3-.3.2-.2.3.2.2-.1.3 0 .2.7.3-.5.2.6.3-.1.2-.1.3-.2.2-.2.3 0 .2.8.2-.3.3-.6.2.4.3-.5.2.2.3-.4.2 0 .3 0 .2.6.3.3.2-.5.3.2.2-.3.3-.1.2.3.2-.6.3.9.2-.1.3-.1.2-.2.3-.2.2.8.3-.7.2-.1.3-.2.2.1.3.2.2 0 .3.4.2-.5.3-.1.2.5.2-.5.3 1 .2-1.2.3.4.2-.2.3.4.2.4.3-.7.2-.4.3.7.2-.1.3.3.2-.6.3 0 .2 0 .2.1.3.2.2.6.3-.4.2-.3.3-.5.2 1.2.3-.3.2.3.3-1.7.2 2.1.3-1.4.2 0 .3.1.2.1.3.8.2-1.5.2 1.1.3.3.2 0 .3-.2.2.1.3-.5.2-.2.3 0 .2-.4.3 1.1.2-.4.3.1.2.5.3 0 .2-.4.3-.5.2-.4.2 1.1.3-1.1.2.6.3 0 .2-.2.3.3.2.4.3.2.2-.8.3-.3.2.4.3-.3.2 0 .3.5.2.3.2-.3.3 0 .2.4.3-.3.2-.7.3.3.2 0 .3.8.2-1.1.3.4.2-1 .3.9.2-.2.3 0 .2.6.3-.6.2.9.2-.5.3-.1.2-.4.3 1.2.2-.7.3.7.2.3.3-1 .2.3.3.3.2-.6.3-.7.2 1.1.3-.6.2-.3.2.3.3.8.2-1 .3.2.2-.2.3.9.2-.2.3.4.2-.3.3-.2.2.4.3-.1.2-.4.3.2.2.5.3-.5.2-.9" stroke="#1f5fcf" stroke-width="1.5" fill="none" stroke-linejoin="round"/>
</g>
<rect x="33" y="308" width="296" height="238" fill="none" stroke="#000" stroke-width="2"/>
<path d="M33.1 546.5V552.3M57.8 546.5V549.8M82.5 546.5V552.3M107.2 546.5V549.8M131.9 546.5V552.3M156.6 546.5V549.8M181.2 546.5V552.3M205.9 546.5V549.8M230.6 546.5V552.3M255.3 546.5V549.8M280 546.5V552.3M304.7 546.5V549.8M329.4 546.5V552.3" stroke="#000" stroke-width="1.8" fill="none"/>
<text x="33.1" y="569.5" text-anchor="middle" class="tl" style="font-size:18.7px">20</text>
<text x="82.5" y="569.5" text-anchor="middle" class="tl" style="font-size:18.7px">30</text>
<text x="131.9" y="569.5" text-anchor="middle" class="tl" style="font-size:18.7px">40</text>
<text x="181.2" y="569.5" text-anchor="middle" class="tl" style="font-size:18.7px">50</text>
<text x="230.6" y="569.5" text-anchor="middle" class="tl" style="font-size:18.7px">60</text>
<text x="280" y="569.5" text-anchor="middle" class="tl" style="font-size:18.7px">70</text>
<text x="329.4" y="569.5" text-anchor="middle" class="tl" style="font-size:18.7px">80</text>
<text x="127" y="592.7" class="xt" style="font-size:23.5px">2<tspan class="th">θ</tspan> (Degrees)</text>
<text transform="translate(22.6 428.6) rotate(-90)" text-anchor="middle" class="yt" style="font-size:23.0px">Intensity (a.u)</text>
<text x="109.3" y="352.7" class="pl" style="font-size:43.5px">(c)</text>
<circle cx="210.7" cy="326.1" r="2.5" fill="#f2000a"/>
<path d="M197.9 343.9H223.5" stroke="#000" stroke-width="1.5"/>
<path d="M197.9 361.7H223.5" stroke="#5b8fd6" stroke-width="1.5"/>
<path d="M210.7 376.9V382.1" stroke="#8fd0ac" stroke-width="0.9"/>
<text x="226.3" y="329.6" class="lg" style="font-size:11.5px">Y<tspan style="font-size:7.1px" dy="4">obs</tspan></text>
<text x="226.3" y="347.4" class="lg" style="font-size:11.5px">Y<tspan style="font-size:7.1px" dy="4">cal</tspan></text>
<text x="226.3" y="365.2" class="lg" style="font-size:11.5px">Y<tspan style="font-size:7.1px" dy="4">obs</tspan><tspan dy="-4">-Y</tspan><tspan style="font-size:7.1px" dy="4">cal</tspan></text>
<text x="226.3" y="383" class="lg" style="font-size:11.5px">Bragg position</text>
<clipPath id="clipd"><rect x="377.1" y="310.4" width="293.2" height="236"/></clipPath>
<g clip-path="url(#clipd)">
<path d="M377.2 483.5h0m.1-.9h0m.3-.9h0m.1 1.2h0m.2.8h0m.1-.6h0m.5-.4h0m.1 1.7h0m.2-1.7h0m.1.6h0m.2 1.1h0m.1-1.4h0m.6-1h0m.1.8h0m.2 1.1h0m.1-.7h0m.8.1h0m.1-1.1h0m.2 1.1h0m.1-.6h0m.2.7h0m.2-.9h0m.5 1h0m.4-1.1h0m.2 1.4h0m.1-1h0m.2.8h0m.3-1.3h0m.1.7h0m.4.6h0m.5-1.5h0m.1.7h0m.5-.5h0m.1.6h0m.3-1.3h0m.3 1h0m.2-1h0m.2.9h0m.3-.9h0m.3-.6h0m.3-.6h0m.5-1.9h0m.1-1h0m.2-2.2h0m.1-4.8h0m.1-5.9h0m.2-11.6h0m.1-19.9h0m.2-21h0m.1-22.4h0m.2-7h0m.1 10h0m.2 19.9h0m.1 20.9h0m.2 19.4h0m.1 10.8h0m.2 7.1h0m.1 4.7h0m.2 3.2h0m.2.8h0m.3.8h0m.3 1.3h0m.6.3h0m.2.8h0m.3-.6h0m.3.6h0m.4.7h0m.1-1.1h0m.5.9h0m.1-1h0m.3 1h0m.2-.7h0m.3.8h0m.4-.6h0m.1.6h0m.5.5h0m.1-1.1h0m.5.8h0m.1-.7h0m.5.8h0m.1-.8h0m.4.5h0m.2-.6h0m.3-.6h0m.1.9h0m.6.4h0m.2-.9h0m.1.8h0m.2-1.1h0m.3 1.3h0m.2-1.5h0m.2 1.3h0m.3-.7h0m.4 1h0m.2-1.5h0m.3.6h0m.1-.9h0m.2 1.6h0m.3-1.1h0m.5-.4h0m.2.8h0m.1-1.2h0m.2 1.3h0m.1-.6h0m.2 1.1h0m.1-2.5h0m.2.9h0m.1-.7h0m.2.6h0m.4-.7h0m.3 1.1h0m.1.7h0m.3-.5h0m.5-.6h0m.3 1.6h0m.1-.7h0m.4 1h0m.3-1h0m.5 1.1h0m.3-.8h0m.1 1.3h0m.2-1.1h0m.1-.6h0m.3.5h0m.6.7h0m.1-.6h0m.3.8h0m.2-.6h0m.6.9h0m.1-1.3h0m.7.5h0m.5-.8h0m.6 1.1h0m.3-.7h0m.1.8h0m.6-.9h0m.4-.5h0m.3 1h0m.3-1h0m.2 1.7h0m.1-1.8h0m.2.8h0m.4-.9h0m.4.9h0m.3-.7h0m.3.5h0m.2-1h0m.3-1.6h0m.1.6h0m.2-1.6h0m.1 1h0m.2-1h0m.1-1.1h0m.1-.6h0m.6-.2h0m.5.6h0m.1.7h0m.2 1.1h0m.3-.6h0m.1 1.7h0m.3-.8h0m.1 1h0m.2-1h0m.4 1.1h0m.2-1.2h0m.3-.6h0m.1-.6h0m.5.8h0m.1-2.2h0m.2 1.6h0m.1-.6h0m.1-1.6h0m.2 2.1h0m.1.8h0m.6-1h0m.2 1.9h0m.4.9h0m.3 1.7h0m.2-1.9h0m.4.9h0m.6.9h0m.4-.5h0m.2-.8h0m.1.8h0m.3.6h0m.2-.8h0m.4-.5h0m.1.6h0m.2.7h0m.1-.8h0m.8.5h0m.6-.8h0m.2 1.6h0m.3-1.2h0m.3.7h0m.3-.9h0m.2-.6h0m.3.6h0m.1.9h0m.3-1h0m.3.8h0m.3-1.3h0m.1.7h0m.3-.5h0m.6-1h0m.2.8h0m.5-.2h0m.3.8h0m.2-1.5h0m.3.5h0m.1-1h0m.2-1.1h0m.6-.9h0m.4-1.1h0m.1-1.6h0m.3-1.8h0m.2-1.4h0m.1-6h0m.2-4.6h0m.1-5.5h0m.2-11.7h0m.1-10.1h0m.2-13.4h0m.1-14.5h0m.2-14.9h0m.1-10.5h0m.2-9.7h0m.1-3.1h0m.1-7.6h0m.2-7.4h0m.1-10.6h0m.2-10.8h0m.1-7.8h0m.3 9.6h0m.2 18.6h0m.1 21.2h0m.2 22.5h0m.1 20.5h0m.2 16.6h0m.1 12.7h0m.2 10.2h0m.1 7.9h0m.1 4.3h0m.2 2.4h0m.1 2.7h0m.2 1.5h0m.1 2.9h0m.2-2.4h0m.1 2.2h0m.3 1.8h0m.2-.6h0m.1.8h0m.3.8h0m.2-2.1h0m.1 1.4h0m.1 1h0m.2-.7h0m.1 1.3h0m.3-.8h0m.2.6h0m.1.8h0m.2.8h0m.4-1.4h0m.2.6h0m.4.5h0m.4 1.1h0m.2-1.3h0m.1 1.2h0m.2-1.2h0m.6 1.2h0m.1-.8h0m.2-1.1h0m.1 1.9h0m.2-1.3h0m.4-.4h0m.1 1.8h0m.3-.9h0m.8-.6h0m.4 1.9h0m.1-1.8h0m.2 1.4h0m.3-.5h0m.3.8h0m.3-.9h0m.4 1h0m.2-1.4h0m.3 1.1h0m.1-1.3h0m.1.6h0m.2.7h0m.1-.8h0m.3-.6h0m.2 1h0m.1-.8h0m.3.8h0m.8.3h0m.2-1.6h0m.2 1.6h0m.3-.7h0m.3.8h0m.1-.8h0m.5 1.4h0m.1-1.5h0m.2-.9h0m.1 1.2h0m.3-.8h0m.1.9h0m.6.5h0m.3-.5h0m.3.8h0m.3-1.6h0m.2.8h0m.3.6h0m.1-.7h0m.1.6h0m.2-.6h0m.7.2h0m.3-.7h0m.3.6h0m.6.8h0m.1-1.6h0m.2 1.7h0m.1-2.1h0m.3 1.3h0m.2-.7h0m.6-.2h0m.3.9h0m.5.4h0m.2-1.7h0m.1 1.1h0m.2.6h0m.7-.6h0m.2-1.1h0m.1.8h0m.3 1.1h0m.1-1h0m.3.5h0m.2-.8h0m.3.7h0m.4-1.2h0m.3.8h0m.2.7h0m.1-.9h0m.4.6h0m.2-1.1h0m.1.9h0m.5-.6h0m.3 1.1h0m.1-.9h0m.3-1.2h0m.2 1.6h0m.1-.6h0m.7-.5h0m.2 1.8h0m.1-.7h0m.6-.2h0m.3.8h0m.2-2.5h0m.1.9h0m.2-.6h0m.2-1.9h0m.3 1.1h0m.2-2.1h0m.3-1.5h0m.3-2.4h0m.3-1.4h0m.1 1.4h0m.2-1.6h0m.1 2h0m.3.7h0m.1 1.6h0m.2-1.2h0m.3-.8h0m.1-.8h0m.2-3h0m.1-.7h0m.2-4.7h0m.1-4.6h0m.2-4.8h0m.1-4.2h0m.2-3.8h0m.1-3.2h0m.2-3.2h0m.1-.9h0m.1 2.3h0m.2 1.4h0m.1 7.7h0m.2 4.5h0m.1 3.7h0m.2 5.2h0m.1 2.1h0m.2 5.6h0m.1.8h0m.2 1.7h0m.1 3.3h0m.2-1.1h0m.1 1.7h0m.4.8h0m.3 1.5h0m.3-.9h0m.2 1.8h0m.1-1.3h0m.6 1.1h0m.2-1.2h0m.2 1.2h0m.2-1.1h0m.6.7h0m.1-1.3h0m.2 1.2h0m.3.8h0m.6-.1h0m.2-1.3h0m.6.6h0m.5.5h0m.6-.3h0m.4-.5h0m.1.9h0m.6-1h0m.3.8h0m.5-.6h0m.4 1.2h0m.2-.9h0m.5.8h0m.3-1h0m.8.9h0m.1-.7h0m.5.5h0m.5-.2h0m.2.6h0m.1-1.3h0m.6.6h0m.2 1h0m.1-.9h0m.3-1h0m.2 1h0m.1-.7h0m.1.7h0m.5.4h0m.1-.9h0m.5.4h0m.3-1.1h0m.1.9h0m.3 1h0m.1-2.1h0m.2 1.3h0m.3.9h0m.3-1h0m.1.8h0m.2-.8h0m.6.8h0m.1-1.6h0m.3 1.3h0m.4-.6h0m.8.2h0m.4.7h0m.3-1h0m.4-.7h0m.6.9h0m.2-1.7h0m.1 2.3h0m.3-.9h0m.3.5h0m.5-.5h0m.2-.6h0m.2.6h0m.3-.6h0m.1 1.3h0m.3-.9h0m.2.9h0m.1-1.6h0m.3 1h0m.6-1.1h0m.1 1.1h0m.6-1.1h0m.2.9h0m.4-.9h0m.3.7h0m.2-.6h0m.5-.3h0m.2-.7h0m.1.8h0m.2-2.1h0m.4-2.5h0m.2-.8h0m.3-2.9h0m.1-3.2h0m.3-4.6h0m.2-3.4h0m.1-1.7h0m.1-6.7h0m.2-2.1h0m.1-2.8h0m.2.8h0m.1-2.3h0m.2 4.3h0m.3 3.1h0m.1 4h0m.2 2.2h0m.1 2.7h0m.2 3.5h0m.1 3.3h0m.1 1.6h0m.2 2.9h0m.1 1h0m.2 1.6h0m.1 1.2h0m.2 1.9h0m.1 1h0m.3-.8h0m.3 1.3h0m.5-.5h0m.1.6h0m.3.6h0m.4-.6h0m.2 1.2h0m.1-.8h0m.5.5h0m.3-.6h0m.3.6h0m.1-2h0m.1 1.7h0m.8-.5h0m.4.7h0m.6-.3h0m.4.9h0m.2-.6h0m.1.8h0m.2-1h0m.3.6h0m.1-1h0m.2.8h0m.7.5h0m.2-.7h0m.1-.9h0m.1.8h0m.2.6h0m.6-.9h0m.1 1.3h0m.2-1.1h0m.3-.9h0m.1 2.2h0m.2-1h0m.1-.9h0m.2 1.3h0m.2-1.3h0m.2 1.3h0m.6-.6h0m.1 1.3h0m.2-1.2h0m.3.7h0m.1-1h0m.3.8h0m.2-.9h0m.2.6h0m.6-.8h0m.2 1h0m.1-.9h0m.2.8h0m.1-.9h0m.2.9h0m.3-.5h0m.4.6h0m.1-.8h0m.8-.2h0m.1.7h0m.5-1h0m.1.6h0m.2 1h0m.2-.9h0m.5.6h0m.4-.4h0m.5.8h0m.1-1.3h0m.2.7h0m.1-1h0m.6 1.3h0m.4-.8h0m.3-.6h0m.6-.6h0m.3 1.9h0m.2-1.1h0m.5.3h0m.3-.6h0m.2-1.3h0m.3.8h0m.4-.7h0m.2 1.1h0m.1-.9h0m.2-1.9h0m.1.6h0m.1-1h0m.2-1.3h0m.1-1.2h0m.2-.8h0m.3-3.8h0m.1-1.3h0m.2-1.7h0m.1-3.1h0m.3-2h0m.5 1.5h0m.1-1.3h0m.1.9h0m.2 2.1h0m.1 2.4h0m.3.9h0m.2.9h0m.6-.3h0m.4-1.8h0m.4-.8h0m.3-.6h0m.2 3.5h0m.1-1h0m.2 1.1h0m.1.7h0m.2 2.3h0m.1 1.7h0m.3 1.3h0m.2.8h0m.1 2.5h0m.3-.6h0m.1.9h0m.2.9h0m.6.1h0m.3 1.3h0m.3-.9h0m.5-.2h0m.2.9h0m.6-.6h0m.1.7h0m.5-1.3h0m.4 1.1h0m.2-.8h0m.1-1.1h0m.3.7h0m.1-1.4h0m.3.7h0m.5.7h0m.3-1h0m.1 1.8h0m.3-.9h0m.4 1.7h0m.2-.9h0m.1.5h0m.3.6h0m.3-.7h0m.3.7h0m.2-.7h0m.4 1h0m.2-1h0m.1.8h0m.6-.9h0m.7 1.7h0m.2-1.1h0m.4.8h0m.2-1h0m.4-.7h0m.3.9h0m.1-.7h0m.3 1.6h0m.2-1.2h0m.1 1.2h0m.2-.9h0m.1-.8h0m.2.9h0m.4-.7h0m.3.8h0m.4-.7h0m.5.7h0m.4-.7h0m.2-1.4h0m.1.7h0m.1.7h0m.2-1h0m.1 2h0m.2-1.6h0m.1.7h0m.5-1.2h0m.3 1.3h0m.1-1h0m.3-2h0m.2 1.5h0m.2-1.1h0m.2-1.5h0m.4-1h0m.2-1.3h0m.1.8h0m.2-.9h0m.1-1.9h0m.2.6h0m.1-2.9h0m.3 1.2h0m.2-1.1h0m.1-.7h0m.1.7h0m.6 1.7h0m.3 1.4h0m.3.7h0m.2.6h0m.1-1.2h0m.2 1.5h0m.1-2.3h0m.2-.7h0m.1-1h0m.1-1.8h0m.2-2h0m.1-1.7h0m.2-1.5h0m.1-3.1h0m.2-.6h0m.1-4.8h0m.2-3.4h0m.1-3.4h0m.2-2.1h0m.1-3.2h0m.2-2.1h0m.1-1.1h0m.3-2.4h0m.1 2.6h0m.2 1.2h0m.1 2.6h0m.2 1.9h0m.1 4.2h0m.2 3h0m.1 2.7h0m.2 1.7h0m.1 3.9h0m.2.7h0m.1 1.5h0m.2 3.8h0m.1.6h0m.3 1.8h0m.1 1.6h0m.2 1.6h0m.4.7h0m.3 1.9h0m.3 1.6h0m.3 1.2h0m.6.4h0m.1 1.3h0m.2-1.2h0m.3.6h0m.1.7h0m.2-.9h0m.1 1.5h0m.2-1.3h0m.3.7h0m.4.6h0m.7 1.1h0m.2-1.2h0m.6-.2h0m.4.7h0m.2-.6h0m.1.6h0m.4-1h0m.3 1h0m.3-.6h0m.2-.8h0m.1 1.7h0m.3-.9h0m.2 1h0m.3-.9h0m.2.6h0m.6.7h0m.2-1.2h0m.6.2h0m.4.6h0m.3-.8h0m.7.5h0m.5-.7h0m.1.9h0m.2-.9h0m.1-.7h0m.2 1.1h0m.1.6h0m.2-.6h0m.1-.8h0m.1.6h0m.2.8h0m.3-.7h0m.6.8h0m.4-1.5h0m.2.8h0m.3.8h0m.2-1.2h0m.2 1.8h0m.1-1.5h0m.5-.4h0m.6.2h0m.3.7h0m.1-.7h0m.3.6h0m.4-.7h0m.6.2h0m.6.6h0m.4-.6h0m.3.7h0m.2-.8h0m.1 1h0m.2-1.5h0m.3 1.1h0m.1-.8h0m.2 1h0m.1-.6h0m.5.7h0m.2-.6h0m.6-.4h0m.3 2h0m.2-.8h0m.3-.8h0m.3-.6h0m.1.6h0m.7.1h0m.2.7h0m.3-.5h0m.1.9h0m.2-1.2h0m.1.7h0m.3-.5h0m.5.7h0m.1-1.4h0m.1.8h0m.6.6h0m.2-.8h0m.6.4h0m.6.2h0m.1-.8h0m.4 1h0m.5-.8h0m.6-.5h0m.4 1.3h0m.2-.7h0m.4.6h0m.6-1.2h0m.1.6h0m.3-.5h0m.5.4h0m.4.4h0m.1-.9h0m.3-.7h0m.2.7h0m.3 1.3h0m.3-1.7h0m.1.7h0m.3.9h0m.3-.9h0m.3.7h0m.1-.8h0m.2.7h0m.4-1.2h0m.2.7h0m.1-1.1h0m.2 1.3h0m.4.6h0m.2-1.6h0m.1 1.6h0m.1-1h0m.2.7h0m.3-.6h0m.4.8h0m.2-.7h0m.6.2h0m.1-.7h0m.6.5h0m.6 1h0m.1-1.5h0m.2-1.4h0m.1 1.6h0m.2-.8h0m.1-.6h0m.2 1.3h0m.3-1.1h0m.5-1.1h0m.2 1.2h0m.1-.8h0m.3.6h0m.2-1.2h0m.4-1.8h0m.2 1.8h0m.4.9h0m.1-1.1h0m.2.6h0m.4-1.7h0m.2.6h0m.3.7h0m.1-1.6h0m.5-2.2h0m.5.1h0m.2-1.8h0m.1-1.2h0m.2.8h0m.1-1.2h0m.2 2.2h0m.1-1.1h0m.3 2.4h0m.2-.7h0m.1-.7h0m.2 1.8h0m.4.8h0m.3 2h0m.4 1.5h0m.8.7h0m.3.7h0m.2-.8h0m.3-.5h0m.2 1.1h0m.3 1.2h0m.1-.8h0m.3-1.1h0m.2 1.7h0m.4-.9h0m.6.3h0m.1.8h0m.2-1.5h0m.1.6h0m.3.9h0m.2-1.3h0m.4.7h0m.6-1h0m.1 1.4h0m.3-1.1h0m.6 1.5h0m.3-1.4h0m.2 1.5h0m.1-.7h0m.3-.6h0m.4 1.8h0m.2-1.9h0m.3.9h0m.3-.8h0m.1 1.7h0m.2-1.4h0m.6.4h0m.4-.5h0m.1.9h0m.2-.8h0m.4.7h0m.2-.8h0m.7.5h0m.3-1.6h0m.2 2h0m.2-1.3h0m.2 1.3h0m.1-1.4h0m.2 1.3h0m.1-1h0m.5.6h0m.1-1h0m.2 1.4h0m.3-.7h0m.4.8h0m.4-1.6h0m.3-.8h0m.2 1h0m.1-.7h0m.3.7h0m.2-.7h0m.3-1h0m.4-1.3h0m.3.9h0m.1-1.4h0m.2 1.3h0m.1-1.1h0m.2 1.1h0m.1-1.2h0m.2 1.4h0m.1-2.3h0m.2 1.9h0m.1-1.9h0m.2 1.8h0m.1-1.1h0m.1-1.4h0m.2 1.7h0m.1-1h0m.5.7h0m.1-.9h0m.2.7h0m.1-1.1h0m.3 1.3h0m.2.7h0m.1-.6h0m.3.8h0m.4 2.5h0m.2-1.9h0m.3.8h0m.6.8h0m.6.6h0m.2-.5h0m.2 2h0m.1-.7h0m.5-1.2h0m.1 1.9h0m.2-1.9h0m.3 1h0m.6-.1h0m.1.9h0m.1-1.6h0m.2 1h0m.3.8h0m.3-1.8h0m.1 1.1h0m.6.3h0m.2-.8h0m.2.8h0m.5-1.3h0m.1 1h0m.6-.4h0m.6.5h0m.3-1h0m.6 1.2h0m.1-.9h0m.3-.7h0m.2 1h0m.6.5h0m.3-1.3h0m.1.9h0m.4-.5h0m.3.7h0m.6.3h0m.6-.2h0m.3-.7h0m.1-.6h0m.3 1.2h0m.5.4h0m.4-1.2h0m.3.7h0m.6.6h0m.3-.7h0m.1.6h0m.5-1.3h0m.4.6h0m.2-.8h0m.4 1.9h0m.2-1.4h0m.1-.6h0m.3.7h0m.4.4h0m.2-.7h0m.1-1.1h0m.2 1.1h0m.1-1.3h0m.2.9h0m.1-.8h0m.2-1.7h0m.3.6h0m.4-.5h0m.3-.6h0m.1-.8h0m.2-1.2h0m.1 1.5h0m.3-.7h0m.2-1.5h0m.1 1.4h0m.2-2.3h0m.1 1.9h0m.4-1.9h0m.2 3.9h0m.1-1.9h0m.3 1.2h0m.5 1.8h0m.4-.6h0m.2 1.5h0m.2 1.1h0m.2-1.1h0m.1-.6h0m.2 1.3h0m.3.9h0m.3-1h0m.4 1h0m.2 1.2h0m.1-2h0m.4.4h0m.5-.7h0m.1 1.1h0m.3.6h0m.3-1.6h0m.2 1.4h0m.1-.7h0m.6.4h0m.7.1h0m.2-.9h0m.1 1.2h0m.2-1.2h0m.1.8h0m.3-1.5h0m.2 1h0m.3.5h0m.5-.3h0m.3 2.1h0m.2-2.1h0m.6.7h0m.4-1h0m.2.6h0m.5-.7h0m.5.7h0m.6-.1h0m.4.9h0m.2-1.3h0m.2.6h0m.5-1.2h0m.1 1.4h0m.6-.8h0m.2 1.2h0m.1-.8h0m.3 1.1h0m.3-1.3h0m.3 1h0m.3-.7h0m.1-.6h0m.5.7h0m.4-.9h0m.2.6h0m.4.5h0m.3-.8h0m.1 1.3h0m.2-1.1h0m.4 1.2h0m.3-1.2h0m-281-101.4h0m0 3.2h0m47.4-63.7h0m0 2.4h0m35.9 120.9h0" stroke="#f2000a" stroke-width="4.6" stroke-linecap="round" fill="none"/>
<path d="M377.1 483.1l.5 0 .6 0 .5 0 .6 0 .5 0 .5 0 .6 0 .5 0 .5 0 .6-.1.5 0 .6 0 .5-.1.5 0 .6-.1.5-.2.5-.2.5-.4.3-.4.2-.3.1-.4.2-.4.1-.4.1-.5.1-.7 0-.4.1-.5 0-.6 0-.7.1-.9 0-1.2.1-1.5 0-2 .1-2.4 0-3 .1-3.8 0-4.5.1-5.4 0-6.2.1-7 0-7.7.1-8.3 0-8.5.1-8.2 0-7.5.1-6 0-4 .1-1.4 0 1.4.1 4 0 6 .1 7.5 0 8.2.1 8.5 0 8.3.1 7.7 0 7 .1 6.2 0 5.4.1 4.5 0 3.8.1 3 0 2.4.1 2 0 1.5.1 1.2 0 .9.1.7 0 .6.1.5 0 .4.1.7.1.5.1.4.1.4.2.4.2.3.3.4.4.4.6.2.5.2.5.1.6 0 .5.1.5 0 .6 0 .5.1.6 0 .5 0 .5 0 .6 0 .5 0 .5 0 .6 0 .5 0 .6 0 .5 0 .5 0 .6 0 .5 0 .5 0 .6 0 .5 0 .6 0 .5 0 .5 0 .6 0 .5 0 .5 0 .6 0 .5 0 .6 0 .5 0 .5 0 .6 0 .5 0 .5 0 .6 0 .5 0 .6 0 .5 0 .5 0 .6-.1.5 0 .5-.1.6 0 .5 0 .6.1.5 0 .5 0 .6 0 .5-.1.5 0 .6 0 .5.1.6 0 .5 0 .5 0 .6 0 .5-.1.5 0 .6 0 .5-.1.6 0 .5 0 .5-.1.6-.1.5 0 .5-.2.6-.1.5-.2.6-.2.5-.3.4-.4.4-.3.3-.5.2-.4.2-.4.2-.4.1-.5.1-.5.1-.4.1-.5.1-.6.1-.7.1-.4 0-.4.1-.5 0-.6.1-.6 0-.8.1-.9 0-1 .1-1.1 0-1.4.1-1.5 0-1.8.1-2 0-2.3.1-2.6 0-2.9.1-3.3 0-3.6.1-4 0-4.3.1-4.6 0-5 .1-5.2 0-5.4.1-5.5 0-5.6.1-5.6 0-5.3.1-5.1 0-4.6.1-4 0-3.3.1-2.6 0-1.9 0-1.2.1-.6.1-.5.1-.7 0-.9.1-1.3 0-2 .1-2.5 0-3.2.1-3.8 0-4.3.1-4.8 0-5 .1-5 0-4.7.1-4.3 0-3.5.1-2.4 0-1.1.1.5 0 2.1.1 3.6 0 5.1.1 6.3 0 7.3.1 8 0 8.5.1 8.7 0 8.7.1 8.6 0 8.4.1 7.9 0 7.6.1 7 0 6.4.1 5.9 0 5.3.1 4.8 0 4.3.1 3.7 0 3.3.1 2.9 0 2.5 0 2.1.1 1.9 0 1.6.1 1.3 0 1.2.1 1 0 .9.1.8 0 .6.1.6 0 .6.1.4 0 .5.1.3 0 .4.1.6.1.5.1.5.1.4.1.4.2.5.1.4.2.3.2.4.2.4.3.4.3.4.5.4.6.3.5.2.5.1.6.2.5.1.5 0 .6.1.5.1.6 0 .5 0 .5.1.6 0 .5 0 .5 0 .6.1.5 0 .6 0 .5 0 .5 0 .6 0 .5 0 .6 0 .5 0 .5.1.6 0 .5 0 .5 0 .6 0 .5 0 .6 0 .5 0 .5 0 .6 0 .5 0 .5 0 .6 0 .5 0 .6 0 .5-.1.5 0 .6 0 .5 0 .5 0 .6 0 .5-.1.6 0 .5 0 .5-.1.6-.1.5-.2.4-.4.2-.4.1-.4.2-.5.1-.4.1-.5.1-.5.1-.6.1-.6.1-.5.1-.6.1-.4.1-.4.4.5 0 .4.1.5.1.4.1.4.2.5.5-.6.1-.6.1-.4 0-.5.1-.6 0-.6.1-.7 0-.7.1-.8 0-.9.1-1 0-1 .1-1.1 0-1.2.1-1.2 0-1.2.1-1.3 0-1.3.1-1.4 0-1.3.1-1.2 0-1.3.1-1.1 0-1 0-.9.1-.7 0-.6.1-.4.1.5.1.5 0 .7.1.9 0 1.1.1 1.1 0 1.2.1 1.3 0 1.4.1 1.3 0 1.3.1 1.3 0 1.3.1 1.2 0 1.2.1 1.1 0 1.1.1 1 0 .9.1.8 0 .8.1.7 0 .7.1.6 0 .5.1.5 0 .4.1.4.1.6.1.5.1.4.1.5.2.4.3.3.5.4.5.2.6.2.5.1.5.1.6 0 .5 0 .5.1.6 0 .5 0 .6 0 .5 0 .5.1.6 0 .5 0 .5 0 .6 0 .5 0 .6 0 .5 0 .5 0 .6 0 .5 0 .5 0 .6 0 .5 0 .6 0 .5 0 .5 0 .6 0 .5 0 .5 0 .6-.1.5 0 .6 0 .5 0 .5 0 .6 0 .5-.1.5 0 .6 0 .5-.1.6-.1.5-.1.5-.1.6-.2.5-.2.5-.4.3-.4.2-.4.2-.3.1-.5.1-.4.1-.5.1-.6.1-.4 0-.4.1-.4 0-.5.1-.6 0-.6.1-.6 0-.7.1-.8 0-.8.1-.9 0-.9.1-1.1 0-1 0-1.2.1-1.2 0-1.3.1-1.3 0-1.4.1-1.5 0-1.4.1-1.5 0-1.5.1-1.6 0-1.5.1-1.5 0-1.4.1-1.4 0-1.3.1-1.2 0-1 .1-.9 0-.7.1-.6.1-.4.1.4 0 .6.1.7 0 .9.1 1 0 1.2.1 1.3 0 1.4.1 1.4 0 1.5.1 1.5 0 1.6.1 1.5 0 1.5.1 1.4 0 1.5.1 1.4 0 1.3.1 1.3 0 1.2.1 1.2 0 1 0 1.1.1.9 0 .9.1.8 0 .8.1.7 0 .6.1.6 0 .6.1.5 0 .4.1.4 0 .4.1.6.1.5.1.4.2.5.1.3.3.4.3.4.5.4.5.2.6.2.5.1.5.1.6.1.5.1.6 0 .5 0 .5 0 .6.1.5 0 .5 0 .6 0 .5 0 .6 0 .5 0 .5 0 .6 0 .5 0 .5 0 .6 0 .5 0 .6 0 .5 0 .5 0 .6 0 .5 0 .5 0 .6 0 .5-.1.6 0 .5 0 .5-.1.6 0 .5-.1.5-.1.6-.1.5-.3.6-.3.3-.4.1-.4.2-.4.1-.5.1-.4.1-.5.1-.6.1-.7.1-.3 0-.4.1-.4 0-.5.1-.5 0-.4.1-.6 0-.5.1-.6 0-.6.1-.6 0-.6.1-.6 0-.7.1-.6 0-.7.1-.6 0-.7.1-.6 0-.6.1-.6 0-.6.1-.5 0-.5.1-.4 0-.4.1-.5.3.6.1.4 0 .4.1.5 0 .5.1.5 0 .5.1.6 0 .6.1.5 0 .6.1.5 0 .6.1.5 0 .4.1.5 0 .4.1.4 0 .4.1.6.1.5.2.3.3-.5.1-.4.1-.5.1-.6.1-.6.1-.7.1-.6.1-.5.1-.4.4.6.1.6.1.4 0 .3.1.5 0 .4.1.4 0 .4.1.5 0 .4.1.5 0 .4.1.4 0 .5.1.4 0 .4.1.4 0 .3.1.4.1.6.1.6.1.6 0 .4.1.4.2.5.1.4.2.4.3.4.6.4.5.1.5.1.6.1.5-.1.6-.4.3-.3.4-.4.6-.2.4.4.4.4.3.4.6.3.5.1.6.1.5 0 .5 0 .6 0 .5 0 .5 0 .6 0 .5 0 .6 0 .5-.1.5 0 .6 0 .5-.1.5 0 .6-.1.5-.2.6-.2.4-.4.2-.4.2-.4.2-.4.1-.5.1-.3.1-.4.1-.4.1-.5.1-.4.1-.5.1-.5.1-.5.1-.5.1-.5.1-.4.1-.4.2-.4.5.4.1.6.1.4.1.4.1.4.1.4.1.4.2.5.1.4.2.3.5-.3.2-.5.1-.5.1-.6.1-.7 0-.4.1-.4 0-.4.1-.5 0-.6.1-.6 0-.6.1-.6 0-.7.1-.7 0-.8.1-.8 0-.8.1-.9 0-.9.1-.9 0-1 .1-1 0-1 .1-1 0-1.1.1-1.1 0-1 .1-1.1 0-1.1.1-1 0-1 .1-1 0-1 .1-.9 0-.9.1-.7 0-.8.1-.6 0-.5 0-.4.1-.5.2.4.1.4 0 .4.1.6 0 .7.1.7 0 .8.1.9 0 .9.1.9 0 1 .1 1 0 1 .1 1 0 1 .1 1 0 .9.1 1 0 .9.1.9 0 .9.1.8 0 .8.1.8 0 .7.1.7 0 .7.1.6 0 .5.1.6 0 .5.1.4 0 .4.1.4 0 .4.1.6.1.5.1.5.1.4.1.4.1.3.1.6.1.3.1.4.1.4.1.4.1.4.1.4.1.3.1.4.1.4.2.5.1.4.2.4.1.4.2.4.2.4.4.3.5.4.6.2.5.1.5.1.6.1.5.1.5 0 .6.1.5 0 .6 0 .5.1.5 0 .6 0 .5 0 .5 0 .6 0 .5 0 .6.1.5 0 .5 0 .6 0 .5 0 .5 0 .6 0 .5 0 .6 0 .5 0 .5 0 .6 0 .5 0 .5 0 .6 0 .5 0 .6 0 .5 0 .5 0 .6 0 .5 0 .5 0 .6 0 .5 0 .6 0 .5 0 .5 0 .6 0 .5 0 .5 0 .6 0 .5 0 .6 0 .5 0 .5 0 .6 0 .5 0 .5 0 .6 0 .5 0 .6 0 .5 0 .5 0 .6 0 .5 0 .5 0 .6-.1.5 0 .6 0 .5 0 .5-.1.6-.1.5-.2.5-.4.4-.4.3-.4.4-.4.5-.3.6.2.5.3.5-.2.3-.3.2-.4.2-.3.1-.5.2-.4.1-.5.1-.4.1-.4.1-.4.1-.3.1-.4.1-.5.2-.5.2-.4.5.4.2.4.1.5.1.4.1.3.1.4.1.4.1.4.1.4.1.4.1.5.2.5.1.4.2.3.2.5.2.4.4.3.5.4.5.2.6 0 .5.1.5 0 .6.1.5 0 .6 0 .5 0 .5.1.6 0 .5 0 .5 0 .6 0 .5 0 .6 0 .5 0 .5 0 .6 0 .5-.1.5 0 .6 0 .5 0 .6 0 .5-.1.5-.1.6-.2.5-.4.4-.3.3-.4.3-.4.3-.4.4-.4.5-.3.5-.3.5-.4.3-.4.4-.4.6.1.3.5.1.3.2.4.2.5.2.4.2.4.3.4.2.3.4.4.4.4.6.2.5.1.6 0 .5.1.5 0 .6 0 .5.1.5 0 .6 0 .5 0 .6 0 .5 0 .5 0 .6 0 .5 0 .5 0 .6 0 .5 0 .6 0 .5 0 .5 0 .6 0 .5-.1.5 0 .6 0 .5 0 .6-.1.5 0 .5-.2.6-.2.5-.3.3-.5.2-.3.2-.4.2-.4.2-.5.2-.3.1-.4.2-.4.1-.4.2-.3.2-.4.2-.4.5.1.3.4.2.4.1.4.2.3.1.4.2.4.1.4.2.4.2.4.2.4.3.3.3.4.5.4.5.2.6.1.5.1.5 0 .6 0 .5.1.5 0 .6 0 .5 0 .6 0 .5 0 .5 0 .6 0 .5 0 .5 0 .6 0 .5.1.6 0 .5 0 .5 0 .6 0 .5 0 .5 0 .6 0 .5 0 .6 0 .5 0 .5 0 .6 0 .5 0 .3 0" stroke="#000" stroke-width="1.35" fill="none" stroke-linejoin="round"/>
<path d="M388.6 491.6V496.3M434.4 491.6V496.3M435.7 491.6V496.3M470.4 491.6V496.3M472.1 491.6V496.3M502.7 491.6V496.3M529.6 491.6V496.3M531.8 491.6V496.3M555 491.6V496.3M556.9 491.6V496.3M558.4 491.6V496.3M603.4 491.6V496.3M607.8 491.6V496.3M621.7 491.6V496.3M623.4 491.6V496.3M625.1 491.6V496.3M628.3 491.6V496.3M630.5 491.6V496.3M648.6 491.6V496.3M650.3 491.6V496.3M652.2 491.6V496.3M667.9 491.6V496.3" stroke="#2f9a62" stroke-width="1.1" fill="none"/>
<path d="M463.1 491.6V496.3M525.2 491.6V496.3M576 491.6V496.3M620 491.6V496.3" stroke="#8fd0ac" stroke-width="1.1" fill="none"/>
<path d="M388.6 501V506.3M402.5 501V506.3M435.3 501V506.3M446 501V506.3M454.8 501V506.3M463.6 501V506.3M472.6 501V506.3M481.2 501V506.3M488.5 501V506.3M503.7 501V506.3M511.5 501V506.3M525.2 501V506.3M532 501V506.3M538.8 501V506.3M558.4 501V506.3M570.6 501V506.3M577 501V506.3M588.7 501V506.3M595 501V506.3M605.8 501V506.3M616.5 501V506.3M620.5 501V506.3M623.4 501V506.3M626.3 501V506.3M629.3 501V506.3M650.8 501V506.3M654.7 501V506.3M662.5 501V506.3M665.4 501V506.3" stroke="#2f9a62" stroke-width="1.1" fill="none"/>
<path d="M565.2 501V506.3M612.1 501V506.3M636.3 501V506.3M641 501V506.3M658.6 501V506.3M668.6 501V506.3" stroke="#8fd0ac" stroke-width="1.1" fill="none"/>
<path d="M377.1 530.6l.2-.3.3-1.1.2 1 .3.4.2-1 .3.6.2-.2.3.4.2-.8.2.9.3-.4.2.6.3-.2.2-.4.3-.4.2.2.3.8.2-.1.2-.3.3.1.2-.3.3-.2.2.2.3-.1.2-.1.3.4.2.7.2-1.6.3 1 .2-.2.3-.5.2.6.3.8.2-1.5.3.6.2-.5.2.9.3-.2.2-.2.3-.1.2.5.1 0 0-.7.1-.2 0 .6.1.5 0-.3.1.9 0-.5.1 0 0 .5.1-.5 0 .4.1.3 0 0 .1.9 0-.4 0-.6.1-.7 0 0 .1-.7 0-1.5.1-1.5 0-.4.1-1.4 0-1.3.1-.8 0-.3.1-.9 0 0 .1.3 0 .9.1 1.3 0 2.4.1 1.8 0 1.9.1 2.3 0 2.3.1 1.9 0 1.2.1 1 0 .6.1-.6 0-.9.1.5 0-1.8.1-1.1 0-2.5.1-1 0-.9.1-1.2 0-1.5.1-.6 0-1.1.1-.9 0-.3.1-.1 0 .5.1 1 0-.1 0 1.3.1.2 0 .3.1-.3 0 .6.1.6 0-.5.1.9 0 .1.1-.1 0-.8.3.7.2-.6.3 1.1.2-.8.3 0 .2.2.2-.2.3.6.2-.3.3.7.2-1.4.3.6.2.1.3-.2.2-.4.2 0 .3.7.2-.5.3-.4.2.2.3.6.2.1.3-.2.2.3.2-.3.3.1.2-.6.3.2.2.6.3-.2.2.1.3.2.2-1.4.2 1.2.3.1.2-.3.3.1.2-.6.3.7.2 0 .3-.1.2.2.2.3.3-.5.2-.3.3.2.2.5.3-.2.2-.3.3 0 .2.2.2-.7.3.2.2.5.3 0 .2-.4.3.1.2 0 .3.6.2-.6.2.1.3-.1.2-.4.3-.4.2.6.3 1.3.2-1.3.3.5.2-.2.2.5.3-.8.2-.3.3-.3.2 1.4.3-.2.2-1.3.3 1.1.2-.5.2.3.3-.2.2.4.3.5.2-.5.3 0 .2 0 .3-.2.2 0 .2.5.3.2.2-.3.3-.3.2.3.3 0 .2-.2.3-.4.2.6.2-.8.3.7.2-.6.3 0 .2.3.3-.2 0 .3.1.2 0-.2.1.3 0 .5.1-.3 0 0 .1.5 0 .3 0-.4.1.8 0-.1.1 1.1 0-.8.1.1 0 .2.1-1.3 0-.3.1-.1 0-.6.1-1.4 0-.5.1-.9 0-1.1.1-.6 0-1.3.1-1.1 0 .1.1-.3 0-.4.1.3 0 1.2.1.8 0 1.3.1.5 0 1.1.1.8 0 .3.1.7 0-.6.1.5 0 .5.1 0 0 .1.1.2 0-.6.1 1 0-.3.1.1 0-1 .1.3 0-.3.1.3 0 .5 0 0 .1.3 0-.7.1.6 0-.6.1.5 0 .2.1-.8 0 .2.1.4 0 0 .1-.7 0-.2.1.2 0 .7.1.1 0-.2.1.3 0 0 .1 0 0 .5.1-1.1 0 .5.1.4 0 1 .1-.6 0 1.9.1.3 0 .3.1-1.2 0 .9.1-.3 0 .2.1-1.2 0-.6.1-1.5 0 0 .1-.9 0-1.7.1-2.1 0-.5.1-1.3 0-.1 0-.8.1.2 0 .1.1.4 0 .9.1 0 0 1.8.1.3 0 .6.1 1.5 0 .5.1.7 0 .4.1-.4 0 .6.1-.7 0 .6.1-.1 0-.3.1-.2 0 .8.1-.9 0 .5.1.9 0 0 .1-.5 0-.3.1.8 0-.7.1.1 0 .2.1-.7 0-.3.1-.1 0 .2.1.1 0 .3.1.5 0-.4.1-.2 0 .5.1-.6 0 .8.2-.2.3.4.2-.4.3-.1.2.1.3 0 .2.1.3-.2.2.3.2-.7.3.8.2-.7.3 1.1.2-1.2.3.3.2.9.3-.4.2-.8.2.8.3-.5.2-.4.3 1.1.2-.6.3.8.2-.9.3.1.2.4.2-.7.3.3.2-.8.3 1.2.2.1.3-.1.2-.4.3-.5.2 1.1.2-.9.3.2.2.7.3-.3.2 0 .3.6.2-1 .3.5.2-.9 0 .4.1.1 0 .2.1.1 0-.6.1.6 0 .9.1-.5 0 1.4.1.6 0-.7.1.4 0 1.6.1-.1 0-.7.1-.2 0-.3.1-.3 0-1.5.1.1 0-2 .1-1.2 0-1 .1-1 0-1.6.1-1 0-.3.1-1 0-.1.1.9 0 .8.1 1.2 0 1.6.1 2.6 0 2.3.1 2.4 0 1.7.1 1.7 0 1.9.1 2.7 0-.4 0 .2.1-.2 0-1.2.1-1.1 0-.8.1-1.7 0-2.7.1-1.6 0-2 .1-1.6 0-2 .1-1.6 0-1.4.1-1.1 0-1 .1.1 0 .2.1-.5 0 1.6.1.6 0 2.1.1 1.4 0 .7.1 2.1 0 2.5.1 1.8 0 1.3.1.8 0 1.2.1-.7 0 1.2.1-.7 0-1.1.1-.5 0-1.9.1-.5 0-1.2.1-1.4 0-.7.1-1.3 0 .2.1-2.1 0 .5.1 0 0 .2 0 .5.1-.4 0 0 .1.7 0 .1.1.6 0 .1.1-.3 0 1.4.1-.8 0 .8.1.2 0-.5.1.7.2-1 .3.2.2.4.3.3.2-.7.2-.1.3.6.2.1.3-.8.2.9.3.3.2-.4.3.1.2.2.2-.9.3.6.2-.6.3.4.2 0 .3-.2.2-.4.3.1.2-.3.2.3.3.1.2.7.3-.2.2 0 .3-.6.2 0 .3.3.2.5.2-1.1.3.3.2.5.3-.2.2.5.3-.2.2-.5.3 0 .2 0 .2.1.3.6.2-.5.3-.1.2.6.3-.3.2.6.3-.5.2-.4.2.6.3-.5.2.3.3 0 .2.4.3 0 .2-.5.3.1.2-.5.2 0 .3.4.2 0 .3-.5.2.5.3-.3.2.6.3-.9.2.9.2-.4.3-.4.2.4.3-.2.2-.4.3 0 .2 1 .3-.5.2.4.2.3.3-.7.2-.1.3-.4.2.7.3-.5.2-.2.3.5.2.4.2-.2.3-.8.2 1.5.3-.3.2-.3.3.3.2-.6.3.3.2.2.2-.4.3.6.2-.8.3.3.2 0 .3-.6.2.1.2-.1.3 1.1.2-.5.3-.7.2.4.3-.2.2 1 .3-1.2.2 1.1.2-.7.3.4.2-.5.3-.5.2 1.2.3-.1.2-.1.3 0 .2.3.2-.9.3.2.2.4.3-.6.2.1.3-.2.2.8.3-.7.2.7.2-.1.3-.1.2-.3.3.5 0-.9.1 1 0-1 .1 1.1 0-.3.1.1 0 .5.1.1 0 0 .1.3 0-.6.1 1.3 0-.4.1.7 0-.4.1.2 0-1 .1-.5 0-.2.1-1.1 0-1.2.1-.7 0-1.9.1-1.3 0-.9.1-1.2 0-.9 0-.4.1-.6 0 .8.1.7 0 1.3.1 1.4 0 1.1.1 2.9 0 .6.1 2.2 0 1.6.1 1.7 0-.4.1 1 0 0 .1-.2 0-.9.1 0 0-1.4.1-.7 0-.7.1-.5 0-1.2.1-.3 0-.5.1-.5 0-.7.1.5 0 .1.1 0 0 .6.1-.2 0 .7.1-.1 0 .3.1.6 0-.3.1-.2 0 .7.1-.1 0-.5.1.1 0 .5.2.2.3-.5.2.5.3-.5.2.6.3-1.3.2 1.2.3 0 .2-.3.2-.5.3.4.2-.5.3.9.2-1 .3.7.2-.4.3-.5.2.9.2.7.3-.2.2-.8.3.3.2.1.3.4.2-.5.3.6.2-.6.2.1.3-.1.2 0 .3.1.2-.1.3.9.2-1.6.3 1.4.2-.3.2-.2.3.4.2 0 .3-.8.2-.3.3 1.6.2-.7.3-.1.2.8.2-1.1.3-.1.2.6.3-.3.2-.2.3-.2.2.4.3-.6.2 1 .2-1 .3.2.2.1.3-.3.2 1.2.3-1 .2.6.2-.8.3 1.6.2-.9.3.2.2-.4.3.2.2-.6.3.3.2.3.2-.8.3.3.2.9.3-.2.2-.4.3.4.2-.3.3.5.2-.8.2-.4.3.4.2.9.3-1.3.2.5.3.1.2-.4.3.5.2-.3.2.4.3-.4.2.6.3-.7.2-.6.3 1.7.2-.2.3-.7.2 0 .2-.3.3 1.1.2-1.2.3.8.2-.1.3-.5.2.9.3-1.2.2.8.2-.3.3.2.2-.9.3.6.2.4.3-.9.2.8.3.3 0-.1.1-.8 0 .9 0-.9.1.9 0-1 .1.6 0-.3.1 1.5 0-.3.1-.7 0 .2.1.9 0-.1.1-.3 0 0 .1 0 0-.6.1-.9 0-.1.1 0 0-.6.1-.5 0-.7.1-1 0-.7.1.3 0-1.3.1.2 0 1.2.1.4 0 .2.1.7 0 1.4.1 2.2 0 1 .1 1.9 0 .2.1 2 0 0 .1.7 0 .6.1-1 0-.4.1-1.7 0-.9.1-1.2 0 .1 0-1.7.1-.2 0-.1.1-1.7 0 .1.1-.9 0 .7.1-.3 0 .6.1-.2 0 .5.1-.9 0 .4.1.9 0 0 .1-.1 0-.2.1.2 0-.2.1.7 0-.6.1.4.2-.5.3 1.1.2-.5.3-.2.2-.1.2-.3.3.7.2.2.3.3.2-.7.3-.5.2.2.3.5.2-.5.2-.3.3 1.2.2-.8.3.1.2 1 .3-1.3.2.7.3.1.2-.3.2-.2.3 0 .2.2.3-.4.2.9.3.2.2-1.7.2 1.3.3-.3.2 0 .3.1.2-.2.3.2.2-.5.3.7.2.1.2-.2.3.3.2-.7.3.5.2.2.3-.7.2.3.3-.3.2 0 .2 1 .3-.8.2-.2.3.2.2.1.3 1.1.2-.7.3-.7.2.4.2-.1.3-.2.2.1.3-.1.2.3.3.3.2-.9.3.2.2 0 .2.6.3-.8.2.1.3.6.2-.7.3-.4.2 1.2.3-.6.2.4.2-.5.3-.3.2 0 .3 1.5.2 0 .3-.3.2.2.3-.9.2.2.2-1 .3.8.2.4.3-.4.2 1.1.3-1.4.2.5.3-.4.2.1.2-.1.3.3.2-.7.3 1 .2-.4.1-.3 0-.2.1.7 0-.2.1.3 0-.1.1.8 0 .3.1-.6 0 1.2.1-.1 0 0 .1.4 0-.4.1.4 0-.3.1.3 0-1 0-.2.1-.3 0-.6.1-1.6 0 .6.1-1.6 0-.8.1-.3 0-1.2.1-.2 0 .3.1-.3 0 1.6.1-.1 0 .8.1.9 0 1.1.1.8 0 .2.1 1.4 0 .4.1.8 0-.6.1 0 0-.3.1-.5 0 .2.1-.8 0 .1.1.4 0-.4.1-.1 0-1.4.1.8 0-.4.1-.1 0 .2.1-.3 0 0 .1-.4 0 1.2.1-.8 0 .5 0-.5.1 0 0 .5.1-.2 0 .5.1-.3 0 .2.1.2 0-1 .3.8.2-1.2.3.6.2.1.3-.3.2.5.3-.2.2-.2.2 1.1.3-.8.2 0 .3-.1.2.5.3-.1.2-.4.2 1.2.3-.5.2-.4.3-.9.2.9.3-.2.2-.1.3-.2.2.8.2.1.3-.7.2-.4.3 0 .2.5.3-.3.2.3.3.4.2 0 .2-.4.3-.5.2.9.3-.1.2-.6.3.5.2.2.3.5.2-.7.2.3.3-.5.2.4.3-.2.2.3.3-.8.2.5.3-.9.2.3.2.2.3-.1.2.4.3.2.2.2.3-.3.2 0 .3 0 .2.4.2-.6.3 1.1.2-.5.3-.5.2-.8.3.7.2 0 .3.3.2 0 .2.6.3-1.2.2.4.3.3.2.2.3-1 .2 1.1.3-.8.2 0 .2.3.3.3.2-.2.3.1.2-.2.3.3.2-.6.3.3.2.1.2-.1.3.2.2-.5.1 0 0 .7.1-.3 0 .2.1.1 0 .3.1-.6 0 1.1.1-.8 0 1 .1-.6 0 .7.1.1 0 .4.1 0 0-.8.1.2 0-.5.1-.2 0-1 .1-.8 0-.4.1-.6 0-2 .1.3 0-1.1 0-.3.1-.8 0-.3.1.8 0 0 .1.5 0 1.1.1 1.4 0 .9.1 1 0 .3.1.1 0 1.7.1-.1 0-.3.1.3 0 0 .1-.5 0 .3.1-.2 0-.2.1-.2 0-.4.1-1 0 .1.1.3 0-.3.1 0 0-.2.1.7 0 0 .1.6 0 .6.1.9 0 .1.1 0 0 0 .1 1.4 0-.2.1-1.3 0 .4.1-.2 0-1.2.1-.7 0-1.4 0-.5.1-1.4 0-1.9.1-.8 0-1.5.1-.1 0-1.3.1.6 0-.3.1.6 0 1.7.1.8 0 1.4.1 1.4 0 .8.1 2 0 .6.1 1.4 0 .8.1.2 0-.4.1-.4 0 .8.1-1.1 0-.2.1-1.4 0-.1.1-.2 0-.8.1.3 0-.7.1.1 0-.8.1.9 0 0 .1-.2 0-.4.1-.2 0 .4.1.4 0-.1.1.3 0 .7.1-.7 0-.4 0 1.2.1-.2 0 .5.1-.5.2-.1.3.2.2 0 .3.6.2-1.3.3.3.2 0 .2-.3.3 1.5.2-.9.3.1.2.2.3-.8.2.5.3.2.2-.6.2 1 .3-.4.2.2.3-.4.2-.5.3-.3.2.9.3-.1.2.1.2-.9.3 1.6.2-1.3.3 0 .2.8.3-.7.2.8.3-.3.2-.6.2-.5.3.9.2.2.3-.6.2.6.3-.3.2-.1.3.3.2-.1.2.2.3-1.6.2.7.3.9.2.1.3.4.2-.4.3.1.2-.2.2-.6.3.2.2.4.3-.4.2-.2.3 1 .2-.9.3.4.2-.7.2.7.3-.3.2-.4.3 1.3.2-.9.3.1.2.1.3.4.2-.8.2.6.3-.2.2-1 .3.9.2-1 .3.9.2-.4.3.3.2.2.2-.2.3.4.2-.1.3.4.2-.9.3.3.2-.1.3-.3.2.5.2.4.3-.2.2.1.3-.3.2-.2.3-.2.2.3.3-.1.2.3.2.1.3-.2.2.5.3-.3.2-.4.3.1.2.7.2-.8.3.3.2-.2.3.6.2-1 .3 1.4.2-.9.3-.1.2.7.2-.6.3.1.2-.6.3.8.2-.2.3-.5.2-.1.3.1.2 1.1.2-.4.3-.7.2.1.3-.1.2 1.1.3-.3.2-.4.3.4.2-.8.2.8.3.1.2-.9.3.1.2.8.3 0 .2-.9.3-.1.2 1 .2-.5.3.2.2 0 .3.3.2-1.3.3.7.2.3.3-.1.2-.5.2 0 .3 1.4.2-1.6.3 1.5.2-.9.3-.1.2-.3.3.6.2-.1.2 0 .3-.1.2-.2.3 0 .2 0 .3 0 .2.2.3-.3.2.8.2-.7.3.1.2.3.3 0 .2-.3.3.3.2.2.3-.8.2.6.2-.1.3-.3.2.2.3 0 .2 0 .3-.3.2.4.3-.2 0 .8 0-.7.1.5 0-.8.1.4 0-.4.1.2 0 .9.1-.2 0-.7.1.8 0-.6.1.6 0 .3.1-.3 0-.3.1.6 0-.7.1.3 0-.3.1-.5 0-1 .1.1 0-.8.1 0 0-.5.1-.2 0-.3.1.2 0-.1.1.4 0 .3.1-.1 0 .2.1.6 0 .1.1.8 0 0 .1-.3 0 .1.1 1.2 0-1.1.1.4 0 .2.1.2 0-.9 0 .5.1 0 0 .9.1-.6 0 .6.1-1 0 0 .1.4 0-.2.1-.2 0 .1.1.2 0 .5.1-.4 0-.1.1-.3 0 .4.1-.2 0-.2.1.1 0 .5.1.5 0-.9.1.2.2.3.3-.8.2.6.2-.4.3.4.2-.3.3-.5.2 1 .3-1.1.2-.1.3 1 .2-.6.2.8.3-.6.2.4.3.5.2-.2.3-.3.2-.3.3.4.2-.5.2.1.3 1.1.2-1.3.3.8.2-.5.3-.7.2.9.3-.7.2.5.2.5.3-1.5.2 1.2.3-.7.2.3.3 0 .2.3.3-.2.2.4.2-.4.3-.3.2 1.2.3-.4.2-.5.3.8.2-.2.3-.1.2-.8.2.3.3.7.2-.3.3.1.2-.7.3.3.2-.2.3.3.2.7.2-1.3.3.6.2.1.1-.2 0-1.2.1 1.2 0-.1.1.8 0-.7.1.8 0-.2.1-1 0 .6.1.8 0-.2.1-.2 0 1.1.1-1 0 .2.1.1 0-.2.1-1.3 0 .5.1 0 0 0 .1-1.3 0-.2.1.1 0-.7.1-.8 0-.3 0 1.2.1-.3 0-1 .1 1.1 0 0 .1.2 0 1.1.1 0 0-.1.1.7 0 .4.1-.5 0 .3.1.7 0-1.1.1.9 0-.3.1-.1 0 .1.1.4 0 .3.1-.2 0 0 .1-.8 0-.2.1.9 0-.1.1-.3 0 .3.1.2 0 0 .1-1.4 0 .5.1.7 0-.4.1.4 0-.8.1.6 0 .8.1-1.1 0 .1.1-.8.2 1 .2 0 .3-.3.2 0 .3-.1.2-.1.3.4.2.7.3-1.1.2.2.2-.1.3.2.2.4.3-.2.2-.3.3.2.2-.2.3-.1.2-.2.2.8.3-.5.2.1.3.8.2-1.3.3.9.2-.1.3.1.2-.2.2-.1.3.4.2-.9.3-.1.2-.5.3 1.1.2.2.2 0 .3-.8.2.3.3 0 .2.2.3.1.2.7.3.1.2-.9.2 1 .3-.2.2-.2.3-.4.2-.6.3 1.4.2-.5.3-.7.2.3.2 0 .3.2.2-.8.3.3.2.2.3-.4.2.4.3 0 .2-.2.2.5.3-1.5.2 1.1.3-.2.2 1.3.3-.8.2-.7.3.7.2 0 .2.4.3-.4.2.4.3-.8.2 0 .3.4.2-.1.3-.7.2.4.2.6.3-.9.2 1.5.3-1.5.2 1.2.3-.9.2.7.3 0 .2-.5.2.4.3-.2.2-.1.1 0 0-.1.1.1 0 .3.1-.1 0-.4.1-.9 0 1.3.1 0 0-.1.1-.1 0-.3.1 0 0 .3.1.3 0-.5.1.1 0 .6.1-.8 0 .7.1-.5 0 .1.1.1 0-.4.1.1 0 .6.1-.3 0 .5 0-.5.1.2 0 0 .1.7 0-.3.1.2 0 1 .1 0 0 .2.1.6 0-.6.1.9 0 1.4.1-1.3 0 .2.1-1 0 .7.1-.8 0-.9.1-.1 0 .1.1-1.4 0-.1.1-.2 0-1.1.1 0 0 .4.1-.4 0 .4.1.2 0 0 .1 0 0 .2.1.4 0-.9.1.9 0-.3.1 1.1 0-.8.1.1 0 0 .1-.3.2.7.2-1.1.3 1.2.2-.4.3.6.2-.6.3-.3.2.4.3-.2.2 0 .2.3.3-.1.2.1.3-.3.2.1.3-.5.2-.4.3 1.2.2-.1.2-.2.3.4.2-.1.3-.3.2-.8.3.5.2.2.2-.1.3-.2.2-.4.3.6.2.2.3.3.2-.5.3 1 .2-1.1.2 0 .3.7.2.2.3.2.2-.4.3-.5.2 1 .3-.9.2.5.2-.9.3.5.2.4.3-.9.2 0 .3 1 .2-.2.3-.2.2-.5.2.2.3-.1.2.5.3-.2.2-.6.3.3.2 0 .3.2.2.2.2-.4.3-.3.2.3.3-.3.2.8.3-.6.2.2.3.1.2-.3" stroke="#1f5fcf" stroke-width="1.5" fill="none" stroke-linejoin="round"/>
</g>
<rect x="377" y="310" width="293" height="236" fill="none" stroke="#000" stroke-width="2"/>
<path d="M377.1 546.4V552.2M401.5 546.4V549.7M426 546.4V552.2M450.4 546.4V549.7M474.8 546.4V552.2M499.3 546.4V549.7M523.7 546.4V552.2M548.1 546.4V549.7M572.6 546.4V552.2M597 546.4V549.7M621.4 546.4V552.2M645.9 546.4V549.7M670.3 546.4V552.2" stroke="#000" stroke-width="1.8" fill="none"/>
<text x="377.1" y="569.5" text-anchor="middle" class="tl" style="font-size:18.7px">20</text>
<text x="426" y="569.5" text-anchor="middle" class="tl" style="font-size:18.7px">30</text>
<text x="474.8" y="569.5" text-anchor="middle" class="tl" style="font-size:18.7px">40</text>
<text x="523.7" y="569.5" text-anchor="middle" class="tl" style="font-size:18.7px">50</text>
<text x="572.6" y="569.5" text-anchor="middle" class="tl" style="font-size:18.7px">60</text>
<text x="621.4" y="569.5" text-anchor="middle" class="tl" style="font-size:18.7px">70</text>
<text x="670.3" y="569.5" text-anchor="middle" class="tl" style="font-size:18.7px">80</text>
<text x="469.8" y="592.7" class="xt" style="font-size:23.4px">2<tspan class="th">θ</tspan> (Degrees)</text>
<text transform="translate(366.7 429.4) rotate(-90)" text-anchor="middle" class="yt" style="font-size:22.5px">Intensity (a.u)</text>
<text x="449.1" y="352.7" class="pl" style="font-size:43.5px">(d)</text>
<circle cx="552.8" cy="328.4" r="2.5" fill="#f2000a"/>
<path d="M540 346H565.6" stroke="#000" stroke-width="1.5"/>
<path d="M540 363.6H565.6" stroke="#5b8fd6" stroke-width="1.5"/>
<path d="M552.8 378.6V383.8" stroke="#8fd0ac" stroke-width="0.9"/>
<text x="568.4" y="331.9" class="lg" style="font-size:11.5px">Y<tspan style="font-size:7.1px" dy="4">obs</tspan></text>
<text x="568.4" y="349.5" class="lg" style="font-size:11.5px">Y<tspan style="font-size:7.1px" dy="4">cal</tspan></text>
<text x="568.4" y="367.1" class="lg" style="font-size:11.5px">Y<tspan style="font-size:7.1px" dy="4">obs</tspan><tspan dy="-4">-Y</tspan><tspan style="font-size:7.1px" dy="4">cal</tspan></text>
<text x="568.4" y="384.7" class="lg" style="font-size:11.5px">Bragg position</text>
<clipPath id="clipe"><rect x="32" y="610.6" width="298.5" height="240.2"/></clipPath>
<g clip-path="url(#clipe)">
<path d="M32.1 790.2h0m.3.9h0m.6-.9h0m.1 1.2h0m.1-.8h0m.2 1.3h0m.1-.6h0m.2-.6h0m.4.4h0m.5.6h0m.3-.9h0m.1-.7h0m.3.9h0m.3.6h0m.2-1h0m.6-.9h0m.1 1.5h0m.2-.7h0m.3.6h0m.3-.9h0m.1 1.4h0m.3-.5h0m.2-.6h0m.6.3h0m.3.9h0m.1-.8h0m.5-.8h0m.1 1.1h0m.3-1.3h0m.2 1h0m.6-1.3h0m.4.6h0m.6-.9h0m.2.9h0m.3-.8h0m.1-1.5h0m.5-1.8h0m.3-3.2h0m.1-2.5h0m.1-7.2h0m.2-12.4h0m.1-17.1h0m.2-16h0m.1-13.3h0m.2.6h0m.1 15h0m.2 15.7h0m.1 15h0m.2 13.4h0m.1 7.6h0m.2 3.6h0m.1 1.4h0m.2 2h0m.1-.9h0m.2 2.1h0m.3-.9h0m.1.7h0m.2-.8h0m.3 1.3h0m.1-.8h0m.2.8h0m.4.7h0m.6.4h0m.2-1h0m.3-1h0m.1 1.5h0m.5 1h0m.3-.7h0m.3-.8h0m.3.7h0m.4-.4h0m.3-.7h0m.2.7h0m.3.6h0m.4-.7h0m.3.9h0m.5-.9h0m.3.9h0m.1-.6h0m.3.9h0m.2-1.6h0m.2.9h0m.3-.7h0m.6.7h0m.6.6h0m.2-1.2h0m.1.6h0m.2-1h0m.4 1h0m.3-1.3h0m.2 1.6h0m.3-.9h0m.4-.8h0m.2 1.9h0m.1-1.7h0m.6-.6h0m.2.6h0m.1-1h0m.5 1.2h0m.1-1.1h0m.3.9h0m.2-.8h0m.3 1.4h0m.4.6h0m.2-1h0m.3-.6h0m.1 1h0m.5 1.2h0m.4-1.6h0m.2.8h0m.3-1.1h0m.1 1h0m.3-.9h0m.2 1.2h0m.1.8h0m.2-.7h0m.1-.8h0m.3 1h0m.1-1h0m.2.6h0m.4.7h0m.2-1.6h0m.1 1.3h0m.3-.6h0m.2-.8h0m.1 1h0m.3-1.7h0m.2.8h0m.6.3h0m.1 1.2h0m.3-.9h0m.2.8h0m.4-1.5h0m.2.9h0m.3-.7h0m.3 1h0m.6-.7h0m.3.6h0m.3-1h0m.3.9h0m.3-1.3h0m.1-.7h0m.2.9h0m.6-2.1h0m.1.6h0m.2-.7h0m.1-.8h0m.2 1.8h0m.1-2.5h0m.3-1.5h0m.5-1.7h0m.3-.7h0m.4 1.1h0m.6 2h0m.3 1.9h0m.1-1.2h0m.5.8h0m.3.6h0m.1-1.4h0m.3 1.2h0m.2-1.1h0m.1-.7h0m.3-2h0m.5.9h0m.3-1.4h0m.1.6h0m.3 1h0m.2-.9h0m.1 1.2h0m.2 1.1h0m.1-1h0m.2 1.4h0m.1.8h0m.2.6h0m.3.9h0m.1.7h0m.5 1.4h0m.1-1.4h0m.3.7h0m.3-.8h0m.3 1.6h0m.2-1h0m.3 1.5h0m.1-.8h0m.3-.7h0m.2.7h0m.6-.3h0m.6-.3h0m.1.6h0m.5-1.3h0m.1 2.1h0m.2-1.1h0m.5.7h0m.2-.6h0m.4.6h0m.2-1.3h0m.3-.6h0m.3 1.2h0m.6-.1h0m.3.7h0m.1-1.5h0m.2 1.3h0m.3-1.4h0m.4-.8h0m.2 1h0m.1-1.1h0m.2.9h0m.1-.8h0m.3.9h0m.3-1.3h0m.3.6h0m.3-1.5h0m.2 1h0m.1-1.2h0m.2-.6h0m.1.8h0m.2-.9h0m.3-1.8h0m.1-2.5h0m.3-1.3h0m.2-3.3h0m.1-2.2h0m.2-7.1h0m.1-6.1h0m.2-10.4h0m.1-14h0m.2-14h0m.1-13.9h0m.2-12.9h0m.1-9.3h0m.2-7.3h0m.1-4.1h0m.2-1h0m.1-8.8h0m.2-9.3h0m.1-9.4h0m.2-10.2h0m.1-3.9h0m.2 11h0m.1 15.6h0m.1 22.9h0m.2 19.2h0m.1 22.1h0m.2 17.5h0m.1 13.8h0m.2 9.3h0m.1 6.9h0m.2 3.7h0m.1 3.2h0m.2 1.4h0m.1 3.1h0m.2 1.6h0m.6 1.1h0m.1 1.9h0m.2-.6h0m.4 1.4h0m.2-.8h0m.4.4h0m.2 2h0m.1-1.6h0m.2.8h0m.1.6h0m.2-.6h0m.6.2h0m.6 1.4h0m.1-1.2h0m.2.8h0m.3-1h0m.3.8h0m.1-.8h0m.2 1h0m.3.7h0m.1-1.5h0m.2 1.2h0m.4-.8h0m.6.9h0m.6-.5h0m.6-1.1h0m.2.9h0m.4-.6h0m.1 1.2h0m.6.6h0m.6-1h0m.2.8h0m.3-1.5h0m.3 1h0m.1.8h0m.2-1h0m.3-.6h0m.1.9h0m.6-.3h0m.2.8h0m.1-1.3h0m.3 1.2h0m.2-.8h0m.4 1.2h0m.2-.8h0m.3-.6h0m.3.9h0m.3-.7h0m.1-.8h0m.2 1.4h0m.4-1.1h0m.3.5h0m.3.8h0m.2-1h0m.6 1h0m.3-.8h0m.3-.8h0m.1 1.9h0m.2-1.3h0m.4.6h0m.6 0h0m.3-1h0m.1 1.2h0m.6-.5h0m.3-.6h0m.2.6h0m.1.8h0m.3-.8h0m.6.2h0m.3.7h0m.2-1.7h0m.3.8h0m.4 1.1h0m.2-1.3h0m.1.7h0m.6.1h0m.3-.9h0m.2.8h0m.3-1.1h0m.1 1h0m.6.7h0m.2-1.7h0m.1.9h0m.2-1.1h0m.1 1h0m.3-.9h0m.2 1.4h0m.3-.6h0m.7.6h0m.3-1h0m.2 1h0m.4-.4h0m.2-1h0m.3.7h0m.2-.7h0m.2 1h0m.3-1h0m.4.6h0m.3-1.3h0m.2 1.9h0m.3-1.8h0m.1 1.5h0m.3-1.2h0m.3-1.7h0m.3-.7h0m.3.7h0m.2-1.1h0m.3.9h0m.3.8h0m.1-.6h0m.2 1.2h0m.3-1.1h0m.3-1.5h0m.3-1.1h0m.3-2.6h0m.1-3.6h0m.3-4.9h0m.2-1.5h0m.1-3.5h0m.2-4.6h0m.1-3.9h0m.2-1.9h0m.1-2.4h0m.2 2.5h0m.1 3.2h0m.2 3.1h0m.1 2.1h0m.2 6.3h0m.1 2.6h0m.2 1.8h0m.1 3.9h0m.2 1h0m.1 2h0m.2 1.6h0m.1 2.1h0m.2 1.1h0m.1-2.1h0m.2 1.2h0m.3.9h0m.6-.2h0m.2.8h0m.3-.5h0m.2.7h0m.3-.7h0m.3.9h0m.1-.7h0m.2 1.2h0m.1-.9h0m.3.6h0m.3-.7h0m.3.8h0m.5-.6h0m.6.4h0m.6-.5h0m.4.9h0m.8-1.1h0m.1.7h0m.2-.6h0m.6-.1h0m.1.7h0m.6-.2h0m.6.2h0m.3-.5h0m.3.5h0m.6-.5h0m.5.4h0m.1-.9h0m.2 1.4h0m.5-.9h0m.2 1.4h0m.1-1h0m.3.6h0m.2-1h0m.1.6h0m.5-.8h0m.1 1.5h0m.2-.6h0m.3-.6h0m.1 1h0m.2-.9h0m.1.7h0m.2-1h0m.1.8h0m.2-1.1h0m.1 1h0m.2-.6h0m.3.9h0m.3-.7h0m.3.8h0m.1-1.3h0m.2.6h0m.7-.4h0m.2.7h0m.4.7h0m.2-1.1h0m.3 1.2h0m.1-1.1h0m.3-.6h0m.2.7h0m.4-.5h0m.2 1.1h0m.4-.8h0m.2-.7h0m.1 1.1h0m.5.6h0m.1-.7h0m.8.3h0m.3-.7h0m.4.5h0m.3-.7h0m.4 1.1h0m.3-.7h0m.3 1.1h0m.2-.8h0m.3-.7h0m.1.9h0m.2-.8h0m.3.8h0m.4-1.5h0m.5.7h0m.4-.6h0m.2 1.1h0m.1-1.6h0m.2.9h0m.4-1h0m.2 1h0m.1-1.3h0m.5 1.2h0m.1-2.7h0m.3-1.8h0m.3-1h0m.2-1.7h0m.1-2.2h0m.2-2h0m.1-2h0m.2-2.3h0m.1-1.3h0m.2-3.9h0m.1-2.9h0m.2-2.2h0m.4-.4h0m.2 2.8h0m.1 1.9h0m.3 6.7h0m.2 1.7h0m.3 2.3h0m.1 3.6h0m.2 1.1h0m.1 2.1h0m.3 2.3h0m.3.5h0m.4 1.2h0m.6-1.4h0m.2.9h0m.1 1.6h0m.2-1.1h0m.6 1.5h0m.1-1.7h0m.3 1h0m.2-1.2h0m.4.6h0m.2 1h0m.4.5h0m.2-2h0m.1 1.6h0m.2-.9h0m.1.6h0m.3-1h0m.2 1.4h0m.4-1h0m.2 1.4h0m.1-2.2h0m.2 1.3h0m.4.4h0m.2-.7h0m.1.8h0m.8-.5h0m.6.4h0m.1-.7h0m.6-.2h0m.3 1h0m.3-1.3h0m.2 1.1h0m.7-.4h0m.6.5h0m.1-1.1h0m.3 1.1h0m.2-.9h0m.3.8h0m.6.3h0m.1-.7h0m.5-.4h0m.3.9h0m.6-.4h0m.3-.9h0m.3.9h0m.6.1h0m.1-.7h0m.2.9h0m.3-.8h0m.4.8h0m.5-.5h0m.6.3h0m.4-.7h0m.3.7h0m.5-.5h0m.6.4h0m.1.7h0m.2-.8h0m.3-1h0m.1 1.2h0m.6.4h0m.1-1.2h0m.2.8h0m.3-.6h0m.1.8h0m.2-1.3h0m.1.8h0m.5-1.3h0m.1 1.5h0m.3-1.1h0m.2 1h0m.1-1.1h0m.2.9h0m.3-1.3h0m.1 1.4h0m.2-1.2h0m.6-1.2h0m.3-.8h0m.1-2h0m.3-1.1h0m.2-1.3h0m.1-.7h0m.2-2.3h0m.1-2.4h0m.2.8h0m.1-1.3h0m.2-1.2h0m.1-1h0m.2 2.3h0m.1-1.7h0m.3 1.4h0m.2 1h0m.1-.8h0m.2 2.5h0m.1-1.6h0m.2 1.9h0m.1 1.5h0m.5.7h0m.1-1h0m.2 1.1h0m.1.9h0m.2-1.2h0m.1 2.2h0m.2.9h0m.1 1h0m.3 1.3h0m.6.9h0m.3 1.5h0m.1.7h0m.3-.5h0m.2.6h0m.6-.9h0m.3.9h0m.1 1.4h0m.2-1.2h0m.4-.6h0m.2-.9h0m.3.5h0m.1 1.4h0m.2-1.1h0m.6-.5h0m.4-.4h0m.2-1.2h0m.1 1.1h0m.3-1.1h0m.5 1.5h0m.1-.6h0m.3-.9h0m.2 1.1h0m.6 1.7h0m.1-1.2h0m.2.9h0m.3-.8h0m.1.8h0m.5-.7h0m.1 1.1h0m.2.8h0m.1-.8h0m.3-.5h0m.3.6h0m.2-.9h0m.3.7h0m.6.7h0m.1-.7h0m.7 1.3h0m.2-.7h0m.1-1.2h0m.2 1.4h0m.1-.8h0m.2-.6h0m.1.8h0m.2-.7h0m.6-.5h0m.1 1.5h0m.3-.6h0m.8.4h0m.3-.5h0m.6.1h0m.1-.9h0m.3 1.1h0m.5.5h0m.1-1.3h0m.2.7h0m.1-1h0m.2.8h0m.7-.4h0m.3 1h0m.3-.7h0m.2-1h0m.3.8h0m.6-.6h0m.1-.7h0m.2 1.3h0m.4-1.9h0m.2 1.1h0m.3-1.6h0m.3-.7h0m.4-1h0m.1.7h0m.2-1.1h0m.1-1.1h0m.3-.8h0m.2-1.4h0m.1 1.8h0m.2-.7h0m.1 1.4h0m.2-.9h0m.1 1.2h0m.3-2h0m.2 2.2h0m.1-1.7h0m.3-1.6h0m.3 1.1h0m.2-3.3h0m.1-4.7h0m.2 2.8h0m.1-3.4h0m.2-3h0m.1-1.1h0m.2-2.6h0m.1-3.3h0m.3-2.6h0m.2-.7h0m.1-1.5h0m.3.7h0m.3 2.2h0m.2 3.9h0m.1 1.4h0m.2 3.1h0m.1 1.8h0m.2 1.9h0m.1 3.5h0m.3 2h0m.2 2.2h0m.1 2.1h0m.2 1.1h0m.1-.6h0m.2.8h0m.1 1h0m.3 1.2h0m.2.9h0m.3-1.1h0m.4 1.2h0m.2.7h0m.1-1.1h0m.2 1.2h0m.3 1.3h0m.1-1.9h0m.2.7h0m.4.6h0m.4-.4h0m.3-.8h0m.2 2h0m.1-1.8h0m.2.9h0m.4-.9h0m.2 1h0m.1-1h0m.2 1.5h0m.1.8h0m.2-.6h0m.1-2.1h0m.2 1.6h0m.6-.4h0m.6.6h0m.3-.6h0m.1 1.1h0m.2-.9h0m.6.5h0m.6-.8h0m.1.7h0m.3-1.3h0m.2 1.3h0m.3.6h0m.1-1h0m.2.9h0m.3-1.4h0m.1 1.3h0m.5-.6h0m.1 1h0m.2-1.1h0m.1.7h0m.3-.6h0m.6-.5h0m.2.8h0m.4-1h0m.1 1.1h0m.5-.4h0m.6 1.2h0m.1-1.6h0m.5.5h0m.1-.9h0m.5.8h0m.3.5h0m.3-.8h0m.4.7h0m.2-1.7h0m.1 1.4h0m.3.7h0m.2-.9h0m.3-.6h0m.1 1.2h0m.3-.8h0m.5.9h0m.1-.6h0m.6.2h0m.2.7h0m.1-.8h0m.3.6h0m.5-.6h0m.4.5h0m.2.9h0m.3-1.9h0m.1.9h0m.5-.4h0m.6.2h0m.1-.6h0m.3 1.2h0m.1-1.2h0m.5.9h0m.1-.7h0m.3 1.5h0m.2-.8h0m.3-1.3h0m.1 1.3h0m.6-1.1h0m.3 1.1h0m.5.7h0m.3-1h0m.3-1h0m.3 1.3h0m.1-1.3h0m.2 1h0m.6-.6h0m.1 1.3h0m.2-1h0m.1-.9h0m.2 1.3h0m.3.5h0m.3-.9h0m.1.9h0m.2-.9h0m.3.7h0m.3-.7h0m.1.6h0m.3-.8h0m.2-1.2h0m.1 1.8h0m.6-.5h0m.6-.3h0m.2.9h0m.3-.7h0m.1.9h0m.2-.8h0m.3.6h0m.2-.7h0m.2.7h0m.3-1h0m.4.5h0m.2 1.3h0m.1-1.1h0m.5-.6h0m.6.9h0m.4-.8h0m.3.7h0m.6-.1h0m.5-.5h0m.7 1h0m.2-.9h0m.7.9h0m.2-1h0m.3-.8h0m.1.6h0m.3.8h0m.3-1.4h0m.2 1.4h0m.4-1.2h0m.2 1.4h0m.1-1.9h0m.2.9h0m.6-.6h0m.1 1.2h0m.2-2.2h0m.1.6h0m.3.8h0m.3-1.9h0m.2 2.3h0m.1-1.5h0m.1.8h0m.3-1.2h0m.3-.7h0m.3 1.9h0m.2-1.2h0m.1.8h0m.2-.7h0m.4 1h0m.2-1.1h0m.4-1.7h0m.2-.7h0m.1-1.5h0m.2 1.8h0m.1-.8h0m.2-.9h0m.4-1.5h0m.6.1h0m.2-.6h0m.6.7h0m.1.7h0m.3 1h0m.2.8h0m.3.8h0m.1.7h0m.3 1.5h0m.2-1.2h0m.1 2.4h0m.2-1.4h0m.1 1.6h0m.2-.8h0m.1 1.2h0m.2-1h0m.6.8h0m.6-.2h0m.6.7h0m.1-.6h0m.6-.2h0m.3.8h0m.1-1.2h0m.2.8h0m.1-.9h0m.3 1.4h0m.5-.5h0m.6.6h0m.3-1.1h0m.3 1.2h0m.3-1h0m.1.8h0m.2-1.1h0m.3 1.2h0m.1-.7h0m.5.8h0m.3-.8h0m.1 1h0m.2-1.4h0m.1-.8h0m.2 1.2h0m.1.8h0m.3-.9h0m.2.7h0m.4-1h0m.2 1h0m.1-.9h0m.3 1.4h0m.2-.9h0m.1.8h0m.2-1.5h0m.1.6h0m.5.7h0m.4-.5h0m.6.4h0m.3-.6h0m.6-.9h0m.2 1.2h0m.4-.8h0m.6.6h0m.1.7h0m.2-.6h0m.3-1h0m.1.9h0m.2-.8h0m.1.9h0m.5-2.1h0m.1.6h0m.6.2h0m.5-.4h0m.6-.1h0m.1-.9h0m.2 1h0m.4-1.3h0m.2 1.2h0m.1-.6h0m.5-.9h0m.3 1h0m.4-1.4h0m.3.6h0m.2-1.6h0m.1 2.4h0m.2-1.1h0m.1 1.8h0m.2-1.5h0m.6 1.3h0m.3-.7h0m.1 1.4h0m.3-.6h0m.2.7h0m.1.7h0m.2-.7h0m.6.8h0m.1-.6h0m.3-.7h0m.1.8h0m.3 1.1h0m.2-1.1h0m.6.2h0m.1.6h0m.6-.6h0m.3.5h0m.2.7h0m.1-.7h0m.3-.6h0m.5 1.2h0m.4-1h0m.3 1.5h0m.3-.9h0m.3-.6h0m.2 1h0m.1.8h0m.2-1.5h0m.7.1h0m.5-.7h0m.3.5h0m.4-.6h0m.3.6h0m.2.7h0m.1-.6h0m.6-.2h0m.2-.6h0m.4.6h0m.2.9h0m.1-1.4h0m.2 1.1h0m.5-.6h0m.6.5h0m.3-.7h0m.2.9h0m.3-1h0m.1.6h0m.2.6h0m.3-1.3h0m.1.8h0m.5.8h0m.1-2.4h0m.2 1.7h0m.1-1.1h0m.2.8h0m.1.6h0m.3-1.1h0m.2 1.2h0m.1-1.1h0m.6-.5h0m.2 1h0m.1-.8h0m.2.9h0m.1-1h0m.2.9h0m.3-.7h0m.3.7h0m.3-1.2h0m.3.6h0m.1.9h0m.2-1.5h0m.1-1.4h0m.6-1.3h0m.2-.7h0m.1 1.2h0m.2-.7h0m.3-1.5h0m.3 1.3h0m.1-1.1h0m.2-.8h0m.1 1.3h0m.2-.9h0m.1 1h0m.3-.6h0m.3 1.3h0m.1-.7h0m.2.9h0m.1.9h0m.2-1h0m.3 1h0m.1-.6h0m.2 1.5h0m.4-.5h0m.2 1.8h0m.6.1h0m.3 1.1h0m.3-.6h0m.3-.6h0m.1.8h0m.3-.9h0m.5.5h0m.3-.6h0m.3.6h0m.1-.7h0m.2 1.3h0m.1-.8h0m.5.5h0m.1-.6h0m.2.9h0m.4.6h0m.2-1.1h0m.3-.6h0m.1 1h0m.2-.7h0m.4.6h0m.6-1h0m.2 1.7h0m.1-1h0m.3-.5h0m.3.9h0m.3-.7h0m.3.6h0m.3-.7h0m.1 1.2h0m.2-.6h0m.1.9h0m.2-.7h0m.1-.9h0m.5 1h0m.1-1h0m.2 1.4h0m.1-.9h0m.3.7h0m.2-.9h0m.3.6h0m.6.3h0m.4-.9h0m.2 1.3h0m.1-.9h0m.6.4h0m.2-.6h0m.1-.6h0m.2 1.9h0m.1-1.3h0m.2.8h0m.1-.9h0m.3.8h0m.2-1.1h0m.1-.7h0m.2 1.8h0m.6-.8h0m.4.5h0m.5.4h0m.4-.7h0m.5.4h0m-286.4-77.8h0m48.4-80.8h0m0 2.3h0m36.7 125.4h0" stroke="#f2000a" stroke-width="4.6" stroke-linecap="round" fill="none"/>
<path d="M32 791l.5 0 .6-.1.5 0 .6 0 .5 0 .6 0 .5 0 .6 0 .5 0 .6 0 .5-.1.6 0 .5 0 .6-.1.5-.1.6-.1.5-.2.6-.4.2-.4.2-.3.2-.4.1-.5.1-.5.1-.6.1-.5 0-.5.1-.6 0-.9.1-1 0-1.3.1-1.7 0-2.2.1-2.6 0-3.2.1-3.9 0-4.6.1-5.2 0-5.7.1-6.3 0-6.6.1-6.6 0-6.2.1-5.3 0-4 .1-2 .1 2.2 0 4 .1 5.4 0 6.2.1 6.6 0 6.6.1 6.2 0 5.8.1 5.2 0 4.5.1 3.8 0 3.2.1 2.6 0 2.1.1 1.7 0 1.3.1 1.1 0 .8.1.6 0 .6.1.4.1.6.1.5.1.3.1.5.2.4.3.4.5.3.5.3.6.1.5.1.6.1.5 0 .6 0 .5.1.6 0 .5 0 .6 0 .5 0 .5 0 .6 0 .5 0 .6 0 .5 0 .6 0 .5 0 .6 0 .5 0 .6 0 .5 0 .6 0 .5 0 .6 0 .5 0 .6 0 .5 0 .5 0 .6 0 .5 0 .6 0 .5 0 .6 0 .5 0 .6 0 .5 0 .6 0 .5 0 .6 0 .5 0 .6 0 .5 0 .6 0 .5-.1.6-.1.5 0 .5 0 .6.1.5 0 .6 0 .5 0 .6-.1.5 0 .6 0 .5 0 .6.1.5 0 .6 0 .5 0 .6 0 .5-.1.6 0 .5 0 .5-.1.6 0 .5 0 .6-.1.5-.1.6-.1.5-.1.6-.1.5-.2.6-.2.5-.4.5-.4.3-.4.3-.4.2-.3.2-.5.1-.4.2-.4.1-.4.1-.4.1-.5.1-.5.1-.7 0-.4.1-.4 0-.5.1-.6 0-.6.1-.7 0-.8.1-1 0-1.1.1-1.3 0-1.5.1-1.7 0-2 .1-2.2 0-2.5.1-2.9 0-3.2.1-3.5 0-3.9.1-4.3 0-4.6.1-4.9 0-5.2.1-5.4 0-5.6.1-5.6 0-5.6.1-5.4 0-5.1.1-4.7 0-4.1.1-3.4 0-2.5.1-1.8 0-1 .2.9.1.5.1-1 0-1.5.1-2.1 0-2.9.1-3.5 0-4.1.1-4.6 0-4.9.1-5 0-5 .1-4.6 0-3.9.1-3 0-1.7.1.9.1 2.8 0 4.3.1 5.5 0 6.7.1 7.5 0 8 .1 8.3 0 8.5.1 8.4 0 8.3.1 7.9 0 7.4.1 7.1 0 6.5.1 6 0 5.4.1 4.9 0 4.3.1 3.9 0 3.4.1 3 0 2.6.1 2.2 0 1.9.1 1.7 0 1.4.1 1.2 0 1.1.1.9 0 .8.1.7 0 .6.1.5 0 .5.1.4 0 .4.1.4.1.6.1.6.1.4.1.4.1.4.1.5.2.4.1.3.2.4.3.5.3.3.3.4.5.4.6.3.5.2.6.1.5.2.6.1.5.1.6 0 .5.1.5 0 .6.1.5 0 .6 0 .5 0 .6.1.5 0 .6 0 .5 0 .6 0 .5 0 .6 0 .5 0 .6.1.5 0 .6 0 .5 0 .6 0 .5 0 .5 0 .6 0 .5 0 .6 0 .5 0 .6 0 .5 0 .6 0 .5 0 .6 0 .5 0 .6 0 .5 0 .6 0 .5 0 .6-.1.5 0 .6 0 .5 0 .5-.1.6 0 .5-.1.6-.2.3-.4.3-.4.2-.4.1-.4.2-.3.2-.4.5.3.2.4.3.4.5.1.3-.4.2-.5.1-.4.1-.6.1-.6 0-.5.1-.4 0-.5.1-.6 0-.6.1-.7 0-.7.1-.8 0-.9.1-.9 0-1 .1-1 0-1 .1-1.1 0-1.1.1-1.2 0-1.1.1-1.2 0-1.1.1-1 0-1 .1-.8 0-.8.1-.6 0-.5.3.6 0 .6.1.8 0 .9.1 1 0 1.1.1 1.1 0 1.1.1 1.2 0 1.1.1 1.1 0 1.1.1 1.1 0 1 .1.9 0 .9.1.9 0 .8.1.7 0 .7.1.6 0 .6.1.5 0 .4.1.4 0 .4.1.6.1.5.1.4.2.4.2.4.3.3.5.4.6.2.5.1.6.1.5 0 .6.1.5 0 .6 0 .5 0 .6.1.5 0 .6 0 .5 0 .6 0 .5 0 .6 0 .5 0 .6 0 .5 0 .5 0 .6 0 .5 0 .6 0 .5 0 .6 0 .5 0 .6 0 .5 0 .6 0 .5 0 .6 0 .5 0 .6 0 .5 0 .6 0 .5-.1.5 0 .6 0 .5 0 .6 0 .5-.1.6 0 .5-.1.6-.1.5-.1.6-.1.5-.3.5-.4.3-.3.2-.4.2-.4.1-.5.1-.5.1-.6.1-.7.1-.4 0-.4.1-.5 0-.6.1-.5 0-.7.1-.6 0-.8.1-.7 0-.9.1-.8 0-1 .1-.9 0-1.1.1-1 0-1.1.1-1.1 0-1.2.1-1.1 0-1.2.1-1.2 0-1.1.1-1.1 0-1.1.1-1 0-.9.1-.8 0-.7.1-.6 0-.4.1-.4.2.7 0 .5.1.7 0 .7.1.9 0 1 .1 1.1 0 1.1.1 1.1 0 1.1.1 1.2 0 1.2.1 1.1 0 1.1.1 1.2 0 1 0 1 .1 1 0 1 .1.9 0 .8.1.8 0 .7.1.7 0 .7.1.6 0 .5.1.5 0 .5.1.4 0 .4.1.6.1.6.1.4.1.3.2.5.2.3.3.4.5.4.5.3.6.1.5.1.6.1.5.1.6 0 .5.1.6 0 .5 0 .6 0 .5 0 .6 0 .5.1.5 0 .6 0 .5 0 .6 0 .5 0 .6 0 .5 0 .6 0 .5 0 .6 0 .5 0 .6 0 .5 0 .6 0 .5 0 .6-.1.5 0 .6 0 .5 0 .5 0 .6 0 .5-.1.6 0 .5-.1.6-.1.5-.1.6-.3.4-.3.3-.4.2-.4.1-.5.1-.4.1-.4.1-.5.1-.5.1-.6.1-.7.1-.4 0-.4.1-.4 0-.4.1-.4 0-.5.1-.4 0-.5.1-.4 0-.5.1-.4 0-.5.1-.4 0-.4.1-.4 0-.4.1-.7.1-.5.2-.4.3.6.1.4.1.6.1.7.1.6.1.6.1.6.1.5.1.4.1.5.3.3.5.1.3.4.1.5.1.4.1.4.1.5.1.5.1.5.1.4.1.5.1.4.1.4.1.4.1.4.2.4.2.4.2.4.5.4.5.2.6.1.5 0 .6 0 .5-.1.6-.3.4-.4.3-.4.6-.3.5.4.3.3.3.4.5.4.6.2.5 0 .6.1.5 0 .5 0 .6 0 .5 0 .6 0 .5 0 .6 0 .5 0 .6 0 .5 0 .6 0 .5-.1.6 0 .5 0 .6-.1.5-.1.6-.1.5-.1.5-.3.4-.4.2-.5.2-.4.2-.4.1-.4.2-.4.1-.5.2-.5.1-.5.2-.4.2-.4.5 0 .2.4.2.4.3.4.5-.3.2-.5.1-.4.1-.6.1-.6 0-.4.1-.4 0-.5.1-.4 0-.5.1-.5 0-.6.1-.6 0-.6.1-.6 0-.7.1-.6 0-.7.1-.8 0-.7.1-.7 0-.8.1-.8 0-.7.1-.8 0-.8.1-.7 0-.7.1-.7 0-.7.1-.6 0-.6.1-.5 0-.5.1-.4.1-.6.3.7.1.4 0 .5.1.6 0 .5.1.7 0 .7.1.7 0 .7.1.8 0 .8.1.7 0 .8.1.8 0 .8.1.7 0 .8.1.7 0 .7.1.7 0 .7.1.7 0 .6.1.6 0 .6.1.5 0 .6.1.5 0 .4.1.5 0 .4.1.4 0 .4.1.6.1.6.1.5.1.4.1.4.2.5.1.3.2.4.3.3.5.4.5.3.6.1.5.1.6.1.5.1.6.1.5 0 .6 0 .5.1.6 0 .5 0 .6 0 .5 0 .6.1.5 0 .6 0 .5 0 .6 0 .5 0 .5 0 .6 0 .5 0 .6 0 .5 0 .6 0 .5 0 .6 0 .5 0 .6 0 .5 0 .6 0 .5 0 .6 0 .5 0 .6 0 .5 0 .5 0 .6.1.5 0 .6 0 .5 0 .6 0 .5 0 .6 0 .5 0 .6 0 .5 0 .6 0 .5 0 .6-.1.5 0 .6 0 .5 0 .6 0 .5 0 .5 0 .6 0 .5 0 .6 0 .5 0 .6 0 .5 0 .6 0 .5 0 .6 0 .5 0 .6 0 .5-.1.6 0 .5 0 .6-.1.5-.2.6-.3.4-.4.4-.4.5-.3.5-.1.6.2.5.1.5-.4.2-.4.2-.4.2-.4.1-.5.2-.5.1-.5.1-.3.1-.4.1-.4.2-.5.1-.4.2-.4.5-.1.2.4.2.5.1.5.1.3.1.4.1.4.1.3.1.4.2.5.1.5.2.4.1.4.2.4.2.4.3.4.5.4.5.2.6.1.5.1.5.1.6 0 .5 0 .6 0 .5.1.6 0 .5 0 .6 0 .5 0 .6 0 .5 0 .6 0 .5 0 .6 0 .5 0 .6 0 .5 0 .6 0 .5 0 .5 0 .6 0 .5-.1.6 0 .5-.2.6-.2.5-.3.6-.3.5-.3.6-.2.5-.2.6-.3.5-.3.6.1.4.4.4.4.3.3.4.4.5.4.6.2.5.1.6 0 .5.1.6 0 .5 0 .6 0 .5 0 .6 0 .5 0 .6 0 .5 0 .6 0 .5 0 .6 0 .5 0 .6 0 .5 0 .5 0 .6 0 .5 0 .6 0 .5 0 .6 0 .5 0 .6 0 .5-.1.6 0 .5-.1.6-.1.5-.1.6-.4.4-.4.3-.4.2-.4.2-.4.2-.4.2-.4.2-.4.2-.3.2-.4.6-.3.4.5.2.4.2.4.2.4.2.4.2.4.3.4.2.4.3.3.5.4.5.3.6.1.5.1.6 0 .5 0 .6.1.5 0 .6 0 .5 0 .6 0 .5 0 .6 0 .5 0 .5 0 .6.1.5 0 .6 0 .5 0 .6 0 .5 0 .6 0 .5 0 .6 0 .5 0 .6 0 .5 0 .6 0 .5 0 .6 0 .5 0 .1 0" stroke="#000" stroke-width="1.35" fill="none" stroke-linejoin="round"/>
<path d="M43.7 798.2V803.6M90.4 798.2V803.6M91.8 798.2V803.6M127.2 798.2V803.6M129 798.2V803.6M160.1 798.2V803.6M187.5 798.2V803.6M189.8 798.2V803.6M213.5 798.2V803.6M215.4 798.2V803.6M216.9 798.2V803.6M262.8 798.2V803.6M267.3 798.2V803.6M281.5 798.2V803.6M283.2 798.2V803.6M285 798.2V803.6M288.2 798.2V803.6M290.5 798.2V803.6M308.9 798.2V803.6M310.7 798.2V803.6M312.7 798.2V803.6M328.6 798.2V803.6" stroke="#2f9a62" stroke-width="1.1" fill="none"/>
<path d="M119.7 798.2V803.6M183 798.2V803.6M234.9 798.2V803.6M279.8 798.2V803.6" stroke="#8fd0ac" stroke-width="1.1" fill="none"/>
<path d="M43.7 808V813.4M57.9 808V813.4M91.3 808V813.4M102.3 808V813.4M111.3 808V813.4M120.2 808V813.4M129.5 808V813.4M138.2 808V813.4M145.7 808V813.4M161.1 808V813.4M169.1 808V813.4M183 808V813.4M190 808V813.4M197 808V813.4M216.9 808V813.4M229.4 808V813.4M235.9 808V813.4M247.8 808V813.4M254.3 808V813.4M265.3 808V813.4M276.3 808V813.4M280.3 808V813.4M283.2 808V813.4M286.2 808V813.4M289.2 808V813.4M311.2 808V813.4M315.1 808V813.4M323.1 808V813.4M326.1 808V813.4" stroke="#2f9a62" stroke-width="1.1" fill="none"/>
<path d="M223.9 808V813.4M271.8 808V813.4M296.5 808V813.4M301.2 808V813.4M319.1 808V813.4M329.4 808V813.4" stroke="#8fd0ac" stroke-width="1.1" fill="none"/>
<path d="M32 836.9l.2-.5.3.6.2.3.3-.4.2-.1.3-.3.2.1.3-.1.2.7.3 0 .2-.1.3-.3.2.3.3-.2.2-.8.3.4.2-.2.3.5.2-.2.3.3.2-.7.3.7.2.2.3-.4.2-.3.3.1.2.4.3-.1.2-.9.3 1.4.2-.5.3.1.2-.4.3.7.2.3.3-1 .2.3.3 0 .2-.1.3-.1.2.8 0-1.3.1.8 0-.1.1-.5 0 .7.1-.5 0 1 .1.1 0 .1.1.5 0-.8.1.4 0 .4.1.7 0-.5.1-.2 0 0 .1-.1 0-.9.1.4 0-.5.1-.9 0-.7.1-.9 0 .4.1-.8 0-.6.1-.4 0 0 .1.8 0-.5.1 1.3 0 .5.1.9 0 .7.1.5 0 2.5.1.3 0 .3.1.6 0 .3.1-1 0 1.1.1-.9 0-.4.1-1.4 0-.2.1-.9 0 .5.1-1.6 0-.5.1-.1 0-.8.1 0 0-.1.1-.3 0-.1.1-.3 0 .4.1-.1 0 1.4.1-.1 0 .7.1-.3 0 .5.1-.8 0 0 .1.7 0-.1.1.4.2-.8.3-.1.2.4.3.3.2-.2.3-.2.2-.2.3.3.2.5.3-.3.2-.6.3.5.2.7.3-.6.2.6.3-.8.2.1.3 1 .2-1.2.3.2.2.1.3.3.2-.3.3.8.2-.3.2 0 .3-.2.2.1.3-1 .2.8.3-.6.2.4.3.6.2-.2.3-.7.2.5.3-.1.2.3.3-.4.2-.4.3.8.2-1.1.3.8.2-.3.3.1.2.8.3-1 .2.1.3.4.2-1.1.3.4.2.9.3-.4.2 0 .3.7.2-1.3.3.7.2-.2.3.2.2-.5.3-.4.2.8.3-.6.2.4.3-.4.2.8.2-.4.3.6.2.2.3-.9.2-.1.3.4.2.3.3.1.2-.5.3.2.2.2.3-.2.2-.5.3.6.2.2.3-.9.2.5.3.2.2-.4.3.1.2.1.3 0 .2 0 .3-.3.2.1.3.6.2-.9.3.5.2-.8.3 1 .2-.8.3.8.2.3.3-.5.1-.3 0 .4.1.5 0 0 .1-.7 0 .8.1-.3 0 .6.1 0 0 .3.1.2 0 .1.1.7 0-.8.1.2 0 .3.1-.3 0-.1.1-.4 0-1.3.1-1.2 0 .3.1-3.1 0-.3 0-1.3.1-1.5 0-.1.1-1.5 0-1.6.1 1.2 0 .4.1 1.1 0 .3.1.5 0 1.5.1 1 0 .7.1 1.6 0 .8.1.6 0 .4.1.1 0-.3.1 1.2 0-.8.1-.4 0 .5.1-.5 0 .5.1.3 0-.6.1.2 0 .2.1-.2 0 0 .1-.3 0 0 .1.5 0-.2.1.1 0-.1.1-.6 0 .7.1-.6 0 .8.1-.1 0-.1.1 0 0 .4.1-.1 0-1.1.1.7 0 .6.1-.7 0 0 .1 1 0-.5.1 1.1 0 .3.1-.3 0 .3.1 1.6 0-.2.1 0 0 .2.1.5 0-.6.1-.7 0-.5.1-.3 0-1 .1-1.2 0-.9.1-2.1 0 .3.1-1.7 0-1.1.1-1.4 0 .7.1-1.1 0 1.8.1-1.4 0 1.9.1.3 0 1.6.1-.8 0 1.6.1.2 0 1.2.1.5 0 .3.1.5 0-.3.1-.1 0 .5.1-.1 0 0 .1.2 0 .5.1-.5 0 .3.1-.1 0-.7.1 1 0-.4.1-.4 0 .4.1.3 0-.3.1.3 0-.7.1-.5 0 .4.1.3 0-.1.1.4 0-1 .1.8 0 .4.1-.4.2-.2.2.5.3-1.1.2.9.3.5.2-.9.3.4.2-.2.3 0 .2.3.3.1.2-1.1.3-.4.2 1.2.3-.4.2 0 .3.2.2.1.2-.1.3.4.2-.5.3.4.2-.5.3.1.2 0 .3.8.2-.3.3-.1.2-.4.3 0 .2.4.3.2.2-.1.3-.4.2.1.3-.3.2.6.3-.1.2.3.3-.2.2 0 .3-.5.2-.3.3.9.2-.4.3.4.2-1.1.3.8.2-.3.2.5 0-1.3.1 1.1 0-.1.1 0 0 .1.1 1.3 0-.2.1.3 0 .4.1.7 0 .4.1.6 0-1.1.1-.1 0 .6.1-.8 0 .3.1-1.4 0 0 .1-2.3 0-2.1.1-1.4 0-1.2.1-2.1 0-1.9.1-1.7 0-1.2.1 0 0 1.2.1 0 0 .8.1 1.7 0 2.9.1 2.7 0 2.2.1 1.6 0 1.7 0 2.7.1.7 0 1.7.1-.5 0 .7.1-.5 0-.5.1.1 0-2.2.1-1.2 0-.5.1-1 0-1.7.1-.5 0-1.7.1-1.9 0-.2.1-.2 0-1.2.1-.3 0 .7.1.8 0-.3.1.6 0 1.6.1.7 0 1.2.1.8 0 1.5.1.5 0 1.5.1.1 0 0 .1.8 0-.8.1-1.3 0 .2.1-.3 0-.1.1-.3 0-1.3.1.1 0-.7.1-.7 0 .1.1-1.1 0 .4.1.7 0-.8.1.7 0-.3.1.4 0-.6.1 1.1 0-.3.1-.1 0 2 .1-2.3 0 .9.1.1 0 .5.1-1.1.1.8.3 0 .2-.2.3.2.2-.3.3-.1.2.6.3-.8.2.6.3-.5.2 0 .3.9.2-.7.3-.4.2.4.3.3.2-.6.3.4.2-.4.3-.3.2 1.1.3-.2.2.3.3.4.2-.2.3-.5.2-.2.3-.2.2.8.2-.5.3-.2.2-.3.3.2.2.1.3 0 .2 0 .3.3.2.5.3-.4.2-.2.3.1.2.2.3.3.2-1.2.3.2.2.5.3.6.2-.5.3.1.2-.6.3.5.2.2.3-.8.2.3.3.6.2-.4.3-.4.2.4.3-.3.2.3.3.3.2-.6.3.3.2-.3.3-.7.2.2.3.6.2.4.2.1.3-1.3.2 1 .3-.7.2-.6.3.9.2-.2.3.7.2-.2.3-.6.2.2.3.7.2-.2.3.1.2-.6.3-.1.2.9.3 0 .2-.7.3-.2.2.7.3-.1.2-1 .3 1 .2.1.3-.6.2.9.3-.5.2 0 .3-.6.2.2.3.2.2.3.3 0 .2-.3.3.3.2-.8.3.5.2-.2.3 0 .2.4.2-.1.3.2.2.2.3-1.1.2 1 .3-.5.2.2.3 0 .2.2.3-.6.2 0 .3.1.2.1.3.3.2 0 .3-.3.2.5.3-.4.2-.3.3.6.2-.8.3.8.2.2 0-.3.1.7 0-.9.1-.4 0 1.4.1-.5 0 .4.1.1 0-.1.1.8 0-.6.1 1.2 0-.4.1.5 0 .1.1-.2 0-.4.1.1 0-1 .1-.7 0-.4.1-1.2 0-.9.1-1.1 0 .2.1-1 0 .3.1-.9 0 .4.1-.1 0 .5.1 1 0 .7.1 1.3 0 .7.1 1 0 2.3.1.2 0 .3.1.8 0 .1.1.2 0-.8.1.1 0-.6.1-.6 0-.9.1-.7 0-.2.1-.1 0-1.1.1-.2 0-.3.1-.6 0 1 .1-1.4 0-.4.1 1.1 0-.1.1.1 0-.1.1.8 0-.3.1.2 0-.2.1 1 0-.7.1.2 0 0 .1 0 .3.2.2-.4.2.9.3-.5.2-.5.3.7.2.2.3-.9.2-.1.3.4.2.1.3.2.2-.6.3.9.2-.2.3-.9.2.7.3-.3.2 0 .3-.1.2 1 .3-.4.2-.4.3-.1.2-.5.3 1.9.2-1.5.3.9.2-.4.3-.4.2.5.3-.4.2.1.3.5.2-.8.3 1 .2-1.5.3 1.3.2-.5.3-.3.2-.3.3.4.2.3.2-.4.3.4.2.4.3-.7.2.3.3-.5.2.4.3.4.2-1 .3.2.2.7.3.3.2-.3.3.1.2-.4.3-.2.2.5.3-.6.2.5.3-.4.2.5.3-.3.2-.7.3.9.2-.1.3-.3.2.1.3-.1.2-.6.3 1.1.2-.2.3.7.2 0 .3-.6.2-1.1.3.7.2.5.3-.6.2.8.2-.2.3-.2.2-.4.3.7.2-.2.3-.8.2.9.3-.8.2.6.3.8.2-1.3.3 1 .2-1.3.3.1.2.1.3.2.2-.2.3.8.2.2.3-.7.2-.2.3.3.2 0 .3-.5.2.5.3 0 .2.3.3.5.2-.7.3.1.2.3.3.5 0-.9.1-.2 0 .4.1.3 0-.2.1.3 0-.5.1.2 0-.2.1.4 0 0 .1.1 0-.4.1.5 0 0 .1-.1 0-.1.1-.3 0 .2.1-.4 0-.8.1.2 0-.9.1-.2 0-.3.1-1.1 0-.5.1.8 0-.2.1 1 0-.2.1.5 0 1.3.1 1 0 1.1.1 2.1 0 .7.1.8 0 .7.1 1.2 0 .2 0-.2.1-.2 0-.6.1-.6 0-.6.1-2.6 0-.7.1-.9 0-.5.1-.6 0-.1.1-1.4 0-.3.1 0 0 0 .1-.4 0 .7.1.3 0-.2.1.3 0 1.1.1-1.1 0 1 .1.4 0 0 .1 0 0 .1.1-.3 0 .2.3.2.2.2.3-.9.2-.5.3.6.2-.1.3.4.2-.1.3.1.2.5.3-.9.2.5.3-.1.2-.3.3 0 .2 0 .3.5.2-.2.3.3.2.6.3-.6.2-.4.3.2.2-.4.3-.1.2.3.3.3.2-.6.3.3.2-.8.3.4.2 1 .3-.3.2.7.2-.9.3.3.2 0 .3-.6.2.3.3.4.2-.7.3.4.2.7.3-.9.2-.1.3.3.2-.1.3.9.2-1.5.3.3.2.8.3-.6.2.1.3.8.2-1.3.3.7.2 0 .3-.5.2 0 .3.3.2.4.3-.6.2-.5.3.6.2-.2.3.8.2-.2.3.2.2-.8.3-.1.2.9.3-.5.2.1.3.2.2-.5.2.6.3-.9.2-.3.3.3.2.8.3-.1.2-1.3.3 1.5.2-.8.3 0 .2.9.3-.5.2.4.3-1.4.2.9.3-.5.2.8.3-.3.2.3.3.6.2-.5.1-.2.1.3 0-.1.1.1 0 .1.1.3 0-.9.1.7 0-.3.1 0 0-.1.1.2 0-.1.1.8 0-.6.1.2 0-.1.1-.1 0 0 .1-.5 0 .2.1-1.2 0 .2.1-.3 0-.8.1.5 0-.9.1-.1 0 .6.1-.2 0 .5.1-.2 0 .5.1 1.6 0-.2.1.2 0 1 .1 1.2 0-.1.1.2 0 .3.1.3 0-.1.1-1.2 0 .8.1-.4 0-1.4.1 0 0-1.4.1.6 0-1.4.1.5 0-.8.1.2 0 .2.1 0 0-.4.1.3 0 0 .1-.4 0 .7.1.5 0-.4.1.6 0 .4.1-.8 0 .7.1 1.3 0-1.6.1.6.2-.7.2.3.3-.5.2 1 .2-1.1.3.3.2.3.3 0 .2-.7.3.6.2 0 .3.3.2-.1.3-.8.2.2.3.8.2.2.3 0 .2-1.3.3.6.2-.3.3 0 .2.8.3-.9.2.4.3-.3.2.9.3-.7.2.4.3.2.2-.3.3-.6.2.6.3-.3.2.1.3.6.2-.4.3-.7.2.7.3.7.2-.2.3-.3.2.1.3-.1.2-.6.2-.1.3.9.2-.4.3.2.2-.1.3.5.2-.1.3-.2.2 0 .3 0 .2-.4.3-.5.2.7.3-.1.2.1.3-.1.2.3.3-.1.2-.8.3.3.2.5.3.3.2.3.3-1 .2.2.3-.3.2.6.3-.3.2-.4.3.8.2.4.3-.3.2-.6.3.4.2-.5.3 1.2.2-1 .3 0 .2-.4.2.8.3-.6.2.1.3-.6.2.5.3.3.2.1.3.1.2-.5.3.4.2-.5.3-.1.2.1.3.5.1-.3.1.4 0 .5.1-.8 0 .2.1-.2 0-.2.1.5 0 0 .1-.2 0 .1.1.9 0-.5.1.2 0 .3.1-.3 0-.5.1-.3 0 .4.1-.4 0-.3.1-.4 0 .1.1-.8 0 .3.1-1.2 0 .2.1-.3 0-.6.1.5 0-.5.1.1 0 1.5.1 0 0 1.5.1-.6 0 .3.1 1.7 0-.4.1.8 0-.2.1.8 0-1.1.1.3 0-.6.1.5 0-.5.1-.6 0 0 .1-.5 0-.4.1.7 0-.5.1.5 0-.7.1-.3 0 .5.1-.1 0 .4.1-.4 0-.1.1.5 0-.1.1.1 0-.3.1.2 0 .1.1 0 0 .3.1-.4.1.3.3-.4.2.1.3.2.2.1.3-.1.2-.2.3-.1.2-.4.3 0 .2.7.3-.2.2.7.2-.1.3-.9.2.6.3 0 .2 0 .3-.1.2-.6.3 1.4.2-.9.3.3.2-.8.3.2.2.4.3.2.2-.1.3-.3.2.5.3-.6.2-.2.3.6.2-.7.3.3.2-.1.3 0 .2 0 .3.1.2-.3.3.7.2-.4.3 0 .2.5.3-.7.2-.1.3.3.2.4.3-.6.2.1.3.6.2-1 .2 1.1.3-.8.2-.2.3.3.2 0 .3-.2.2.6.3-1 .2.7.3-.1.2-.5.3.4.2.8.3-.7.2.2.3-.3.2.2.3-.6.2 1.1.3-.9.2.2.3.8.2-.5.3.8.2-.4.3-.5.2-.2.3.2.2 0 .3.1.2.4.3-.2.2-.6.3.9.2-.3.3-.2.2.3.3-.1.2.1.3-.6.2.3.2.8.3-1.3.2.2.3 1 .2-.7.3.5.2-.7.3.1.2.8.3.1.2-.6.3 0 .2.4.3-.3.2-.1.3-.8.2.3.3-.1.2.9.3-.5.2.1.3.1.2-.2.3 0 .2-.2.3.2.2-.1.3 0 .2 1.2.3-.8.2-1 .3.4.2.5.3-.5.2.2.3.3.2-.5.3-.1.2.2.2.4.3-.7.2.1.3.9.2.6.3-.6.2-.8.3.3.2-.7.3 1.4.2-.4.3-.3.2-.3.3.2.2-.7.3.5.2-.5.3-.3.2 1.8.3-.8.2.3.3-.1.2-.2.3.5.2-.8.3.2.2-.2.3 0 .2-.2.3 1 .2-.8.3.6.2-.8.3.3.2.6.3-.7.2 1 .3-1.2.2.8.3-.3.2-.4.2.6.3-.2.2.6.3-.1.2-.3.3.3.2 0 .3-1.1.2.4.3.4.2-.6.3.1.2-.3.3 1.1.2 0 .3-.3.2.3.3-.5.2 0 .3.2.2.3.3-.1.2.1.3-.1.2-.6.3.3.2-.1.3.2.2.6.3-1.1.2.2.3.8.2-.4.3-.1.2-.2.3-.7.2.8.3 0 .2.3.2-.9.3 1.4.2-1 .3.4.2-.1.3 0 .2-.2.3.1.2.7.3-1 .2.9.3-.6.2-.4.3-.3.2.4.3.2.2.1.3.5.2-.5.3-.4.2.6.3 0 .2-.5.3-.3.2 1.1.3 0 .2-.6.3-.3.2-.4.3 1.3.2-.8.3.4.2-.7.3 1 .2-1.2.3.3.2.5.3 0 .2.6.3-.1.2-.1.2.3.3.3.2-1.4.3 1.4.2-.7.3.1.2-.1.3-.4.2.4.3.3.2-.9.3.1.2.3.3-.5.2 1 .3-.5.2-.2.3-.3.2.7.3-.2.2.1.3 0 .2-.5.3-.2.2.5.3.3.2 0 .3.1.2-.3.3 0 .2.4.3-.6.2-.2.3-.1.2-.3.3 0 .2 1.1.3-.7.2 0 .2 1 .3-1.1.2.4.3.1.2-.2.3.5.2 0 .3-.2.2-.4.3.5.2-.1.3.1.2-.4.3-.4.2-.2.3.4.2-.6.3 1.4.2-.8.3 0 .2.3.3-.2.2 0 .3-.8.2 1.5.3-.4.2.4.3-.3.2.2.3-.9.2.2.3.1.2-.1.3 0 .2.3.3-.5.2.6.3-.2.2-.7.3.5.2.6.2-.5.3-.1.2.1.3.5.2-.6.3.8.2-1.1.3.4.2-.2.3.8.2-.1.3-.2.2 0 .3-.7.2.2.3.5.2-.2.3.5.2-.6.3.4.2 0 .3.4.2.2.3-1 .2-.2.3.6.2-.6.3.5.2-.2.3.6.2-1.5.3.6.2.4.3.1.2.2.3-.6.2.2.3.4.2-.4.2-.5.3 1.3.2-.6.3.3.2-.4.3.1.2-.8.3.4.2-.6.3.7.2.5.3-.7.2 0 .3 1.2.2-1.2.3.5.2.2.3-.2.2.4.3-.4.2-.7.3.7.2-.6.3.6.2-.1.3.2.2-.7.3.7.2.1.3.2.2-1.5.3.9.2.5.3.1.2-.1.3-.5.2-.8.3.7.2.7.3-1.3.2.7.2-.4.3.3.2-.2.3.6.2 0 .3-.3.2.5.3-.2.2-.3.3.1.2-.2.3.9.2-.6.3-.4.2-.3.3 0 .2.5.3-.2.2-.2.3.8.2-.6.3.7.2.1.3-.9.2-.2.3.5.2 0 .3-.2.2.2.3-.4.2.8.3.5.2-1 .3.2.2-.1.3-.3.2 1.1.3-1 .2.3" stroke="#1f5fcf" stroke-width="1.5" fill="none" stroke-linejoin="round"/>
</g>
<rect x="32" y="611" width="298" height="240" fill="none" stroke="#000" stroke-width="2"/>
<path d="M32 850.8V856.6M56.9 850.8V854.1M81.8 850.8V856.6M106.6 850.8V854.1M131.5 850.8V856.6M156.4 850.8V854.1M181.2 850.8V856.6M206.1 850.8V854.1M231 850.8V856.6M255.9 850.8V854.1M280.8 850.8V856.6M305.6 850.8V854.1M330.5 850.8V856.6" stroke="#000" stroke-width="1.8" fill="none"/>
<text x="32" y="874.4" text-anchor="middle" class="tl" style="font-size:18.7px">20</text>
<text x="81.8" y="874.4" text-anchor="middle" class="tl" style="font-size:18.7px">30</text>
<text x="131.5" y="874.4" text-anchor="middle" class="tl" style="font-size:18.7px">40</text>
<text x="181.2" y="874.4" text-anchor="middle" class="tl" style="font-size:18.7px">50</text>
<text x="231" y="874.4" text-anchor="middle" class="tl" style="font-size:18.7px">60</text>
<text x="280.8" y="874.4" text-anchor="middle" class="tl" style="font-size:18.7px">70</text>
<text x="330.5" y="874.4" text-anchor="middle" class="tl" style="font-size:18.7px">80</text>
<text x="127.2" y="896.5" class="xt" style="font-size:23.6px">2<tspan class="th">θ</tspan> (Degrees)</text>
<text transform="translate(22.1 732.2) rotate(-90)" text-anchor="middle" class="yt" style="font-size:23.1px">Intensity (a.u)</text>
<text x="111.2" y="654.1" class="pl" style="font-size:43.5px">(e)</text>
<circle cx="211.2" cy="629.3" r="2.5" fill="#f2000a"/>
<path d="M198.4 647.2H224" stroke="#000" stroke-width="1.5"/>
<path d="M198.4 665.1H224" stroke="#5b8fd6" stroke-width="1.5"/>
<path d="M211.2 680.4V685.6" stroke="#8fd0ac" stroke-width="0.9"/>
<text x="226.8" y="632.8" class="lg" style="font-size:11.5px">Y<tspan style="font-size:7.1px" dy="4">obs</tspan></text>
<text x="226.8" y="650.7" class="lg" style="font-size:11.5px">Y<tspan style="font-size:7.1px" dy="4">cal</tspan></text>
<text x="226.8" y="668.6" class="lg" style="font-size:11.5px">Y<tspan style="font-size:7.1px" dy="4">obs</tspan><tspan dy="-4">-Y</tspan><tspan style="font-size:7.1px" dy="4">cal</tspan></text>
<text x="226.8" y="686.5" class="lg" style="font-size:11.5px">Bragg position</text>
<clipPath id="clipf"><rect x="374.1" y="611.9" width="298" height="239.7"/></clipPath>
<g clip-path="url(#clipf)">
<path d="M374.2 794.7h0m.1.5h0m.5.6h0m.1-1h0m.4-.5h0m.3.7h0m.5.5h0m.6-.7h0m.1-.8h0m.2 1.4h0m.1-1.2h0m.2.8h0m.6-.2h0m.1.5h0m.2-1h0m.1 1h0m.2-1.2h0m.1 1.4h0m.2-.8h0m.3.9h0m.1-1.8h0m.2.9h0m.3.6h0m.6-.4h0m.4.4h0m.8-.7h0m.3.5h0m.1-.7h0m.2-.6h0m.3 1.2h0m.5-.9h0m.2 1.7h0m.1-1.2h0m.3 1h0m.2-1.8h0m.6.1h0m.6.1h0m.4-3.2h0m.2 1.3h0m.1-2.1h0m.2-3.6h0m.1-6.9h0m.2-8.5h0m.1-11.6h0m.2-13.4h0m.1-4.9h0m.2 1.9h0m.1 9.5h0m.2 11.5h0m.1 13h0m.2 6.7h0m.1 4.9h0m.2 1.4h0m.1 3.2h0m.2-.9h0m.1 1.8h0m.2-2.1h0m.1 1.7h0m.3-1.3h0m.2 1.3h0m.6 0h0m.1.9h0m.4-.5h0m.3 1.4h0m.2-1h0m.4.5h0m.6.1h0m.5-.8h0m.3.9h0m.1-.9h0m.2.9h0m.3-1h0m.6.8h0m.4 1h0m.2-1.4h0m.1-.8h0m.5.7h0m.3 1h0m.1-1.4h0m.2.6h0m.6 1.2h0m.1-1.2h0m.6 1h0m.2-1.5h0m.4.5h0m.4-1h0m.2 1.1h0m.1-.6h0m.2.8h0m.3.7h0m.1-.9h0m.2-.7h0m.3.8h0m.1-.6h0m.5-.6h0m.3.7h0m.1-.5h0m.2-1.3h0m.1 1.4h0m.2-.7h0m.4.5h0m.2-2.2h0m.1 1.4h0m.5-.8h0m.3 1.3h0m.1.9h0m.2-1.9h0m.1.9h0m.2.7h0m.4.8h0m.3-1.3h0m.2.7h0m.4 1.1h0m.6-.1h0m.3-.9h0m.3.7h0m.4-.7h0m.5 1.4h0m.1-1h0m.8-.1h0m.3.5h0m.1-1h0m.2.7h0m.6.7h0m.1-1.4h0m.2.7h0m.4-.9h0m.2 1.1h0m.6-.8h0m.1.6h0m.5-.7h0m.1 1.6h0m.2-1.6h0m.1 1.2h0m.2-1h0m.6.3h0m.1-.7h0m.3 1h0m.2-.9h0m.1-.8h0m.2 1.3h0m.1-.6h0m.1.6h0m.3-.7h0m.3.5h0m.3-1h0m.5 1.2h0m.1-.6h0m.2-.6h0m.3 1.2h0m.1-1.5h0m.3 1h0m.5-1.1h0m.3-.9h0m.1 1.2h0m.5.9h0m.1-.8h0m.3.5h0m.2.7h0m.1-1.5h0m.2.9h0m.3-1.2h0m.1.6h0m.6.5h0m.5-.5h0m.1 1h0m.2-1.6h0m.1 1.5h0m.5-.7h0m.1-.6h0m.1 1.6h0m.3-1.2h0m.2 1.2h0m.3-.7h0m.1.9h0m.2-.8h0m.1 1h0m.3-.7h0m.5-.8h0m.1.7h0m.3 1.5h0m.3-1h0m.2-.6h0m.1.6h0m.3-.9h0m.5.5h0m.1-1.5h0m.2 2.5h0m.1-1.1h0m.5-.6h0m.1.8h0m.2.8h0m.1-.6h0m.6-.4h0m.6-.2h0m.5-.8h0m.3 1.2h0m.1-.7h0m.6.4h0m.1-1h0m.3 1.6h0m.3-.9h0m.3-.6h0m.3.7h0m.5-.4h0m.1-.9h0m.2 1h0m.1-.6h0m.2-.8h0m.1.9h0m.2-1.4h0m.4-.9h0m.6-1.2h0m.3-1h0m.3-1.7h0m.2-1.9h0m.1-4.3h0m.2-2.1h0m.1-6.2h0m.2-7h0m.1-9.9h0m.2-10.9h0m.1-14.1h0m.2-14.1h0m.1-11.7h0m.2-11.2h0m.1-8.4h0m.2-5.4h0m.1-7.5h0m.2-9.3h0m.1-10h0m.2-8.6h0m.1-1.9h0m.1 10.9h0m.2 12h0m.1 21.7h0m.2 21.3h0m.1 19h0m.2 16.8h0m.1 12.7h0m.2 9.7h0m.1 9.8h0m.2 2.2h0m.1 3.4h0m.2 3.8h0m.3 2.9h0m.3 1.6h0m.1-1.1h0m.2.7h0m.1 1.4h0m.5 1.1h0m.3-.7h0m.1.7h0m.5 1.9h0m.1-.9h0m.5.6h0m.1-.8h0m.6.4h0m.2-1.4h0m.1 1.3h0m.3 1h0m.2-1h0m.4.7h0m.2 1h0m.4-1.5h0m.3 1h0m.1-.9h0m.2 1.1h0m.1 1.3h0m.2-2.4h0m.1 1.2h0m.5-.6h0m.1-.8h0m.2.7h0m.6.4h0m.1-.6h0m.2.9h0m.6-.6h0m.1 1.5h0m.2-.9h0m.6.2h0m.1-.9h0m.3 1.3h0m.2-1h0m.6.4h0m.6-.3h0m.1.7h0m.6-.5h0m.5 1.1h0m.1-1.3h0m.6-.4h0m.1.9h0m.6-.5h0m.6.3h0m.2-.6h0m.4.9h0m.2-.7h0m.4.4h0m.5-.5h0m.6.2h0m.6-.2h0m.3.8h0m.3-.7h0m.3.6h0m.1-1.1h0m.2 1.2h0m.3-.7h0m.4.9h0m.3-.9h0m.2-1.2h0m.1 2.5h0m.3-1.2h0m.6.9h0m.3-1.5h0m.1 1.1h0m.5-.6h0m.1-.6h0m.3.9h0m.3.7h0m.3-.7h0m.6.6h0m.2-.8h0m.6 1h0m.4-.6h0m.3.5h0m.2-.9h0m.3.6h0m.4-.5h0m.6.6h0m.3-1.6h0m.2 1.2h0m.7.1h0m.2-.8h0m.1.7h0m.3-.9h0m.1 1h0m.2-1.5h0m.1 1.4h0m.5-1h0m.1 1.8h0m.2-.9h0m.3-.7h0m.4.4h0m.3-1h0m.2.7h0m.4-.9h0m.3.5h0m.2-.9h0m.1-.8h0m.6-.4h0m.6 0h0m.6-1.7h0m.2-.7h0m.3-4.7h0m.1-1.1h0m.2-4h0m.1-1.3h0m.2-3.1h0m.1-2.7h0m.2-2.8h0m.1-1.1h0m.2-.8h0m.1 2.9h0m.2 2.4h0m.1 2.3h0m.1 3.4h0m.2 4.8h0m.1 1h0m.2 1.9h0m.1.9h0m.2 2.8h0m.3 2.6h0m.1-.7h0m.3 1.1h0m.3.6h0m.2.6h0m.4-.5h0m.2 1.3h0m.4-1.6h0m.2 1.1h0m.6.5h0m.1-1h0m.2.6h0m.1-.6h0m.2.6h0m.1.8h0m.2-.8h0m.3.7h0m.1-.8h0m.6.1h0m.3-.5h0m.2 1.5h0m.1-1.2h0m.2.9h0m.1-.8h0m.3.6h0m.2.6h0m.1-1.1h0m.6-.6h0m.1 1.1h0m.3-.6h0m.3.6h0m.2-1.2h0m.1 1h0m.5-.7h0m.1 1.6h0m.2-1.4h0m.4.8h0m.3-1.2h0m.2.8h0m.3-.7h0m.1.8h0m.6-.6h0m.2.8h0m.1-.9h0m.5.8h0m.3-.9h0m.1 1.2h0m.3-.9h0m.2 1.1h0m.1-.7h0m.3.8h0m.3-2h0m.2 1.3h0m.1-.9h0m.2.7h0m.4.5h0m.3-.5h0m.4.6h0m.2.9h0m.1-1.6h0m.6.5h0m.3-.9h0m.2 1h0m.6-.3h0m.6-.4h0m.1.9h0m.6-.9h0m.8.5h0m.1-.6h0m.2.6h0m.3-1.4h0m.3 1.2h0m.6-.3h0m.4.6h0m.5-.7h0m.1 1.5h0m.1-1.6h0m.3.9h0m.3-.7h0m.6.2h0m.3-.7h0m.2 1.3h0m.3-1h0m.1 1h0m.2-1.1h0m.3 1.4h0m.1-.6h0m.2-.8h0m.6-.6h0m.1.6h0m.2.9h0m.3-.6h0m.1-.6h0m.5 1h0m.3-.7h0m.3.8h0m.1-1.7h0m.3 1h0m.2-.9h0m.1.6h0m.2-1.5h0m.1.8h0m.2-.8h0m.3 1.1h0m.1-.7h0m.5-1.8h0m.1-1.7h0m.1-1.3h0m.3-3.7h0m.3-1.7h0m.2-2.7h0m.1-3.2h0m.2-1.1h0m.1-5.6h0m.2-1h0m.1-1.7h0m.2-2h0m.3 2.1h0m.1 1.5h0m.2 2.7h0m.1 1.8h0m.2 5.2h0m.1 3.1h0m.2 1.8h0m.1 2h0m.2 2.5h0m.3 2.7h0m.4 1.2h0m.2-1h0m.1 1.6h0m.2.9h0m.4-.5h0m.2 1.6h0m.7-.3h0m.2-.7h0m.4.7h0m.3-.9h0m.2 1.9h0m.1-1.8h0m.2.9h0m.1-.6h0m.3 1.9h0m.1-.8h0m.2-.7h0m.1 1.1h0m.2-1.1h0m.1 1.2h0m.2-.7h0m.4-.6h0m.6.5h0m.8-.3h0m.1.7h0m.2-.6h0m.7.3h0m.2.7h0m.1-.8h0m.6.1h0m.6-.2h0m.2.7h0m.1-.8h0m.5.7h0m.1-.9h0m.3.9h0m.6-.5h0m.3.8h0m.3-1.8h0m.1 1.4h0m.6.3h0m.3-1.3h0m.2.9h0m.4-.4h0m.5.6h0m.4.5h0m.3-1.6h0m.3.6h0m.3-.6h0m.2 1.2h0m.1-1.1h0m.2 1.2h0m.1-.6h0m.3-.7h0m.2 1h0m.1-1h0m.3.8h0m.5-.5h0m.1.9h0m.6-.3h0m.3-.7h0m.2.7h0m.1.6h0m.2-1.4h0m.4.9h0m.3-1h0m.1 1h0m.5-.5h0m.4.5h0m.3-.7h0m.6.1h0m.6.3h0m.2.6h0m.1-1.7h0m.2 1.1h0m.1-.7h0m.2.7h0m.3-1.7h0m.3-.6h0m.1 1.8h0m.3-1.6h0m.3-.8h0m.3-2.6h0m.2.9h0m.1-1.2h0m.2.8h0m.1-1.7h0m.2-1.2h0m.1 1h0m.2-2.1h0m.4-.4h0m.3.7h0m.2-1.3h0m.2 2h0m.2-2.1h0m.1 2.9h0m.2-.9h0m.3-1.2h0m.3 1.1h0m.3.7h0m.4 1.1h0m.2 1.3h0m.4 1.3h0m.3 1.6h0m.2-1.4h0m.1 2.8h0m.6-.6h0m.2.7h0m.1.8h0m.2-1.3h0m.1 1.1h0m.2-1.4h0m.3 1.1h0m.1-1.3h0m.3 1.4h0m.5-1.1h0m.1.6h0m.3 1.5h0m.2-.8h0m.1-.6h0m.2-.6h0m.1-.6h0m.2 1.2h0m.1-.8h0m.3-.6h0m.1-1.3h0m.3.9h0m.3.8h0m.2-1h0m.1-.5h0m.5 1.8h0m.6.9h0m.4-.9h0m.3.6h0m.3.6h0m.3.8h0m.2-2h0m.1 1.4h0m.6-.2h0m.5 1.1h0m.4-.8h0m.3.8h0m.2-1.4h0m.6-.4h0m.1.7h0m.2-.6h0m.1.8h0m.2.9h0m.1-1.4h0m.3.7h0m.6-.1h0m.1-.8h0m.2.9h0m.4-1.4h0m.2 1.1h0m.6-.2h0m.1-.7h0m.2 1.5h0m.1-1.1h0m.2 1.2h0m.1-1.7h0m.3 1.4h0m.2-1h0m.3 1h0m.3.7h0m.1-.8h0m.5-1.1h0m.1 1.1h0m.2-.9h0m.1.9h0m.3-1.3h0m.2 1.8h0m.3-1.2h0m.6.1h0m.4-.7h0m.2 1.4h0m.4-1.7h0m.4-.9h0m.3-.8h0m.5-1.5h0m.1 1.2h0m.2-1h0m.6-.4h0m.1-1.5h0m.2.8h0m.4-.6h0m.2.7h0m.4.6h0m.2-2.6h0m.1 1h0m.5-.7h0m.1-1.5h0m.2-.7h0m.1-2.1h0m.2-1.1h0m.1-3.5h0m.2-2.3h0m.3-3.4h0m.1-2.4h0m.2-1.7h0m.1-1.6h0m.2-2.6h0m.3 1.4h0m.1-.6h0m.2 1h0m.3 2.5h0m.1 4.2h0m.2 2.1h0m.1 1.4h0m.2 3.5h0m.1 1.8h0m.3 3.7h0m.1.6h0m.2 1h0m.1 2.2h0m.2 1.4h0m.4 1.1h0m.6.1h0m.2 1.5h0m.6.5h0m.3-1.3h0m.1 1.8h0m.2-.9h0m.3.6h0m.3-.7h0m.1 1.1h0m.2-.6h0m.1-.7h0m.2.8h0m.6.5h0m.3-.8h0m.1 1.3h0m.2-.7h0m.4-.6h0m.5.9h0m.3-.6h0m.4.9h0m.2-.6h0m.4 1.1h0m.1-2h0m.2.9h0m.4.8h0m.3-1.3h0m.6.4h0m.5 1h0m.4-.5h0m.8-.5h0m.3 1.1h0m.1-1.5h0m.2 1.1h0m.4-.9h0m.2.6h0m.4-.6h0m.2.7h0m.1 1.1h0m.2-1.2h0m.3.6h0m.1-1.4h0m.2 1.4h0m.1-.8h0m.2-.8h0m.1.8h0m.3.7h0m.2-.8h0m.3.6h0m.5-.7h0m.6.4h0m.5.9h0m.1-.7h0m.6-.8h0m.2.7h0m.6.2h0m.1-1.5h0m.2 1.2h0m.4-.6h0m.3 1.1h0m.6-.6h0m.2-.9h0m.1 1h0m.5.9h0m.1-.6h0m.2-.7h0m.3.6h0m.4.5h0m.3-1h0m.2.7h0m.3-.5h0m.2-1.1h0m.2 1.2h0m.7-.6h0m.2 1.1h0m.4-1.2h0m.2 1h0m.3-.6h0m.1 1.1h0m.2-1.1h0m.1 1.3h0m.2-1.4h0m.3.6h0m.3-1.9h0m.1 2.3h0m.2-1h0m.3 1.6h0m.1-1.2h0m.3 1.1h0m.3-.7h0m.2.7h0m.4-.9h0m.5-.9h0m.1 2h0m.2-1.3h0m.6-.5h0m.4.5h0m.6.2h0m.4-.8h0m.3 1.2h0m.2-1h0m.3 1h0m.1-.8h0m.6-.2h0m.3.8h0m.2-.7h0m.1.6h0m.2-.9h0m.1 1.1h0m.3-.8h0m.5-1h0m.1.8h0m.6.3h0m.6.9h0m.2-.6h0m.3-.6h0m.1.8h0m.2-.9h0m.3.8h0m.3-1.1h0m.1 2.2h0m.2-1.3h0m.1-.7h0m.3.8h0m.3-.6h0m.1 1h0m.2-1.1h0m.4 1h0m.3-.8h0m.6-.1h0m.2 1h0m.1-1.2h0m.2.8h0m.4-.4h0m.3-.5h0m.2.8h0m.3-.9h0m.1.8h0m.3-2h0m.2 1.3h0m.4.7h0m.2-.8h0m.3 1.1h0m.1-1.2h0m.2 1.1h0m.1-1h0m.5-1.7h0m.6-.5h0m.1.7h0m.3.6h0m.2 1.1h0m.1-2.5h0m.2.7h0m.1.8h0m.4-1.1h0m.2 1.1h0m.1-1.1h0m.6-.3h0m.2-1.2h0m.1.9h0m.2-1.8h0m.4-1.4h0m.5-1.4h0m.4-1.8h0m.2.8h0m.3 1.5h0m.1-1h0m.2 1.9h0m.4 1.4h0m.2-1h0m.1 1.5h0m.5 1.5h0m.1 1.1h0m.3-.9h0m.2 1.5h0m.4-1h0m.2 1.5h0m.3.6h0m.1 1h0m.2-2.1h0m.1.6h0m.3-.7h0m.2 1h0m.2.9h0m.5-.5h0m.4.9h0m.3-.8h0m.3-.9h0m.2.8h0m.1-1.1h0m.2 1h0m.4.9h0m.2-.8h0m.4-.5h0m.6.1h0m.2 1h0m.3-.8h0m.3.5h0m.4.7h0m.5-.8h0m.3 1h0m.1-1.5h0m.6 1.1h0m.5-.7h0m.4.7h0m.2.6h0m.1-.8h0m.4-.5h0m.6.9h0m.3-.8h0m.2-.7h0m.1 1.7h0m.3-1.3h0m.2.7h0m.6.3h0m.3-.9h0m.3.7h0m.4-.7h0m.3-.7h0m.2.8h0m.6-1.5h0m.1 1.1h0m.2 1.2h0m.1-1.9h0m.2 1.3h0m.3-1.2h0m.3 1.3h0m.1-1.3h0m.2 1.7h0m.1-1h0m.3-1h0m.3.8h0m.3-1.3h0m.1.6h0m.5 1.3h0m.1-2.5h0m.2 1.4h0m.1-1.7h0m.2 1.6h0m.1-1.1h0m.2 1.1h0m.3 1h0m.1-1h0m.3-.7h0m.2-.6h0m.1.9h0m.5.7h0m.1-.9h0m.3 1h0m.2-1.5h0m.3 1.3h0m.3.9h0m.4-.8h0m.5-.5h0m.1.6h0m.2 1h0m.6.4h0m.3-1.2h0m.1 1h0m.3-.6h0m.3.8h0m.2-1.2h0m.1 1.1h0m.4-1h0m.8.6h0m.6-.8h0m.1 1h0m.2-.7h0m.1.6h0m.6 0h0m.3-.6h0m.3.7h0m.2-1h0m.1 1h0m.5-.4h0m.4-1h0m.2 1.3h0m.3-.6h0m.1 1h0m.2-.8h0m.3.7h0m.6-1.2h0m.3 1.2h0m.1.7h0m.3-.8h0m.2-.8h0m.4 1.3h0m.1-1h0m.6-1.5h0m.2 2.3h0m.1-.6h0m.6-.4h0m.6.1h0m.2-.7h0m.3 1.5h0m.3-.5h0m.4-.5h0m.2.7h0m.3-.9h0m.6.2h0m.3.7h0m.4-.6h0m.5-.6h0m.1.7h0m.3-1.2h0m.2.7h0m.1.9h0m.6-.8h0m.7-.6h0m.2.6h0m.1-.6h0m.2-1.2h0m.3 1.2h0m.1-2.1h0m.2 1h0m.3-1.5h0m.1 2h0m.3-2.8h0m.2.8h0m.1-1.1h0m.2-.6h0m.6-.5h0m.6 1.1h0m.3 1.1h0m.3-.9h0m.3 1.3h0m.4.9h0m.5.4h0m.1.9h0m.2.9h0m.1.7h0m.2-.9h0m.3-.9h0m.3 2.1h0m.1-2.5h0m.2 1.4h0m.4.8h0m.1-1.3h0m.5.6h0m.1 1.2h0m.2-1.9h0m.1 1.1h0m.6.6h0m.2-.6h0m.6-.4h0m.6-.7h0m.1.9h0m.2-.7h0m.1 1.5h0m.2-1.3h0m.4 1.2h0m.2-.7h0m.1.6h0m.6.2h0m.3-1.4h0m.2 1.1h0m.6-.6h0m.4.6h0m.2-.6h0m.3.6h0m.4-.5h0m.2-.6h0m.1 1h0m.1-.8h0m.3.6h0m.3-.8h0m.2.6h0m.3 1.1h0m.1-1.7h0m.2 1.3h0m.3-.8h0m.1.9h0m.3-1.1h0m.5.8h0m.6-.7h0m.3.8h0m.6.1h0m.3-.5h0m.3.5h0m.3-1h0m.6.3h0m.3.6h0m.1-1.2h0m.2.6h0m.1.7h0m-285.7-56.1h0m48.2-102h0m36.6 134.1h0" stroke="#f2000a" stroke-width="4.6" stroke-linecap="round" fill="none"/>
<path d="M374.1 795l.5 0 .6 0 .5 0 .6 0 .5 0 .6-.1.5 0 .6 0 .5 0 .6 0 .5 0 .6 0 .5 0 .5-.1.6 0 .5-.1.6 0 .5-.2.6-.3.4-.4.2-.4.2-.3.1-.5.1-.5.1-.8.1-.5 0-.7.1-.9 0-1.1.1-1.4 0-1.7.1-2.1 0-2.6.1-3 0-3.5.1-3.9 0-4.3.1-4.6 0-4.7.1-4.5 0-4.1.1-3.3 0-2.2.1-.7 0 .8.1 2.3 0 3.4.1 4.1 0 4.6.1 4.7 0 4.5.1 4.3 0 3.9.1 3.5 0 3 .1 2.5 0 2.1.1 1.7 0 1.3.1 1.1 0 .8.1.7 0 .5.1.4.1.7.1.4.1.4.2.4.3.4.5.4.5.2.6.1.5.1.6 0 .5 0 .6.1.5 0 .6 0 .5 0 .6 0 .5 0 .6 0 .5 0 .5 0 .6 0 .5 0 .6 0 .5 0 .6-.1.5-.1.6-.1.5-.1.6 0 .5.2.6.1.5 0 .6.1.5 0 .5 0 .6 0 .5 0 .6 0 .5 0 .6 0 .5 0 .6 0 .5 0 .6 0 .5 0 .6 0 .5 0 .5-.1.6 0 .5 0 .6-.1.5 0 .6-.1.5-.1.6 0 .5 0 .6 0 .5.1.6 0 .5.1.5 0 .6 0 .5 0 .6.1.5 0 .6-.1.5 0 .6 0 .5 0 .6 0 .5-.1.6 0 .5-.1.6 0 .5-.1.5-.1.6-.1.5-.2.6-.2.5-.3.5-.3.4-.4.3-.4.3-.5.2-.4.1-.3.2-.5.1-.5.1-.4.1-.5.1-.5.1-.7.1-.4 0-.4.1-.5 0-.6.1-.6 0-.8.1-.8 0-1 .1-1.1 0-1.4.1-1.5 0-1.7.1-2 0-2.2.1-2.5 0-2.9.1-3.1 0-3.5.1-3.8 0-4.1.1-4.5 0-4.7.1-5 0-5.1.1-5.3 0-5.3.1-5.2 0-5.1.1-4.8 0-4.3.1-3.8 0-3.2.1-2.5 0-2 .1-1.3 0-1 .1-.8 0-.6 0-.8.1-1.1 0-1.4.1-2 0-2.4.1-3 0-3.5.1-4 0-4.2.1-4.5 0-4.4.1-4.2 0-3.7.1-2.9 0-1.8.1-.5 0 .9.1 2.4 0 3.8.1 5.1 0 6.3.1 7.1 0 7.7.1 8.1 0 8.2.1 8.3 0 8 .1 7.9 0 7.4.1 7 0 6.5.1 6 0 5.5.1 4.9 0 4.4.1 4 0 3.4.1 3.1 0 2.6.1 2.3 0 2 .1 1.7 0 1.5.1 1.2 0 1.1.1.9 0 .8.1.8 0 .6.1.5 0 .5.1.4 0 .4.1.4.1.6.1.6.1.4.1.4.1.4.1.5.2.4.2.4.2.4.2.4.3.4.4.3.6.4.5.3.6.2.5.1.5.1.6.1.5.1.6.1.5 0 .6 0 .5.1.6 0 .5 0 .6.1.5 0 .6 0 .5 0 .6 0 .5 0 .5 0 .6 0 .5.1.6 0 .5 0 .6 0 .5 0 .6 0 .5 0 .6 0 .5 0 .6 0 .5 0 .5 0 .6 0 .5 0 .6 0 .5 0 .6 0 .5 0 .6 0 .5 0 .6 0 .5 0 .6 0 .5 0 .5 0 .6-.1.5 0 .6 0 .5-.1.6 0 .5-.2.5-.4.3-.4.3-.3.3-.4.6.2.5.1.3-.4.1-.5.1-.4.1-.6.1-.7.1-.4 0-.5.1-.5 0-.6.1-.6 0-.6.1-.7 0-.8.1-.8 0-.8.1-.9 0-.9.1-.9 0-.9.1-1 0-.9.1-.9 0-.8 0-.8.1-.7 0-.6.1-.5.1-.6.2.8 0 .6.1.6 0 .8.1.8 0 .9.1.9 0 .9.1.9 0 1 .1.9 0 .9.1.8 0 .9.1.7 0 .8.1.7 0 .6.1.6 0 .5.1.5 0 .5.1.4 0 .4.1.6.1.5.1.4.2.4.2.4.3.4.6.3.5.1.6.1.5.1.6.1.5 0 .6 0 .5 0 .5.1.6 0 .5 0 .6 0 .5 0 .6 0 .5 0 .6 0 .5 0 .6 0 .5 0 .6 0 .5 0 .6 0 .5 0 .5 0 .6 0 .5 0 .6 0 .5 0 .6 0 .5 0 .6 0 .5 0 .6 0 .5 0 .6 0 .5 0 .5 0 .6 0 .5 0 .6 0 .5-.1.6 0 .5 0 .6 0 .5-.1.6-.1.5 0 .6-.2.5-.2.5-.3.4-.4.2-.5.1-.4.1-.4.1-.4.1-.6.1-.7.1-.4 0-.4.1-.4 0-.5.1-.5 0-.6.1-.6 0-.6.1-.7 0-.7.1-.7 0-.8.1-.8 0-.8.1-.8 0-.9.1-.8 0-.9.1-.8 0-.8.1-.8 0-.7.1-.7 0-.6.1-.5 0-.4.1-.6.3.7 0 .4.1.6 0 .6.1.7 0 .8.1.8 0 .8.1.8 0 .9.1.8 0 .8.1.9 0 .8.1.8 0 .7.1.7 0 .7.1.7 0 .6.1.6 0 .5.1.6 0 .4.1.5 0 .4.1.3.1.7.1.5.1.5.1.4.1.4.2.4.3.4.6.3.5.2.6.1.5.1.5.1.6 0 .5.1.6 0 .5 0 .6 0 .5.1.6 0 .5 0 .6 0 .5 0 .6 0 .5 0 .5 0 .6 0 .5 0 .6 0 .5 0 .6 0 .5 0 .6 0 .5 0 .6 0 .5 0 .6 0 .5 0 .6 0 .5 0 .5-.1.6 0 .5 0 .6 0 .5-.1.6 0 .5-.1.6-.1.5-.3.4-.4.2-.4.2-.4.1-.4.2-.6.1-.3.1-.5.1-.4.1-.5.1-.5.1-.5.1-.5.1-.5.1-.4.1-.4.1-.4.5.2.3.4.5 0 .3-.4.3-.4.3.4.2.5.1.4.1.5.1.5.1.5.1.5.1.5.1.4.1.5.1.4.1.3.1.5.2.4.2.4.2.3.5.4.5.2.6.1.5 0 .6 0 .5-.2.5-.3.4-.4.3-.4.6-.3.5.4.3.3.3.4.5.4.5.2.6.1.5 0 .6 0 .5 0 .6 0 .5 0 .5 0 .6 0 .5 0 .6 0 .5 0 .6 0 .5 0 .6 0 .5-.1.6 0 .5 0 .6-.1.5-.1.6-.1.5-.2.4-.4.3-.4.2-.4.2-.4.2-.4.1-.4.2-.4.1-.4.2-.4.2-.4.5-.1.3.4.2.4.3.4.6-.3.1-.4.1-.3.1-.5.1-.5.1-.7.1-.4 0-.4.1-.4 0-.4.1-.5 0-.5.1-.6 0-.5.1-.6 0-.6.1-.7 0-.7.1-.7 0-.7.1-.7 0-.8.1-.7 0-.8.1-.8 0-.8.1-.8 0-.8.1-.7 0-.8.1-.7 0-.7.1-.7 0-.6.1-.6 0-.5.1-.4 0-.4.1-.5.3.7.1.4 0 .4.1.6 0 .5.1.7 0 .7.1.7 0 .7.1.8 0 .8.1.8 0 .8 0 .8.1.8 0 .7.1.8 0 .8.1.7 0 .7.1.7 0 .7.1.7 0 .6.1.6 0 .6.1.5 0 .6.1.4 0 .5.1.5 0 .4.1.4 0 .3.1.7.1.6.1.4.1.5.1.3.2.5.2.4.2.4.4.4.5.3.6.2.5.2.6.1.5.1.6 0 .5.1.6 0 .5.1.5 0 .6 0 .5 0 .6 0 .5.1.6 0 .5 0 .6 0 .5 0 .6 0 .5 0 .6 0 .5 0 .5 0 .6 0 .5 0 .6 0 .5 0 .6 0 .5 0 .6 0 .5 0 .6 0 .5 0 .6 0 .5 0 .6 0 .5.1.5 0 .6 0 .5 0 .6 0 .5 0 .6 0 .5 0 .6 0 .5 0 .6 0 .5 0 .6 0 .5 0 .5 0 .6 0 .5-.1.6 0 .5 0 .6 0 .5 0 .6 0 .5 0 .6 0 .5 0 .6 0 .5 0 .5 0 .6 0 .5 0 .6 0 .5 0 .6-.1.5 0 .6 0 .5-.1.6-.2.5-.3.5-.4.4-.3.5-.4.5-.1.5.2.6.1.5-.4.3-.4.2-.4.1-.4.2-.4.1-.5.2-.5.1-.4.1-.3.1-.4.1-.5.2-.5.1-.3.3-.4.4.4.2.4.1.5.1.4.1.3.1.4.1.4.1.3.1.4.2.5.1.5.2.4.1.4.2.4.3.4.3.4.5.4.5.2.5.1.6 0 .5.1.6 0 .5 0 .6.1.5 0 .6 0 .5 0 .6 0 .5 0 .6 0 .5 0 .5 0 .6 0 .5 0 .6 0 .5 0 .6 0 .5 0 .6 0 .5 0 .6 0 .5 0 .6-.1.5-.1.6-.1.5-.2.5-.3.6-.1.5 0 .6-.1.5 0 .6-.1.5.1.6.2.5.3.6.2.5.2.6 0 .5.1.5 0 .6 0 .5 0 .6 0 .5 0 .6 0 .5 0 .6 0 .5 0 .6 0 .5 0 .6 0 .5 0 .5 0 .6 0 .5 0 .6 0 .5 0 .6 0 .5 0 .6 0 .5 0 .6 0 .5-.1.6 0 .5 0 .6-.1.5-.1.5-.2.5-.4.4-.4.2-.4.3-.4.2-.4.2-.4.2-.5.2-.4.2-.4.2-.4.6-.3.3.4.3.4.2.4.2.5.2.4.2.4.2.4.2.4.3.4.4.4.5.3.5.2.6.1.5.1.6 0 .5.1.6 0 .5 0 .6 0 .5 0 .6 0 .5 0 .6 0 .5 0 .6.1.5 0 .5 0 .6 0 .5 0 .6 0 .5 0 .6 0 .5 0 .6 0 .5 0 .6 0 .5 0 .6 0 .3 0" stroke="#000" stroke-width="1.35" fill="none" stroke-linejoin="round"/>
<path d="M386.3 802.6V807.3M433 802.6V807.3M434.4 802.6V807.3M469.8 802.6V807.3M471.6 802.6V807.3M502.8 802.6V807.3M530.2 802.6V807.3M532.4 802.6V807.3M556.1 802.6V807.3M558.1 802.6V807.3M559.6 802.6V807.3M605.5 802.6V807.3M610 802.6V807.3M624.2 802.6V807.3M625.9 802.6V807.3M627.7 802.6V807.3M630.9 802.6V807.3M633.1 802.6V807.3M651.6 802.6V807.3M653.3 802.6V807.3M655.3 802.6V807.3M671.3 802.6V807.3" stroke="#2f9a62" stroke-width="1.1" fill="none"/>
<path d="M462.4 802.6V807.3M525.7 802.6V807.3M577.5 802.6V807.3M622.4 802.6V807.3" stroke="#8fd0ac" stroke-width="1.1" fill="none"/>
<path d="M386.3 811.8V817.5M400.5 811.8V817.5M433.9 811.8V817.5M444.9 811.8V817.5M453.9 811.8V817.5M462.9 811.8V817.5M472.1 811.8V817.5M480.8 811.8V817.5M488.3 811.8V817.5M503.7 811.8V817.5M511.7 811.8V817.5M525.7 811.8V817.5M532.7 811.8V817.5M539.7 811.8V817.5M559.6 811.8V817.5M572.1 811.8V817.5M578.5 811.8V817.5M590.5 811.8V817.5M597 811.8V817.5M608 811.8V817.5M618.9 811.8V817.5M622.9 811.8V817.5M625.9 811.8V817.5M628.9 811.8V817.5M631.9 811.8V817.5M653.8 811.8V817.5M657.8 811.8V817.5M665.8 811.8V817.5M668.8 811.8V817.5" stroke="#2f9a62" stroke-width="1.1" fill="none"/>
<path d="M566.6 811.8V817.5M614.4 811.8V817.5M639.1 811.8V817.5M643.9 811.8V817.5M661.8 811.8V817.5M672 811.8V817.5" stroke="#8fd0ac" stroke-width="1.1" fill="none"/>
<path d="M374.1 841.4l.2-.3.3.8.2-.9.3.5.2.3.3.1.2-.7.3-.1.2.1.3.6.2-.8.3.3.2.4.3-.8.2.4.3.3.2.1.3-.2.2-.8.3 1 .2-.6.3.3.2.5.3-1 .2.6.3.3.2-1.3.3.6.2.2.3-.1.2-.2.2-.3.3.2.2.4.3 0 .2.2.3-.4.2-.4.3 1.1.2-1.2.3.8.2-.7.3 1 .2-.1.3-.2 0 .2.1-1.2 0 .9.1-.2 0 .4.1-.5 0 .9.1-.6 0 .5.1-.3 0 .3.1.1 0-.5.1 1.2 0-.4.1.2 0-.4.1 0 0 .1.1-.4 0 .6.1-1.6 0 0 .1-.8 0-.2.1-.7 0 .3.1-.6 0 .7.1-.3 0 .3.1.4 0 0 .1 1.1 0 0 .1.4 0 .7.1 1.1 0 .7.1 1.7 0-.6.1-.1 0-.8.1.8 0 .1.1-2 0-.4.1.6 0-1.4.1-.5 0-.4.1-.2 0-.7.1-.1 0-.2.1.7 0-1.1.1.6 0 .9.1 0 0-.6.1.3 0 .6.1.4 0-.5.1.4 0-.5.1.5 0-.1.1-.5.2 1 .2-.5.3-.8.2.7.3.2.2.6.3-1.4.2.7.3.2.2-.3.3.1.2.2.3-.5.2.6.3-.1.2-.7.3.8.2-.1.3-.3.2-.6.3.7.2-.9.3.6.2.5.3.2.2.2.3-1.1.2.5.3-.3.2-.2.3.4.2-.5.2.1.3.3.2 0 .3.6.2-.1.3-.6.2-.1.3.4.2.1.3-.4.2.4.3.8.2-1.2.3 1 .2-.7.3 0 .2-.5.3-.1.2 1 .3-.8.2.2.3.9.2-.4.3-.8.2 0 .3.4.2 0 .3.1.2-.3.2.1.3.1.2.3.3-.1.2 1 .3-1.5.2.5.3.2.2.4.3-.7.2 0 .3.4.2.1.3-.5.2 0 .3.2.2-.6.3-.5.2.2.3 1 .2 0 .3-.5.2.6.3-.2.2.1.3-.5.2.7.3-.6.2-.2.3.7.2-.2.2 0 .3.3.2-.1.3 0 .2-.1.3.3.2-.9.3-.5.2.4.3.4.2.3.3.1.2-.1.3-.7.2.3.3-.1.2.7.3-.3.2.1.3-.2.2.4.3-1.1.2.4.3-.1.2 0 .3-.2.2.7.3-.3.2-.1.2.4.3 0 .2.3.3-.8.2.6.3-.2.2 0 .3-.1.2.1.3-.4.2.6.3 0 .2-.7.3.5.2-.3.3-.2.2.2.3.1.2-.6.3 1.1.2-.6.3.8.2-.6.3-.4.2-.5.3 1 .2-.3.3-.1.2.4.3-.5.2 0 .2.4.3-.6.2.1.3.9.2-.9.3.1.2.3.3.2.2-.8.3.7.2.2.3-.4.2-.3.3.8.2-.8.3 0 .2.9.3-1.2.2.1.3-.1.2.4.3.2.2.4.3-.2 0 .4.1-.8 0 1.5.1-.3 0 .1.1.5 0 .6.1-.6 0 1.2.1.7 0-.2.1 1.9 0-.2.1-.2 0-.1.1-.2 0 0 .1-.5 0-1.8.1-1.4 0-1.7.1-1.2 0-2.1.1-2.8 0-.9 0-1.4.1-1.2 0-.4.1.6 0 .2.1 1.2 0 1.6.1 1.5 0 2.5.1 1.7 0 2.2.1 2.2 0 1.1.1 1.3 0 .1.1.6 0 .2.1-1 0-.7.1-1.1 0-1.1.1-1.3 0-1.3.1-3 0 .3.1-1.4 0-2 .1.3 0-.7.1-.1 0 1.6.1.4 0 .9.1 1.6 0 1.4.1 1.6 0 .5.1 1.4 0 1.3.1-.4 0 .4.1.2 0-.2.1-.4 0-.4.1-.6 0-.1.1-1.2 0 .1.1-1.5 0 .2.1-.1 0-.2.1-.5 0 .3.1-.2 0 .2.1.3 0-.3.1-.3 0 .5.1-.3 0 .8.1.5 0-.6.1.4 0 .3.1-.4 0-.5.1.9.2-.6.3.4.2.1.3.1.2-.4.3.7.2-.3.3-.7.2.9.3-.8.2.5.3-.4.2.2.3 1.3.2-1.3.3-.4.2 0 .2 0 .3.2.2.4.3-.2.2-.7.3 1.2.2-1.2.3-.1.2 1 .3.4.2-.6.3-.8.2 1.2.3-.8.2.7.3.2.2-.1.3.1.2-.7.3.3.2-.1.3.4.2-.6.3-.4.2.7.3-.6.2-.1.3.8.2-.3.2.4.3-1.2.2 1 .3-.2.2-.3.3-.2.2.7.3-.2.2-.4.3.7.2.1.3-.4.2-.2.3 0 .2.5.3-.6.2.2.3.6.2-.6.3-.4.2.2.3.2.2.2.3-1.2.2 1.4.3-.3.2.5.3-.9.2.5.3-.1.2.4.2-1 .3.1.2.4.3.1.2.2.3-.4.2.7.3 0 .2.4.3-1.6.2.5.3.1.2 1.4.3-1.9.2-.4.3 1.3.2-.3.3-.1.2 1 .3-.6.2-.1.3-1 .2.8.3.1.2.4.3-1.3.2.2.3.1.2.4.2-.1.3.3.2.3.3.3.2-.9.3.6.2 0 .3-.6.2.8.3-1.2.2.8.3.3.2-.5.3.2.2-.8.3 1.1.2.1.3-.8.2.4.3-.4.2-.5.3.5.2.2.3.2.2 0 .3-1.3.1.8.1.5 0 0 .1-.3 0-.1.1 1 0 0 .1-.5 0 .2.1.7 0-.4.1-.2 0 1.4.1-.3 0-.5.1.4 0-1.2.1.6 0-.5 0-.5.1-.9 0-.7.1-.6 0-.8.1.2 0-.9.1-1.2 0-.8.1-.5 0 .3.1.5 0 .4.1.9 0 1 .1 1.1 0 .6.1 1 0 1.3.1.4 0 .4.1.8 0 .4.1-.6 0 0 .1-.1 0-1.1.1.2 0-.2.1-.6 0-.3.1 0 0-1.1.1.3 0-.3.1.7 0-1.3.1.2 0 .8.1-.2 0-.2.1 0 0 .3.1-.1 0 1 .1-.9 0 .1.1.4 0-.6.1.8 0-.6.2.7.2-.6.3.4.2-.3.3.7.2-.4.3.3.2-.4.3.3.2-.6.3.7.2-.6.3-.3.2.7.3-.6.2.8.3.2.2-.1.3-.2.2.1.2-1 .3.1.2.9.3-.7.2.1.3 0 .2.6.3-.8.2.2.3.8.2-.6.3.5.2-.3.3-.1.2.4.3-1 .2-.2.3.8.2-.2.3.8.2-.9.3.2.2 0 .3.5.2-.9.3.5.2-.3.3.8.2-1.3.3 1.2.2-.6.2-.3.3.4.2-.6.3 1.1.2-.8.3.9.2-.6.3.2.2-.8.3 1.3.2 0 .3-1.3.2.4.3.8.2-.9.3 1.5.2-.7.3-.7.2-.7.3 1.5.2.1.3-1 .2 0 .3.3.2-.6.3.8.2.4.3-.6.2-.5.2.3.3-.4.2.1.3.4.2.4.3-.3.2.4.3-.6.2 1.2.3-.6.2.4.3-1.1.2.3.3-.3.2.8.3-1 .2 1.1.3-.8.2-.2.3.2.2-.1.3 0 .2.9.3-.6.2-.4.3.5.2-.4.3-.4.2.6.3-.1.2.5.2-.7.3 1.1.2-1.2.1.1 0 0 .1.1 0 .7.1-.2 0-.3.1.6 0-.4.1 1 0-.2.1-.1 0 .5.1.1 0 0 .1.7 0-.8.1-.1 0 .3.1-.6 0-.2.1-1.1 0 .1.1-.6 0-.2.1-1 0-.9.1-.1 0 0 .1-.3 0 .3.1.2 0 .2.1 1 0 1.5.1 0 0 2.9.1 0 0 1.1.1 1.5 0 0 .1.4 0-.2.1.8 0-.5.1-1.7 0 0 .1-.5 0-1.6.1-.4 0-1.3.1-.5 0-.4.1-.3 0-.3.1-.2 0 0 .1 0 0 .4.1.1 0 .3.1.1 0-.5.1.4 0-.2.1 1 0 0 .1-.8 0 .6.1.1 0 .3.3.3.2-.5.3-.1.2-.7.3 1 .2-.8.3.5.2.7.3-.6.2-.3.3-.3.2.5.2-.3.3-.6.2 1.1.3-.3.2-.2.3.5.2.4.3-.8.2.6.3-.4.2 0 .3.1.2-.1.3-.4.2.9.3-.5.2.7.3-.6.2 0 .3-.6.2 1.3.3-.1.2-.4.3-.2.2-.4.3.4.2-.7.3 1.1.2-.5.3.3.2.3.2-1.3.3.1.2 1.3.3 0 .2-.8.3-.3.2-.4.3.8.2-.7.3.8.2.2.3-.5.2.4.3.3.2-.4.3-1 .2 1 .3-.2.2 0 .3 1.1.2-.3.3-.5.2 0 .3.2.2.4.3-1 .2.2.3.1.2 0 .2.5.3 0 .2-1.3.3.4.2.1.3.9.2 0 .3-1.5.2 1.1.3 0 .2-.4.3-.8.2.5.3.5.2.1.3-.4.2-1.2.3 1.4.2-.1.3.5.2-.7.3.3.2 0 .3-.2.2-.1.2.7 0 .2.1-.6 0-.1.1.3 0-.1.1.7 0-.4.1-.3 0 .5.1-.4 0 .2.1-.3 0 0 .1.6 0-.3.1.2 0-.2.1-.5 0 .8.1-.7 0 .3.1-1 0-.3 0-.1.1-.2 0 .1.1-.3 0 .5.1-.6 0 .7.1 0 0-.3.1.5 0 0 .1 1.5 0-.5.1 1.2 0-.4.1 1.1 0 0 .1-.1 0-.6.1.4 0-.5.1-.3 0 .1.1-.4 0-.9.1.2 0 0 .1-.2 0-.5.1 0 0 .7.1-.4 0-.4.1-.4 0 .3.1.6 0-.5.1.7 0 .4.1-.4 0 .2.1-.6 0 .2.1.6 0-.6.1.2.1.1.3-.2.2.6.3-.6.2-.5.3 1.1.2.2.3-.8.2-.5.3 1.2.2-.8.3.7.2 0 .3-1 .2 1.1.3-.4.2-.7.3 1.1.2.2.3-.6.2-.1.2-.2.3-.1.2 1.5.3-.3.2-1.3.3.2.2-.2.3.1.2-.1.3.9.2-.7.3-.8.2 1.8.3-.6.2.3.3.1.2.1.3-1.4.2.7.3-.1.2-.1.3.8.2-.6.3-.1.2-.3.3 0 .2-.5.3 0 .2.8.3-.1.2.6.2 0 .3-.4.2.2.3-.2.2 0 .3 0 .2.6.3-1.5.2.8.3 0 .2.4.3-.1.2.2.3 0 .2-1 .3.7.2-.2.3.5.2-.8.3-.1.2 0 .3.6.2-.6.3.2.2.8.3-.4.2-.3.3-.3.2.8.2-.9.3.9.2-.4.3.1.2.1.3-.8.2.7.3-.3.2.4.3-.9.2 1.1.3-.4.2-.5.3.5.2.1.3-.5.2.2.3-.3 0 .4.1.1 0-.1.1.4 0 .2.1-.8 0 .8.1.1 0-.5.1 1.2 0-.1.1-.2 0-.5.1.1 0 1.1.1-1.3 0 .1.1.4 0-.9.1 0 0-.7.1 0 0-.3.1-1.3 0 .1.1-.9 0 .2.1 0 0 .5.1-.4 0 .2.1.9 0-.4.1.8 0 1.3.1.4 0 .7.1.2 0 .7.1-.4 0 .6.1-.2 0-.2.1.2 0-1.6.1.7 0-.2.1-.1 0-.3.1-1.2 0 0 .1-.3 0 .2.1-.5 0 0 .1.4 0 .2.1-.1 0 .1.1.1 0 .7 0-1.1.1.6 0-.1.1.2 0 .5.1-.7 0 0 .1.8 0 .1.3-1.2.2.8.3.1.2.6.3-.8.2.4.3-.1.2 0 .3-.4.2.5.3 0 .2-.1.3-1 .2.5.3.1.2-.1.3.3.2-.2.3.1.2.2.3.1.2 0 .3-.3.2-.2.3.5.2 0 .3-.6.2.7.2-.1.3-.8.2.9.3-.9.2.9.3-1 .2 1 .3-.3.2-.1.3-.2.2.2.3.3.2-.4.3.2.2-.6.3.7.2-.2.3.2.2.9.3-.9.2 0 .3.3.2-.5.3.1.2.5.3-.8.2-.5.3 1 .2.4.3-.3.2-1 .2 1.1.3-.4.2 0 .3.6.2-1.8.3 1 .2-.1.3.6.2-.5.3 0 .2.6.3-.7.2.4.3-.5.2 1.1.3-.4.2-.1.3 0 .2-.3.3.5.2-1 .3.6.2-.5.3.6.2-.5.3-.2.2.5.3.1.2 0 .2-.2.3.4.2-.5.3.8.2-.5.3.5.2-.8.3.6.2-.2.3 0 .2.3.3-.7.2.8.3.3.2-.5.3-.8.2.7.3-.4.2.4.3.1.2-.6.3 1.5.2-1.5.3.4.2-.5.3.2.2-.4.3.2.2.1.3.3.2.1.2-.5.3.5.2 0 .3-.2.2 0 .3.7.2.4.3-1.5.2 1.1.3 0 .2-.6.3.3.2-.2.3.3.2-.6.3-.4.2.2.3.8.2-.1.3.1.2-.3.3-.2.2.3.3-.8.2.7.3.3.2-.2.3-.6.2-.2.2.4.3-.4.2.9.3 0 .2.3.3-.4.2-.4.3.7.2-.1.3.2.2-1.2.3.4.2-.6.3 1.4.2-.3.3-.7.2.5.3-.9.2.8.3-.5.2.9.3-.5.2-.1.3.5.2-.4.3-.2.2.5.3-.8.2.7.3-.2.2.5.2-.2.3-.3.2.1.3.7.2.2.3-1.2.2-.2.3.4.2.2.3.4.2-.7.3 0 .2.3.3-.5.2.2.3.2.2.1.3.2.2 0 .3-.6.2.6.3-.1.2.4.3-.7.2.6.3-.2.2-1 .3 1.1.2-1.1.2.9.3.4.2-1.2.3.3.2-.3.3-.3.2.6.3.5.2.3.3-.7.2.1.3-1 .2 2.2.3-1.6.2.5.3.1.2-.1.3.4.2-.2.3-.1.2-.9.3.5.2.7.3-.2.2-.3.3 0 .2-.2.3.7.2-.1.3-.2.2 0 .2.2.3-.3.2.1.3.2.2-1.1.3.9.2-.5.3.5.2.4.3-.2.2-.3.3 0 .2.3.3.1.2-.6.3.5.2-.7.3.3.2.3.3-.2.2-.5.3.6.2-.8.3.5.2 0 .3.2.2-.5.3.5.2.6.2-.8.3-.1.2-.4.3 1.2.2-.3.3-.5.2.4.3-.2.2.6.3-.6.2.1.3.2.2-.3.3-.1.2.6.3-.6.2.2.3.1.2.3.3-.2.2-.1.3.3.2.1.3-.4.2.1.3 0 .2-.4.3.6.2-.9.3.4.2-.3.2-.5.3 1.1.2 0 .3-.7.2.3.3 0 .2.7.3-.3.2-.5.3.4.2 0 .3.4.2-.3.3-.2.2-.4.3-.3.2-.3.3 1 .2.3.3-.1.2-.2.3.4.2-.6.3.6.2-.6.3.3.2-.1.3-.1.2 0 .2.3.3-.7.2 1 .3 0 .2 0 .3-.4.2-.8.3 1 .2-.6.3.1.2.4.3-.2.2.3.3-.8.2.5.3-.1.2 0 .3.2.2-.8.3.8.2-.4.3.4.2-.6.3.5.2.3.3-.6.2.6.3-.8.2.2.3 1.2.2-.6.2 0 .3-.5.2.4.3.6.2-.3.3-.4.2-.4.3 0 .2-.2.3.7.2.1.3-.8.2.5.3-.2.2-.2.3.3.2.4.3-.2.2-.4.3.2.2-.5.3-.1.2 1.4.3-1 .2.3.3-.5.2.2.3-.1.2 0 .2.1.3.2.2.3.3-.4.2.7.3-.4.2 0 .3-.4.2.5.3.3.2-.7.3-.2.2.7.3.6.2-1.3.3 1 .2-.4.3-.5.2-.2.3 1.3.2-.5.3.4.2-1.1.3.7.2-.5.3 0 .2.6.3-.3.2-.8.3.7.2 0 .2-.1.3 0 .2.4.3-.5.2.2.3-.5.2.8.3-.2.2-.2.3-.6.2 1.2.3-1.1.2 1.3.3 0 .2-1.3.3.7.2-.4.3.2.2-.2.3.6.2-.2.3.1.2-.1.3.1.2-.2.3 0 .2.2.3-.1.2-.4" stroke="#1f5fcf" stroke-width="1.5" fill="none" stroke-linejoin="round"/>
</g>
<rect x="374" y="612" width="298" height="240" fill="none" stroke="#000" stroke-width="2"/>
<path d="M374.1 851.6V857.4M398.9 851.6V854.9M423.8 851.6V857.4M448.6 851.6V854.9M473.4 851.6V857.4M498.3 851.6V854.9M523.1 851.6V857.4M547.9 851.6V854.9M572.8 851.6V857.4M597.6 851.6V854.9M622.4 851.6V857.4M647.3 851.6V854.9M672.1 851.6V857.4" stroke="#000" stroke-width="1.8" fill="none"/>
<text x="374.1" y="875" text-anchor="middle" class="tl" style="font-size:18.7px">20</text>
<text x="423.8" y="875" text-anchor="middle" class="tl" style="font-size:18.7px">30</text>
<text x="473.4" y="875" text-anchor="middle" class="tl" style="font-size:18.7px">40</text>
<text x="523.1" y="875" text-anchor="middle" class="tl" style="font-size:18.7px">50</text>
<text x="572.8" y="875" text-anchor="middle" class="tl" style="font-size:18.7px">60</text>
<text x="622.4" y="875" text-anchor="middle" class="tl" style="font-size:18.7px">70</text>
<text x="672.1" y="875" text-anchor="middle" class="tl" style="font-size:18.7px">80</text>
<text x="468.8" y="897" class="xt" style="font-size:23.6px">2<tspan class="th">θ</tspan> (Degrees)</text>
<text transform="translate(364 732.9) rotate(-90)" text-anchor="middle" class="yt" style="font-size:23.0px">Intensity (a.u)</text>
<text x="452.4" y="651.1" class="pl" style="font-size:43.5px">(f)</text>
<circle cx="552.8" cy="630.3" r="2.5" fill="#f2000a"/>
<path d="M540 648.2H565.6" stroke="#000" stroke-width="1.5"/>
<path d="M540 666.1H565.6" stroke="#5b8fd6" stroke-width="1.5"/>
<path d="M552.8 681.4V686.6" stroke="#8fd0ac" stroke-width="0.9"/>
<text x="568.4" y="633.8" class="lg" style="font-size:11.5px">Y<tspan style="font-size:7.1px" dy="4">obs</tspan></text>
<text x="568.4" y="651.7" class="lg" style="font-size:11.5px">Y<tspan style="font-size:7.1px" dy="4">cal</tspan></text>
<text x="568.4" y="669.6" class="lg" style="font-size:11.5px">Y<tspan style="font-size:7.1px" dy="4">obs</tspan><tspan dy="-4">-Y</tspan><tspan style="font-size:7.1px" dy="4">cal</tspan></text>
<text x="568.4" y="687.5" class="lg" style="font-size:11.5px">Bragg position</text>
</g>
</svg>
</body></html>
